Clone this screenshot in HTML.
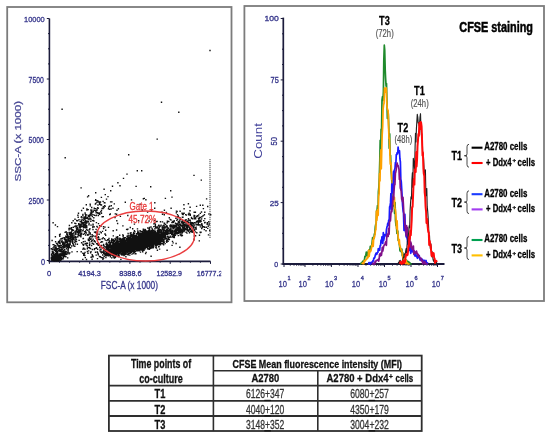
<!DOCTYPE html>
<html><head><meta charset="utf-8"><title>CFSE staining</title>
<style>html,body{margin:0;padding:0;background:#fff;width:550px;height:440px;overflow:hidden}svg{display:block}text{font-family:"Liberation Sans",Arial,sans-serif}</style>
</head><body>
<svg width="550" height="440" viewBox="0 0 550 440">
<rect width="550" height="440" fill="#fff"/>
<rect x="7.2" y="7" width="224.3" height="295.3" fill="none" stroke="#7c7c7c" stroke-width="1.8"/>
<rect x="244.4" y="6" width="299.6" height="295" fill="none" stroke="#7c7c7c" stroke-width="1.8"/>
<line x1="49.4" y1="18.5" x2="49.4" y2="262" stroke="#1c1c3c" stroke-width="1.6"/>
<line x1="48.6" y1="261.3" x2="210.5" y2="261.3" stroke="#1c1c3c" stroke-width="1.8"/>
<line x1="46.8" y1="260.5" x2="49.4" y2="260.5" stroke="#1c1c3c" stroke-width="1"/>
<line x1="48.0" y1="245.4" x2="49.4" y2="245.4" stroke="#1c1c3c" stroke-width="1"/>
<line x1="48.0" y1="230.2" x2="49.4" y2="230.2" stroke="#1c1c3c" stroke-width="1"/>
<line x1="48.0" y1="215.1" x2="49.4" y2="215.1" stroke="#1c1c3c" stroke-width="1"/>
<line x1="46.8" y1="200.0" x2="49.4" y2="200.0" stroke="#1c1c3c" stroke-width="1"/>
<line x1="48.0" y1="184.9" x2="49.4" y2="184.9" stroke="#1c1c3c" stroke-width="1"/>
<line x1="48.0" y1="169.8" x2="49.4" y2="169.8" stroke="#1c1c3c" stroke-width="1"/>
<line x1="48.0" y1="154.6" x2="49.4" y2="154.6" stroke="#1c1c3c" stroke-width="1"/>
<line x1="46.8" y1="139.5" x2="49.4" y2="139.5" stroke="#1c1c3c" stroke-width="1"/>
<line x1="48.0" y1="124.4" x2="49.4" y2="124.4" stroke="#1c1c3c" stroke-width="1"/>
<line x1="48.0" y1="109.2" x2="49.4" y2="109.2" stroke="#1c1c3c" stroke-width="1"/>
<line x1="48.0" y1="94.1" x2="49.4" y2="94.1" stroke="#1c1c3c" stroke-width="1"/>
<line x1="46.8" y1="79.0" x2="49.4" y2="79.0" stroke="#1c1c3c" stroke-width="1"/>
<line x1="48.0" y1="63.9" x2="49.4" y2="63.9" stroke="#1c1c3c" stroke-width="1"/>
<line x1="48.0" y1="48.8" x2="49.4" y2="48.8" stroke="#1c1c3c" stroke-width="1"/>
<line x1="48.0" y1="33.6" x2="49.4" y2="33.6" stroke="#1c1c3c" stroke-width="1"/>
<line x1="46.8" y1="18.5" x2="49.4" y2="18.5" stroke="#1c1c3c" stroke-width="1"/>
<line x1="49.4" y1="261.3" x2="49.4" y2="263.9" stroke="#1c1c3c" stroke-width="1"/>
<line x1="59.5" y1="261.3" x2="59.5" y2="262.7" stroke="#1c1c3c" stroke-width="1"/>
<line x1="69.5" y1="261.3" x2="69.5" y2="262.7" stroke="#1c1c3c" stroke-width="1"/>
<line x1="79.6" y1="261.3" x2="79.6" y2="262.7" stroke="#1c1c3c" stroke-width="1"/>
<line x1="89.7" y1="261.3" x2="89.7" y2="263.9" stroke="#1c1c3c" stroke-width="1"/>
<line x1="99.7" y1="261.3" x2="99.7" y2="262.7" stroke="#1c1c3c" stroke-width="1"/>
<line x1="109.8" y1="261.3" x2="109.8" y2="262.7" stroke="#1c1c3c" stroke-width="1"/>
<line x1="119.9" y1="261.3" x2="119.9" y2="262.7" stroke="#1c1c3c" stroke-width="1"/>
<line x1="129.9" y1="261.3" x2="129.9" y2="263.9" stroke="#1c1c3c" stroke-width="1"/>
<line x1="140.0" y1="261.3" x2="140.0" y2="262.7" stroke="#1c1c3c" stroke-width="1"/>
<line x1="150.1" y1="261.3" x2="150.1" y2="262.7" stroke="#1c1c3c" stroke-width="1"/>
<line x1="160.2" y1="261.3" x2="160.2" y2="262.7" stroke="#1c1c3c" stroke-width="1"/>
<line x1="170.2" y1="261.3" x2="170.2" y2="263.9" stroke="#1c1c3c" stroke-width="1"/>
<line x1="180.3" y1="261.3" x2="180.3" y2="262.7" stroke="#1c1c3c" stroke-width="1"/>
<line x1="190.4" y1="261.3" x2="190.4" y2="262.7" stroke="#1c1c3c" stroke-width="1"/>
<line x1="200.4" y1="261.3" x2="200.4" y2="262.7" stroke="#1c1c3c" stroke-width="1"/>
<line x1="210.5" y1="261.3" x2="210.5" y2="263.9" stroke="#1c1c3c" stroke-width="1"/>
<text x="24.0" y="22.2" font-size="8.10" fill="#34348a" stroke="#34348a" stroke-width="0.3" textLength="20.7" lengthAdjust="spacingAndGlyphs" >10000</text>
<text x="28.6" y="82.6" font-size="8.38" fill="#34348a" stroke="#34348a" stroke-width="0.3" textLength="15.2" lengthAdjust="spacingAndGlyphs" >7500</text>
<text x="28.6" y="143.2" font-size="8.38" fill="#34348a" stroke="#34348a" stroke-width="0.3" textLength="15.2" lengthAdjust="spacingAndGlyphs" >5000</text>
<text x="28.6" y="204.0" font-size="8.38" fill="#34348a" stroke="#34348a" stroke-width="0.3" textLength="15.2" lengthAdjust="spacingAndGlyphs" >2500</text>
<text x="40.9" y="264.5" font-size="8.38" fill="#34348a" stroke="#34348a" stroke-width="0.3" textLength="4.1" lengthAdjust="spacingAndGlyphs" >0</text>
<text x="47.0" y="275.8" font-size="7.68" fill="#34348a" stroke="#34348a" stroke-width="0.3" textLength="4.2" lengthAdjust="spacingAndGlyphs" >0</text>
<text x="78.2" y="275.8" font-size="7.68" fill="#34348a" stroke="#34348a" stroke-width="0.3" textLength="22.7" lengthAdjust="spacingAndGlyphs" >4194.3</text>
<text x="119.2" y="275.8" font-size="7.68" fill="#34348a" stroke="#34348a" stroke-width="0.3" textLength="22.4" lengthAdjust="spacingAndGlyphs" >8388.6</text>
<text x="156.5" y="275.8" font-size="7.68" fill="#34348a" stroke="#34348a" stroke-width="0.3" textLength="25.5" lengthAdjust="spacingAndGlyphs" >12582.9</text>
<clipPath id="c1"><rect x="190" y="265" width="31.2" height="15"/></clipPath>
<text x="196.8" y="275.8" font-size="7.68" fill="#34348a" stroke="#34348a" stroke-width="0.3" textLength="25.6" lengthAdjust="spacingAndGlyphs" clip-path="url(#c1)">16777.2</text>
<text x="100.8" y="289.3" font-size="10.89" fill="#34348a" stroke="#34348a" stroke-width="0.3" textLength="57.2" lengthAdjust="spacingAndGlyphs" >FSC-A (x 1000)</text>
<text transform="translate(21.3,181.4) rotate(-90)" x="0" y="0" font-size="8.6" fill="#4a4a96" stroke="#4a4a96" stroke-width="0.25" textLength="80.4" lengthAdjust="spacingAndGlyphs" font-family="Liberation Sans, Arial, sans-serif">SSC-A (x 1000)</text>
<path fill="#111" d="M131.2 241.7h1.4v1.4h-1.4zM149.5 241.6h1.4v1.4h-1.4zM149.4 241.2h1.4v1.4h-1.4zM130.7 244.8h1.4v1.4h-1.4zM114.6 251.0h1.4v1.4h-1.4zM136.5 236.3h1.4v1.4h-1.4zM123.3 243.8h1.4v1.4h-1.4zM159.4 239.3h1.4v1.4h-1.4zM139.2 243.5h1.4v1.4h-1.4zM137.6 239.8h1.4v1.4h-1.4zM126.4 241.8h1.4v1.4h-1.4zM139.2 242.7h1.4v1.4h-1.4zM130.1 247.6h1.4v1.4h-1.4zM123.5 247.9h1.4v1.4h-1.4zM141.5 246.7h1.4v1.4h-1.4zM120.6 244.0h1.4v1.4h-1.4zM132.8 239.9h1.4v1.4h-1.4zM143.9 237.7h1.4v1.4h-1.4zM144.2 244.2h1.4v1.4h-1.4zM122.8 239.1h1.4v1.4h-1.4zM142.1 238.6h1.4v1.4h-1.4zM121.8 248.9h1.4v1.4h-1.4zM152.9 245.8h1.4v1.4h-1.4zM132.4 242.4h1.4v1.4h-1.4zM108.3 237.7h1.4v1.4h-1.4zM131.3 239.5h1.4v1.4h-1.4zM149.0 240.4h1.4v1.4h-1.4zM138.0 241.4h1.4v1.4h-1.4zM142.0 243.4h1.4v1.4h-1.4zM138.8 243.3h1.4v1.4h-1.4zM109.4 246.4h1.4v1.4h-1.4zM142.2 243.5h1.4v1.4h-1.4zM116.7 240.0h1.4v1.4h-1.4zM140.0 243.7h1.4v1.4h-1.4zM135.3 237.7h1.4v1.4h-1.4zM135.0 243.5h1.4v1.4h-1.4zM122.9 241.6h1.4v1.4h-1.4zM128.2 239.5h1.4v1.4h-1.4zM132.8 242.3h1.4v1.4h-1.4zM137.7 233.1h1.4v1.4h-1.4zM125.5 247.6h1.4v1.4h-1.4zM132.2 244.8h1.4v1.4h-1.4zM137.4 244.6h1.4v1.4h-1.4zM135.3 243.2h1.4v1.4h-1.4zM145.1 242.7h1.4v1.4h-1.4zM148.0 243.4h1.4v1.4h-1.4zM135.5 246.2h1.4v1.4h-1.4zM151.2 232.9h1.4v1.4h-1.4zM121.0 247.4h1.4v1.4h-1.4zM144.7 242.7h1.4v1.4h-1.4zM139.0 244.0h1.4v1.4h-1.4zM150.1 240.8h1.4v1.4h-1.4zM132.1 243.6h1.4v1.4h-1.4zM159.7 236.0h1.4v1.4h-1.4zM134.9 246.5h1.4v1.4h-1.4zM135.8 237.2h1.4v1.4h-1.4zM130.0 241.4h1.4v1.4h-1.4zM159.4 236.5h1.4v1.4h-1.4zM144.8 245.9h1.4v1.4h-1.4zM123.3 246.4h1.4v1.4h-1.4zM145.2 241.2h1.4v1.4h-1.4zM125.6 253.4h1.4v1.4h-1.4zM168.5 229.7h1.4v1.4h-1.4zM129.5 246.3h1.4v1.4h-1.4zM137.1 239.7h1.4v1.4h-1.4zM155.5 242.1h1.4v1.4h-1.4zM123.2 251.0h1.4v1.4h-1.4zM118.2 238.4h1.4v1.4h-1.4zM135.9 246.9h1.4v1.4h-1.4zM136.8 238.6h1.4v1.4h-1.4zM147.6 240.8h1.4v1.4h-1.4zM154.6 240.3h1.4v1.4h-1.4zM139.6 240.2h1.4v1.4h-1.4zM136.9 240.2h1.4v1.4h-1.4zM153.5 239.4h1.4v1.4h-1.4zM128.7 245.2h1.4v1.4h-1.4zM152.7 237.7h1.4v1.4h-1.4zM146.9 238.3h1.4v1.4h-1.4zM139.5 244.2h1.4v1.4h-1.4zM131.7 240.6h1.4v1.4h-1.4zM135.0 246.7h1.4v1.4h-1.4zM145.4 242.4h1.4v1.4h-1.4zM112.1 252.4h1.4v1.4h-1.4zM147.3 237.5h1.4v1.4h-1.4zM132.6 243.9h1.4v1.4h-1.4zM135.4 242.7h1.4v1.4h-1.4zM140.6 237.1h1.4v1.4h-1.4zM124.1 244.3h1.4v1.4h-1.4zM114.7 250.1h1.4v1.4h-1.4zM126.3 246.2h1.4v1.4h-1.4zM135.8 237.4h1.4v1.4h-1.4zM138.4 249.8h1.4v1.4h-1.4zM122.8 242.5h1.4v1.4h-1.4zM129.0 239.8h1.4v1.4h-1.4zM104.8 248.9h1.4v1.4h-1.4zM157.8 243.4h1.4v1.4h-1.4zM105.9 246.1h1.4v1.4h-1.4zM139.5 243.4h1.4v1.4h-1.4zM143.7 242.2h1.4v1.4h-1.4zM122.6 238.9h1.4v1.4h-1.4zM144.9 234.6h1.4v1.4h-1.4zM149.6 232.0h1.4v1.4h-1.4zM142.8 249.6h1.4v1.4h-1.4zM96.6 251.3h1.4v1.4h-1.4zM141.1 237.5h1.4v1.4h-1.4zM131.0 246.1h1.4v1.4h-1.4zM134.4 242.4h1.4v1.4h-1.4zM132.8 244.0h1.4v1.4h-1.4zM124.9 248.5h1.4v1.4h-1.4zM157.0 237.1h1.4v1.4h-1.4zM143.2 242.9h1.4v1.4h-1.4zM137.4 245.3h1.4v1.4h-1.4zM109.3 244.5h1.4v1.4h-1.4zM134.0 240.8h1.4v1.4h-1.4zM117.8 249.6h1.4v1.4h-1.4zM153.5 240.6h1.4v1.4h-1.4zM160.7 232.1h1.4v1.4h-1.4zM136.3 241.0h1.4v1.4h-1.4zM158.6 240.3h1.4v1.4h-1.4zM125.3 240.4h1.4v1.4h-1.4zM133.7 241.0h1.4v1.4h-1.4zM135.8 244.6h1.4v1.4h-1.4zM143.2 241.9h1.4v1.4h-1.4zM129.0 250.0h1.4v1.4h-1.4zM127.1 245.1h1.4v1.4h-1.4zM144.6 241.2h1.4v1.4h-1.4zM134.3 247.6h1.4v1.4h-1.4zM106.1 251.4h1.4v1.4h-1.4zM141.4 244.9h1.4v1.4h-1.4zM140.5 237.8h1.4v1.4h-1.4zM123.3 254.9h1.4v1.4h-1.4zM143.3 234.8h1.4v1.4h-1.4zM125.8 247.2h1.4v1.4h-1.4zM138.0 241.2h1.4v1.4h-1.4zM135.2 245.2h1.4v1.4h-1.4zM147.0 232.3h1.4v1.4h-1.4zM133.7 246.0h1.4v1.4h-1.4zM128.0 245.4h1.4v1.4h-1.4zM129.6 232.5h1.4v1.4h-1.4zM125.7 244.4h1.4v1.4h-1.4zM131.3 247.0h1.4v1.4h-1.4zM123.6 242.3h1.4v1.4h-1.4zM140.4 245.7h1.4v1.4h-1.4zM134.8 244.7h1.4v1.4h-1.4zM137.6 242.8h1.4v1.4h-1.4zM135.4 236.9h1.4v1.4h-1.4zM133.5 236.6h1.4v1.4h-1.4zM144.6 243.2h1.4v1.4h-1.4zM142.1 241.2h1.4v1.4h-1.4zM132.4 242.7h1.4v1.4h-1.4zM147.9 235.9h1.4v1.4h-1.4zM137.1 240.3h1.4v1.4h-1.4zM111.0 248.7h1.4v1.4h-1.4zM141.5 236.1h1.4v1.4h-1.4zM128.1 249.6h1.4v1.4h-1.4zM141.7 241.9h1.4v1.4h-1.4zM152.7 233.4h1.4v1.4h-1.4zM121.6 241.6h1.4v1.4h-1.4zM134.0 243.4h1.4v1.4h-1.4zM133.6 238.0h1.4v1.4h-1.4zM132.1 242.4h1.4v1.4h-1.4zM135.2 244.5h1.4v1.4h-1.4zM133.2 240.5h1.4v1.4h-1.4zM149.7 240.3h1.4v1.4h-1.4zM115.8 246.9h1.4v1.4h-1.4zM122.3 249.5h1.4v1.4h-1.4zM140.2 239.1h1.4v1.4h-1.4zM130.5 248.4h1.4v1.4h-1.4zM144.0 239.7h1.4v1.4h-1.4zM129.3 249.3h1.4v1.4h-1.4zM121.0 246.9h1.4v1.4h-1.4zM155.8 243.1h1.4v1.4h-1.4zM164.6 237.2h1.4v1.4h-1.4zM111.9 246.5h1.4v1.4h-1.4zM125.7 246.3h1.4v1.4h-1.4zM142.9 240.2h1.4v1.4h-1.4zM143.7 236.6h1.4v1.4h-1.4zM149.3 233.3h1.4v1.4h-1.4zM150.7 242.9h1.4v1.4h-1.4zM147.2 242.6h1.4v1.4h-1.4zM149.7 239.8h1.4v1.4h-1.4zM133.2 245.4h1.4v1.4h-1.4zM126.6 251.2h1.4v1.4h-1.4zM136.6 249.3h1.4v1.4h-1.4zM152.1 235.8h1.4v1.4h-1.4zM132.7 246.9h1.4v1.4h-1.4zM151.9 239.2h1.4v1.4h-1.4zM126.1 246.5h1.4v1.4h-1.4zM155.1 242.2h1.4v1.4h-1.4zM144.0 242.0h1.4v1.4h-1.4zM126.9 245.3h1.4v1.4h-1.4zM159.7 234.6h1.4v1.4h-1.4zM114.2 240.5h1.4v1.4h-1.4zM116.2 249.4h1.4v1.4h-1.4zM132.3 238.7h1.4v1.4h-1.4zM129.1 246.8h1.4v1.4h-1.4zM141.1 242.5h1.4v1.4h-1.4zM128.3 241.5h1.4v1.4h-1.4zM144.6 240.4h1.4v1.4h-1.4zM130.9 248.3h1.4v1.4h-1.4zM139.1 244.0h1.4v1.4h-1.4zM147.8 242.3h1.4v1.4h-1.4zM171.8 240.7h1.4v1.4h-1.4zM140.7 243.5h1.4v1.4h-1.4zM132.3 245.1h1.4v1.4h-1.4zM132.7 237.6h1.4v1.4h-1.4zM135.8 246.5h1.4v1.4h-1.4zM123.0 246.6h1.4v1.4h-1.4zM144.1 239.6h1.4v1.4h-1.4zM144.6 236.9h1.4v1.4h-1.4zM141.1 243.5h1.4v1.4h-1.4zM135.9 246.4h1.4v1.4h-1.4zM157.9 235.1h1.4v1.4h-1.4zM138.2 242.3h1.4v1.4h-1.4zM145.6 237.4h1.4v1.4h-1.4zM147.6 240.2h1.4v1.4h-1.4zM144.5 232.6h1.4v1.4h-1.4zM135.4 244.7h1.4v1.4h-1.4zM115.8 246.8h1.4v1.4h-1.4zM130.2 237.6h1.4v1.4h-1.4zM119.8 248.0h1.4v1.4h-1.4zM136.1 239.6h1.4v1.4h-1.4zM129.0 246.9h1.4v1.4h-1.4zM133.3 236.9h1.4v1.4h-1.4zM138.4 241.2h1.4v1.4h-1.4zM124.5 247.4h1.4v1.4h-1.4zM133.6 243.8h1.4v1.4h-1.4zM103.4 247.9h1.4v1.4h-1.4zM146.3 243.1h1.4v1.4h-1.4zM132.9 231.7h1.4v1.4h-1.4zM134.2 244.1h1.4v1.4h-1.4zM129.7 247.6h1.4v1.4h-1.4zM122.2 253.0h1.4v1.4h-1.4zM146.4 241.1h1.4v1.4h-1.4zM130.9 241.3h1.4v1.4h-1.4zM134.9 247.2h1.4v1.4h-1.4zM145.6 239.9h1.4v1.4h-1.4zM135.3 239.8h1.4v1.4h-1.4zM128.1 252.9h1.4v1.4h-1.4zM139.0 244.5h1.4v1.4h-1.4zM121.0 253.7h1.4v1.4h-1.4zM127.7 242.9h1.4v1.4h-1.4zM137.8 243.4h1.4v1.4h-1.4zM112.4 242.3h1.4v1.4h-1.4zM126.6 228.9h1.4v1.4h-1.4zM130.5 241.6h1.4v1.4h-1.4zM134.7 242.1h1.4v1.4h-1.4zM126.7 247.5h1.4v1.4h-1.4zM135.5 243.3h1.4v1.4h-1.4zM117.8 254.1h1.4v1.4h-1.4zM143.5 241.7h1.4v1.4h-1.4zM146.5 246.1h1.4v1.4h-1.4zM148.9 241.0h1.4v1.4h-1.4zM142.5 242.5h1.4v1.4h-1.4zM137.6 243.1h1.4v1.4h-1.4zM144.4 246.3h1.4v1.4h-1.4zM139.4 241.8h1.4v1.4h-1.4zM132.3 236.0h1.4v1.4h-1.4zM128.9 241.5h1.4v1.4h-1.4zM127.1 242.6h1.4v1.4h-1.4zM131.4 246.5h1.4v1.4h-1.4zM133.6 233.0h1.4v1.4h-1.4zM137.7 242.8h1.4v1.4h-1.4zM103.3 249.0h1.4v1.4h-1.4zM128.1 246.5h1.4v1.4h-1.4zM106.1 250.5h1.4v1.4h-1.4zM140.1 234.7h1.4v1.4h-1.4zM138.5 246.9h1.4v1.4h-1.4zM129.0 240.6h1.4v1.4h-1.4zM142.0 240.0h1.4v1.4h-1.4zM135.4 244.4h1.4v1.4h-1.4zM124.1 244.5h1.4v1.4h-1.4zM164.4 242.9h1.4v1.4h-1.4zM140.1 242.7h1.4v1.4h-1.4zM132.4 247.4h1.4v1.4h-1.4zM119.0 243.8h1.4v1.4h-1.4zM132.6 234.6h1.4v1.4h-1.4zM153.6 243.2h1.4v1.4h-1.4zM123.4 244.1h1.4v1.4h-1.4zM138.5 244.8h1.4v1.4h-1.4zM148.2 232.0h1.4v1.4h-1.4zM128.2 240.6h1.4v1.4h-1.4zM125.8 245.3h1.4v1.4h-1.4zM114.8 256.6h1.4v1.4h-1.4zM111.6 247.4h1.4v1.4h-1.4zM138.2 242.9h1.4v1.4h-1.4zM140.5 239.8h1.4v1.4h-1.4zM110.6 253.0h1.4v1.4h-1.4zM144.8 243.6h1.4v1.4h-1.4zM142.1 249.6h1.4v1.4h-1.4zM121.1 249.2h1.4v1.4h-1.4zM130.6 245.6h1.4v1.4h-1.4zM133.0 237.3h1.4v1.4h-1.4zM135.7 243.5h1.4v1.4h-1.4zM131.9 245.9h1.4v1.4h-1.4zM139.7 234.0h1.4v1.4h-1.4zM140.5 242.5h1.4v1.4h-1.4zM118.2 248.7h1.4v1.4h-1.4zM146.1 245.0h1.4v1.4h-1.4zM131.8 240.0h1.4v1.4h-1.4zM129.7 248.5h1.4v1.4h-1.4zM112.1 244.0h1.4v1.4h-1.4zM129.0 242.3h1.4v1.4h-1.4zM135.3 242.6h1.4v1.4h-1.4zM114.9 250.9h1.4v1.4h-1.4zM146.0 243.1h1.4v1.4h-1.4zM150.8 238.8h1.4v1.4h-1.4zM139.4 241.1h1.4v1.4h-1.4zM125.4 248.4h1.4v1.4h-1.4zM130.5 238.7h1.4v1.4h-1.4zM145.6 237.2h1.4v1.4h-1.4zM143.3 241.7h1.4v1.4h-1.4zM168.0 238.5h1.4v1.4h-1.4zM162.8 239.1h1.4v1.4h-1.4zM148.7 236.2h1.4v1.4h-1.4zM148.0 245.1h1.4v1.4h-1.4zM113.6 243.2h1.4v1.4h-1.4zM139.1 244.4h1.4v1.4h-1.4zM122.7 246.5h1.4v1.4h-1.4zM133.7 235.9h1.4v1.4h-1.4zM150.4 238.0h1.4v1.4h-1.4zM158.8 239.0h1.4v1.4h-1.4zM121.3 243.0h1.4v1.4h-1.4zM129.4 239.9h1.4v1.4h-1.4zM119.0 249.3h1.4v1.4h-1.4zM132.4 243.4h1.4v1.4h-1.4zM125.7 245.2h1.4v1.4h-1.4zM138.5 246.1h1.4v1.4h-1.4zM129.1 244.9h1.4v1.4h-1.4zM130.1 245.0h1.4v1.4h-1.4zM131.3 244.0h1.4v1.4h-1.4zM152.0 235.3h1.4v1.4h-1.4zM130.8 244.1h1.4v1.4h-1.4zM114.0 254.0h1.4v1.4h-1.4zM158.5 225.2h1.4v1.4h-1.4zM137.6 239.7h1.4v1.4h-1.4zM103.2 250.2h1.4v1.4h-1.4zM144.7 233.7h1.4v1.4h-1.4zM145.4 239.0h1.4v1.4h-1.4zM151.0 245.4h1.4v1.4h-1.4zM137.3 240.2h1.4v1.4h-1.4zM142.8 242.4h1.4v1.4h-1.4zM124.0 246.0h1.4v1.4h-1.4zM137.5 240.0h1.4v1.4h-1.4zM125.0 252.1h1.4v1.4h-1.4zM135.8 240.7h1.4v1.4h-1.4zM126.4 241.9h1.4v1.4h-1.4zM118.9 245.0h1.4v1.4h-1.4zM164.4 227.0h1.4v1.4h-1.4zM118.1 251.0h1.4v1.4h-1.4zM151.6 239.5h1.4v1.4h-1.4zM137.1 246.4h1.4v1.4h-1.4zM134.5 241.8h1.4v1.4h-1.4zM133.1 236.9h1.4v1.4h-1.4zM119.6 249.5h1.4v1.4h-1.4zM138.3 242.4h1.4v1.4h-1.4zM124.2 242.4h1.4v1.4h-1.4zM140.6 243.0h1.4v1.4h-1.4zM133.6 244.1h1.4v1.4h-1.4zM131.6 245.3h1.4v1.4h-1.4zM136.3 236.7h1.4v1.4h-1.4zM141.1 246.3h1.4v1.4h-1.4zM156.0 244.1h1.4v1.4h-1.4zM138.0 240.8h1.4v1.4h-1.4zM151.2 243.6h1.4v1.4h-1.4zM134.7 242.6h1.4v1.4h-1.4zM123.8 244.2h1.4v1.4h-1.4zM106.2 246.3h1.4v1.4h-1.4zM136.9 250.1h1.4v1.4h-1.4zM122.5 246.9h1.4v1.4h-1.4zM156.0 240.3h1.4v1.4h-1.4zM107.0 252.5h1.4v1.4h-1.4zM139.0 236.1h1.4v1.4h-1.4zM121.5 251.3h1.4v1.4h-1.4zM131.7 246.7h1.4v1.4h-1.4zM150.8 234.1h1.4v1.4h-1.4zM159.3 237.0h1.4v1.4h-1.4zM115.0 249.2h1.4v1.4h-1.4zM136.3 244.5h1.4v1.4h-1.4zM145.9 239.6h1.4v1.4h-1.4zM124.8 237.0h1.4v1.4h-1.4zM134.4 247.6h1.4v1.4h-1.4zM139.6 246.1h1.4v1.4h-1.4zM116.0 254.6h1.4v1.4h-1.4zM136.7 243.2h1.4v1.4h-1.4zM135.1 235.4h1.4v1.4h-1.4zM133.8 239.3h1.4v1.4h-1.4zM129.9 241.4h1.4v1.4h-1.4zM120.6 241.3h1.4v1.4h-1.4zM149.0 239.2h1.4v1.4h-1.4zM128.4 251.1h1.4v1.4h-1.4zM133.4 247.9h1.4v1.4h-1.4zM140.2 246.5h1.4v1.4h-1.4zM141.2 242.7h1.4v1.4h-1.4zM158.9 242.3h1.4v1.4h-1.4zM137.1 243.3h1.4v1.4h-1.4zM127.3 238.8h1.4v1.4h-1.4zM134.2 241.6h1.4v1.4h-1.4zM118.3 240.6h1.4v1.4h-1.4zM138.4 241.3h1.4v1.4h-1.4zM162.0 240.9h1.4v1.4h-1.4zM137.1 244.3h1.4v1.4h-1.4zM146.7 233.3h1.4v1.4h-1.4zM144.1 245.3h1.4v1.4h-1.4zM139.4 240.9h1.4v1.4h-1.4zM138.7 245.2h1.4v1.4h-1.4zM144.7 241.2h1.4v1.4h-1.4zM133.1 246.8h1.4v1.4h-1.4zM149.3 238.5h1.4v1.4h-1.4zM132.8 244.3h1.4v1.4h-1.4zM115.5 250.2h1.4v1.4h-1.4zM131.5 248.1h1.4v1.4h-1.4zM138.2 240.9h1.4v1.4h-1.4zM135.3 243.3h1.4v1.4h-1.4zM139.8 251.4h1.4v1.4h-1.4zM120.3 246.4h1.4v1.4h-1.4zM141.7 245.2h1.4v1.4h-1.4zM139.1 239.0h1.4v1.4h-1.4zM132.4 240.6h1.4v1.4h-1.4zM128.9 244.6h1.4v1.4h-1.4zM153.5 234.7h1.4v1.4h-1.4zM140.1 246.6h1.4v1.4h-1.4zM124.1 243.1h1.4v1.4h-1.4zM158.5 241.2h1.4v1.4h-1.4zM136.9 239.2h1.4v1.4h-1.4zM122.6 246.1h1.4v1.4h-1.4zM135.3 237.9h1.4v1.4h-1.4zM133.8 235.6h1.4v1.4h-1.4zM129.0 247.1h1.4v1.4h-1.4zM144.0 235.2h1.4v1.4h-1.4zM140.6 237.4h1.4v1.4h-1.4zM129.4 245.4h1.4v1.4h-1.4zM142.4 243.1h1.4v1.4h-1.4zM127.1 238.1h1.4v1.4h-1.4zM139.5 243.7h1.4v1.4h-1.4zM128.7 248.4h1.4v1.4h-1.4zM130.5 241.6h1.4v1.4h-1.4zM133.7 241.3h1.4v1.4h-1.4zM144.4 238.2h1.4v1.4h-1.4zM141.9 246.8h1.4v1.4h-1.4zM142.0 246.1h1.4v1.4h-1.4zM139.1 245.5h1.4v1.4h-1.4zM115.9 242.8h1.4v1.4h-1.4zM117.1 247.5h1.4v1.4h-1.4zM146.6 244.0h1.4v1.4h-1.4zM135.1 250.6h1.4v1.4h-1.4zM116.8 250.1h1.4v1.4h-1.4zM136.0 235.5h1.4v1.4h-1.4zM136.3 235.6h1.4v1.4h-1.4zM128.2 249.2h1.4v1.4h-1.4zM129.1 249.0h1.4v1.4h-1.4zM114.8 244.1h1.4v1.4h-1.4zM128.8 246.6h1.4v1.4h-1.4zM118.4 248.5h1.4v1.4h-1.4zM123.4 253.0h1.4v1.4h-1.4zM123.7 250.8h1.4v1.4h-1.4zM100.9 252.0h1.4v1.4h-1.4zM127.6 244.2h1.4v1.4h-1.4zM149.6 241.2h1.4v1.4h-1.4zM120.3 244.1h1.4v1.4h-1.4zM116.9 247.0h1.4v1.4h-1.4zM122.0 245.7h1.4v1.4h-1.4zM140.9 246.8h1.4v1.4h-1.4zM135.0 240.8h1.4v1.4h-1.4zM132.6 244.7h1.4v1.4h-1.4zM133.4 243.9h1.4v1.4h-1.4zM118.4 249.7h1.4v1.4h-1.4zM133.4 240.2h1.4v1.4h-1.4zM149.7 241.2h1.4v1.4h-1.4zM139.7 245.3h1.4v1.4h-1.4zM148.7 234.0h1.4v1.4h-1.4zM124.6 241.7h1.4v1.4h-1.4zM141.9 250.2h1.4v1.4h-1.4zM118.5 240.5h1.4v1.4h-1.4zM124.5 244.9h1.4v1.4h-1.4zM152.9 243.4h1.4v1.4h-1.4zM141.4 243.8h1.4v1.4h-1.4zM135.5 246.7h1.4v1.4h-1.4zM155.2 238.4h1.4v1.4h-1.4zM136.0 245.8h1.4v1.4h-1.4zM118.1 244.3h1.4v1.4h-1.4zM114.3 239.9h1.4v1.4h-1.4zM156.5 234.9h1.4v1.4h-1.4zM135.9 240.4h1.4v1.4h-1.4zM133.6 244.0h1.4v1.4h-1.4zM153.0 240.4h1.4v1.4h-1.4zM140.9 242.9h1.4v1.4h-1.4zM137.6 245.7h1.4v1.4h-1.4zM154.2 242.0h1.4v1.4h-1.4zM147.5 236.1h1.4v1.4h-1.4zM119.9 238.1h1.4v1.4h-1.4zM138.8 239.6h1.4v1.4h-1.4zM114.8 249.1h1.4v1.4h-1.4zM147.6 243.1h1.4v1.4h-1.4zM136.1 244.8h1.4v1.4h-1.4zM148.5 241.3h1.4v1.4h-1.4zM120.1 246.5h1.4v1.4h-1.4zM135.9 242.6h1.4v1.4h-1.4zM118.8 245.9h1.4v1.4h-1.4zM142.2 244.2h1.4v1.4h-1.4zM139.7 241.6h1.4v1.4h-1.4zM132.8 242.9h1.4v1.4h-1.4zM124.6 252.9h1.4v1.4h-1.4zM150.1 240.0h1.4v1.4h-1.4zM137.5 241.9h1.4v1.4h-1.4zM126.2 242.3h1.4v1.4h-1.4zM124.5 241.7h1.4v1.4h-1.4zM136.6 245.1h1.4v1.4h-1.4zM120.2 243.9h1.4v1.4h-1.4zM130.1 250.5h1.4v1.4h-1.4zM124.9 245.5h1.4v1.4h-1.4zM153.0 237.8h1.4v1.4h-1.4zM130.2 246.9h1.4v1.4h-1.4zM118.9 243.6h1.4v1.4h-1.4zM154.2 236.7h1.4v1.4h-1.4zM131.2 244.4h1.4v1.4h-1.4zM143.2 241.1h1.4v1.4h-1.4zM119.6 242.5h1.4v1.4h-1.4zM148.9 236.4h1.4v1.4h-1.4zM120.2 241.5h1.4v1.4h-1.4zM130.7 241.3h1.4v1.4h-1.4zM114.6 249.6h1.4v1.4h-1.4zM136.2 241.7h1.4v1.4h-1.4zM151.4 241.8h1.4v1.4h-1.4zM143.1 233.8h1.4v1.4h-1.4zM135.1 246.0h1.4v1.4h-1.4zM128.4 240.2h1.4v1.4h-1.4zM138.7 241.7h1.4v1.4h-1.4zM141.0 241.2h1.4v1.4h-1.4zM110.6 252.5h1.4v1.4h-1.4zM147.4 239.8h1.4v1.4h-1.4zM168.7 238.8h1.4v1.4h-1.4zM129.7 243.3h1.4v1.4h-1.4zM137.1 244.6h1.4v1.4h-1.4zM154.2 238.7h1.4v1.4h-1.4zM140.2 241.5h1.4v1.4h-1.4zM136.5 242.2h1.4v1.4h-1.4zM137.2 248.2h1.4v1.4h-1.4zM155.2 235.8h1.4v1.4h-1.4zM148.6 244.3h1.4v1.4h-1.4zM122.1 250.1h1.4v1.4h-1.4zM143.5 239.7h1.4v1.4h-1.4zM134.7 243.8h1.4v1.4h-1.4zM122.5 251.3h1.4v1.4h-1.4zM128.5 249.8h1.4v1.4h-1.4zM145.1 243.8h1.4v1.4h-1.4zM124.6 249.0h1.4v1.4h-1.4zM131.3 241.7h1.4v1.4h-1.4zM122.0 241.2h1.4v1.4h-1.4zM123.6 243.6h1.4v1.4h-1.4zM155.2 235.5h1.4v1.4h-1.4zM133.5 242.0h1.4v1.4h-1.4zM129.5 250.6h1.4v1.4h-1.4zM105.8 242.2h1.4v1.4h-1.4zM126.7 246.9h1.4v1.4h-1.4zM143.7 238.1h1.4v1.4h-1.4zM112.1 242.7h1.4v1.4h-1.4zM134.9 243.4h1.4v1.4h-1.4zM119.5 244.0h1.4v1.4h-1.4zM137.6 241.7h1.4v1.4h-1.4zM142.6 232.6h1.4v1.4h-1.4zM129.2 235.5h1.4v1.4h-1.4zM125.4 252.4h1.4v1.4h-1.4zM148.1 237.0h1.4v1.4h-1.4zM139.7 234.6h1.4v1.4h-1.4zM135.3 236.7h1.4v1.4h-1.4zM126.7 245.7h1.4v1.4h-1.4zM136.5 248.8h1.4v1.4h-1.4zM153.5 234.3h1.4v1.4h-1.4zM135.4 236.9h1.4v1.4h-1.4zM147.1 243.0h1.4v1.4h-1.4zM128.3 246.0h1.4v1.4h-1.4zM144.4 245.7h1.4v1.4h-1.4zM122.8 244.2h1.4v1.4h-1.4zM137.0 241.6h1.4v1.4h-1.4zM130.4 242.7h1.4v1.4h-1.4zM136.1 240.3h1.4v1.4h-1.4zM127.2 248.5h1.4v1.4h-1.4zM172.0 231.3h1.4v1.4h-1.4zM118.8 247.5h1.4v1.4h-1.4zM136.3 238.0h1.4v1.4h-1.4zM135.6 234.4h1.4v1.4h-1.4zM135.1 244.1h1.4v1.4h-1.4zM137.5 243.9h1.4v1.4h-1.4zM111.6 251.2h1.4v1.4h-1.4zM161.8 239.2h1.4v1.4h-1.4zM125.1 247.6h1.4v1.4h-1.4zM144.2 240.1h1.4v1.4h-1.4zM112.8 239.4h1.4v1.4h-1.4zM124.7 248.0h1.4v1.4h-1.4zM173.7 236.1h1.4v1.4h-1.4zM144.6 241.5h1.4v1.4h-1.4zM156.1 232.2h1.4v1.4h-1.4zM155.7 235.8h1.4v1.4h-1.4zM114.6 256.0h1.4v1.4h-1.4zM146.6 234.2h1.4v1.4h-1.4zM129.5 241.0h1.4v1.4h-1.4zM135.7 244.6h1.4v1.4h-1.4zM135.1 244.9h1.4v1.4h-1.4zM140.1 244.2h1.4v1.4h-1.4zM134.0 242.8h1.4v1.4h-1.4zM135.9 241.8h1.4v1.4h-1.4zM138.0 231.6h1.4v1.4h-1.4zM140.6 243.1h1.4v1.4h-1.4zM157.4 231.6h1.4v1.4h-1.4zM126.0 248.0h1.4v1.4h-1.4zM140.3 237.1h1.4v1.4h-1.4zM141.0 243.6h1.4v1.4h-1.4zM132.3 248.0h1.4v1.4h-1.4zM142.3 243.4h1.4v1.4h-1.4zM139.9 238.9h1.4v1.4h-1.4zM131.5 245.8h1.4v1.4h-1.4zM125.2 252.2h1.4v1.4h-1.4zM139.2 242.0h1.4v1.4h-1.4zM131.2 246.2h1.4v1.4h-1.4zM133.4 246.1h1.4v1.4h-1.4zM107.0 239.0h1.4v1.4h-1.4zM140.3 242.6h1.4v1.4h-1.4zM138.2 241.4h1.4v1.4h-1.4zM127.6 254.0h1.4v1.4h-1.4zM139.7 245.0h1.4v1.4h-1.4zM158.9 237.4h1.4v1.4h-1.4zM139.2 237.5h1.4v1.4h-1.4zM139.2 246.5h1.4v1.4h-1.4zM142.6 234.0h1.4v1.4h-1.4zM137.0 244.0h1.4v1.4h-1.4zM124.1 248.3h1.4v1.4h-1.4zM138.3 236.1h1.4v1.4h-1.4zM142.3 245.6h1.4v1.4h-1.4zM154.3 240.8h1.4v1.4h-1.4zM133.9 241.9h1.4v1.4h-1.4zM120.8 238.8h1.4v1.4h-1.4zM132.8 243.7h1.4v1.4h-1.4zM109.9 250.2h1.4v1.4h-1.4zM145.7 246.5h1.4v1.4h-1.4zM140.4 238.0h1.4v1.4h-1.4zM150.3 239.6h1.4v1.4h-1.4zM128.6 244.5h1.4v1.4h-1.4zM146.7 246.6h1.4v1.4h-1.4zM131.0 239.7h1.4v1.4h-1.4zM158.0 234.1h1.4v1.4h-1.4zM119.8 246.7h1.4v1.4h-1.4zM132.4 243.6h1.4v1.4h-1.4zM136.8 244.9h1.4v1.4h-1.4zM136.4 249.1h1.4v1.4h-1.4zM151.8 242.2h1.4v1.4h-1.4zM151.8 238.4h1.4v1.4h-1.4zM115.7 248.6h1.4v1.4h-1.4zM149.6 243.6h1.4v1.4h-1.4zM144.7 237.0h1.4v1.4h-1.4zM134.2 245.1h1.4v1.4h-1.4zM144.9 236.0h1.4v1.4h-1.4zM143.8 236.2h1.4v1.4h-1.4zM145.4 233.1h1.4v1.4h-1.4zM124.2 242.6h1.4v1.4h-1.4zM122.3 245.5h1.4v1.4h-1.4zM137.6 245.6h1.4v1.4h-1.4zM127.1 240.7h1.4v1.4h-1.4zM142.1 231.6h1.4v1.4h-1.4zM137.1 241.4h1.4v1.4h-1.4zM163.9 238.3h1.4v1.4h-1.4zM119.7 249.1h1.4v1.4h-1.4zM130.4 244.6h1.4v1.4h-1.4zM132.4 243.8h1.4v1.4h-1.4zM156.1 236.6h1.4v1.4h-1.4zM118.1 240.9h1.4v1.4h-1.4zM137.3 241.8h1.4v1.4h-1.4zM134.3 248.5h1.4v1.4h-1.4zM106.6 247.2h1.4v1.4h-1.4zM135.9 247.1h1.4v1.4h-1.4zM145.1 241.6h1.4v1.4h-1.4zM130.7 242.3h1.4v1.4h-1.4zM149.9 240.7h1.4v1.4h-1.4zM119.9 247.7h1.4v1.4h-1.4zM140.1 243.2h1.4v1.4h-1.4zM126.7 246.7h1.4v1.4h-1.4zM147.8 237.0h1.4v1.4h-1.4zM121.5 242.5h1.4v1.4h-1.4zM142.2 246.6h1.4v1.4h-1.4zM118.7 248.5h1.4v1.4h-1.4zM132.0 246.3h1.4v1.4h-1.4zM122.5 245.8h1.4v1.4h-1.4zM146.7 240.1h1.4v1.4h-1.4zM137.1 247.0h1.4v1.4h-1.4zM129.1 254.4h1.4v1.4h-1.4zM136.5 244.8h1.4v1.4h-1.4zM145.0 243.4h1.4v1.4h-1.4zM123.9 242.6h1.4v1.4h-1.4zM141.5 239.5h1.4v1.4h-1.4zM134.9 245.2h1.4v1.4h-1.4zM122.3 240.6h1.4v1.4h-1.4zM147.2 233.2h1.4v1.4h-1.4zM131.8 236.2h1.4v1.4h-1.4zM112.8 247.2h1.4v1.4h-1.4zM140.4 240.6h1.4v1.4h-1.4zM156.5 237.8h1.4v1.4h-1.4zM102.5 250.8h1.4v1.4h-1.4zM114.8 244.0h1.4v1.4h-1.4zM125.8 247.5h1.4v1.4h-1.4zM115.8 249.2h1.4v1.4h-1.4zM123.2 248.8h1.4v1.4h-1.4zM123.6 238.5h1.4v1.4h-1.4zM121.3 246.5h1.4v1.4h-1.4zM132.1 241.4h1.4v1.4h-1.4zM130.0 243.4h1.4v1.4h-1.4zM122.3 238.1h1.4v1.4h-1.4zM143.4 241.8h1.4v1.4h-1.4zM136.6 243.1h1.4v1.4h-1.4zM120.9 244.4h1.4v1.4h-1.4zM136.0 237.1h1.4v1.4h-1.4zM119.7 246.3h1.4v1.4h-1.4zM125.2 242.7h1.4v1.4h-1.4zM114.7 238.8h1.4v1.4h-1.4zM129.4 244.8h1.4v1.4h-1.4zM121.0 243.0h1.4v1.4h-1.4zM160.1 243.2h1.4v1.4h-1.4zM118.0 244.9h1.4v1.4h-1.4zM125.3 240.7h1.4v1.4h-1.4zM139.5 238.5h1.4v1.4h-1.4zM142.8 244.9h1.4v1.4h-1.4zM149.2 235.3h1.4v1.4h-1.4zM161.5 237.3h1.4v1.4h-1.4zM140.1 238.7h1.4v1.4h-1.4zM126.9 245.2h1.4v1.4h-1.4zM124.0 249.2h1.4v1.4h-1.4zM153.0 239.1h1.4v1.4h-1.4zM116.8 250.7h1.4v1.4h-1.4zM134.7 243.6h1.4v1.4h-1.4zM143.0 236.0h1.4v1.4h-1.4zM138.7 237.1h1.4v1.4h-1.4zM131.6 237.2h1.4v1.4h-1.4zM151.5 239.3h1.4v1.4h-1.4zM139.9 240.1h1.4v1.4h-1.4zM139.8 243.0h1.4v1.4h-1.4zM111.4 247.6h1.4v1.4h-1.4zM136.8 243.9h1.4v1.4h-1.4zM135.5 238.9h1.4v1.4h-1.4zM130.7 245.9h1.4v1.4h-1.4zM155.8 232.2h1.4v1.4h-1.4zM127.6 248.0h1.4v1.4h-1.4zM159.3 234.0h1.4v1.4h-1.4zM147.9 238.8h1.4v1.4h-1.4zM134.7 241.9h1.4v1.4h-1.4zM141.0 238.5h1.4v1.4h-1.4zM138.5 238.7h1.4v1.4h-1.4zM149.0 238.5h1.4v1.4h-1.4zM134.5 238.6h1.4v1.4h-1.4zM136.0 238.9h1.4v1.4h-1.4zM112.8 249.1h1.4v1.4h-1.4zM141.2 244.6h1.4v1.4h-1.4zM145.2 240.1h1.4v1.4h-1.4zM147.3 243.0h1.4v1.4h-1.4zM131.3 244.8h1.4v1.4h-1.4zM141.0 244.6h1.4v1.4h-1.4zM139.3 244.7h1.4v1.4h-1.4zM153.5 239.9h1.4v1.4h-1.4zM147.0 244.7h1.4v1.4h-1.4zM133.5 250.0h1.4v1.4h-1.4zM111.7 245.6h1.4v1.4h-1.4zM140.5 238.2h1.4v1.4h-1.4zM113.5 254.3h1.4v1.4h-1.4zM149.6 240.9h1.4v1.4h-1.4zM128.4 244.0h1.4v1.4h-1.4zM130.9 234.1h1.4v1.4h-1.4zM128.0 242.3h1.4v1.4h-1.4zM142.5 248.1h1.4v1.4h-1.4zM119.3 247.3h1.4v1.4h-1.4zM135.6 238.4h1.4v1.4h-1.4zM125.3 246.7h1.4v1.4h-1.4zM141.4 240.1h1.4v1.4h-1.4zM128.0 249.4h1.4v1.4h-1.4zM123.5 244.3h1.4v1.4h-1.4zM133.9 244.7h1.4v1.4h-1.4zM135.4 240.7h1.4v1.4h-1.4zM131.3 239.4h1.4v1.4h-1.4zM136.9 233.1h1.4v1.4h-1.4zM142.3 243.5h1.4v1.4h-1.4zM128.0 249.4h1.4v1.4h-1.4zM118.4 243.6h1.4v1.4h-1.4zM136.7 249.4h1.4v1.4h-1.4zM129.8 246.0h1.4v1.4h-1.4zM151.6 235.2h1.4v1.4h-1.4zM138.6 242.6h1.4v1.4h-1.4zM139.1 245.0h1.4v1.4h-1.4zM145.4 239.7h1.4v1.4h-1.4zM143.5 233.0h1.4v1.4h-1.4zM133.6 246.1h1.4v1.4h-1.4zM131.0 247.1h1.4v1.4h-1.4zM147.2 245.3h1.4v1.4h-1.4zM158.3 235.1h1.4v1.4h-1.4zM144.2 241.7h1.4v1.4h-1.4zM136.5 239.7h1.4v1.4h-1.4zM134.5 241.3h1.4v1.4h-1.4zM117.4 242.6h1.4v1.4h-1.4zM133.5 241.6h1.4v1.4h-1.4zM108.0 244.7h1.4v1.4h-1.4zM131.3 235.2h1.4v1.4h-1.4zM130.9 243.7h1.4v1.4h-1.4zM120.8 244.1h1.4v1.4h-1.4zM150.8 243.5h1.4v1.4h-1.4zM129.6 250.4h1.4v1.4h-1.4zM102.2 247.5h1.4v1.4h-1.4zM125.9 246.1h1.4v1.4h-1.4zM127.5 247.7h1.4v1.4h-1.4zM131.9 241.6h1.4v1.4h-1.4zM131.0 246.3h1.4v1.4h-1.4zM121.2 246.0h1.4v1.4h-1.4zM127.9 241.7h1.4v1.4h-1.4zM146.0 244.0h1.4v1.4h-1.4zM140.1 236.5h1.4v1.4h-1.4zM142.7 235.2h1.4v1.4h-1.4zM113.6 246.4h1.4v1.4h-1.4zM143.3 243.1h1.4v1.4h-1.4zM136.5 244.0h1.4v1.4h-1.4zM142.5 246.4h1.4v1.4h-1.4zM143.9 243.0h1.4v1.4h-1.4zM130.4 245.9h1.4v1.4h-1.4zM174.0 232.8h1.4v1.4h-1.4zM151.5 235.5h1.4v1.4h-1.4zM129.6 245.1h1.4v1.4h-1.4zM127.2 243.8h1.4v1.4h-1.4zM163.2 235.9h1.4v1.4h-1.4zM112.6 240.6h1.4v1.4h-1.4zM135.5 245.6h1.4v1.4h-1.4zM156.2 236.7h1.4v1.4h-1.4zM132.0 241.0h1.4v1.4h-1.4zM152.8 245.3h1.4v1.4h-1.4zM138.2 233.7h1.4v1.4h-1.4zM130.7 241.6h1.4v1.4h-1.4zM128.9 240.6h1.4v1.4h-1.4zM119.8 251.5h1.4v1.4h-1.4zM150.5 237.9h1.4v1.4h-1.4zM141.9 234.9h1.4v1.4h-1.4zM149.2 241.1h1.4v1.4h-1.4zM140.1 238.6h1.4v1.4h-1.4zM152.5 241.5h1.4v1.4h-1.4zM104.4 253.7h1.4v1.4h-1.4zM148.4 240.9h1.4v1.4h-1.4zM134.8 242.9h1.4v1.4h-1.4zM149.7 244.4h1.4v1.4h-1.4zM129.6 237.7h1.4v1.4h-1.4zM125.2 247.0h1.4v1.4h-1.4zM121.4 238.8h1.4v1.4h-1.4zM141.0 244.2h1.4v1.4h-1.4zM124.5 246.9h1.4v1.4h-1.4zM145.0 242.3h1.4v1.4h-1.4zM161.8 234.9h1.4v1.4h-1.4zM166.4 233.7h1.4v1.4h-1.4zM136.3 241.3h1.4v1.4h-1.4zM126.2 242.8h1.4v1.4h-1.4zM148.5 238.4h1.4v1.4h-1.4zM130.5 240.1h1.4v1.4h-1.4zM142.9 240.8h1.4v1.4h-1.4zM129.8 243.8h1.4v1.4h-1.4zM124.2 249.0h1.4v1.4h-1.4zM119.2 247.8h1.4v1.4h-1.4zM140.6 239.9h1.4v1.4h-1.4zM129.0 244.0h1.4v1.4h-1.4zM134.4 241.2h1.4v1.4h-1.4zM133.6 238.0h1.4v1.4h-1.4zM138.4 246.8h1.4v1.4h-1.4zM118.3 247.6h1.4v1.4h-1.4zM131.0 244.9h1.4v1.4h-1.4zM144.4 236.4h1.4v1.4h-1.4zM134.7 240.9h1.4v1.4h-1.4zM133.5 241.4h1.4v1.4h-1.4zM128.6 242.9h1.4v1.4h-1.4zM115.4 250.2h1.4v1.4h-1.4zM136.0 244.1h1.4v1.4h-1.4zM133.3 243.0h1.4v1.4h-1.4zM136.6 238.9h1.4v1.4h-1.4zM110.3 244.7h1.4v1.4h-1.4zM145.3 236.3h1.4v1.4h-1.4zM139.8 240.0h1.4v1.4h-1.4zM121.8 239.6h1.4v1.4h-1.4zM138.3 243.9h1.4v1.4h-1.4zM129.9 232.9h1.4v1.4h-1.4zM151.8 240.4h1.4v1.4h-1.4zM113.7 250.2h1.4v1.4h-1.4zM152.4 241.3h1.4v1.4h-1.4zM138.7 237.5h1.4v1.4h-1.4zM129.8 245.3h1.4v1.4h-1.4zM153.3 242.7h1.4v1.4h-1.4zM124.8 244.3h1.4v1.4h-1.4zM129.4 242.7h1.4v1.4h-1.4zM115.8 246.1h1.4v1.4h-1.4zM137.0 242.9h1.4v1.4h-1.4zM142.7 236.8h1.4v1.4h-1.4zM136.3 243.8h1.4v1.4h-1.4zM144.0 245.7h1.4v1.4h-1.4zM127.6 244.6h1.4v1.4h-1.4zM113.5 242.4h1.4v1.4h-1.4zM145.4 242.1h1.4v1.4h-1.4zM148.9 242.7h1.4v1.4h-1.4zM141.4 244.5h1.4v1.4h-1.4zM124.3 247.3h1.4v1.4h-1.4zM151.7 239.4h1.4v1.4h-1.4zM148.8 239.2h1.4v1.4h-1.4zM141.6 240.9h1.4v1.4h-1.4zM132.7 240.0h1.4v1.4h-1.4zM132.4 237.7h1.4v1.4h-1.4zM173.6 236.8h1.4v1.4h-1.4zM114.2 245.2h1.4v1.4h-1.4zM136.2 236.3h1.4v1.4h-1.4zM127.6 242.0h1.4v1.4h-1.4zM154.0 230.6h1.4v1.4h-1.4zM126.1 237.8h1.4v1.4h-1.4zM117.1 247.8h1.4v1.4h-1.4zM123.0 247.2h1.4v1.4h-1.4zM128.4 241.2h1.4v1.4h-1.4zM123.1 246.4h1.4v1.4h-1.4zM136.8 245.9h1.4v1.4h-1.4zM160.6 237.4h1.4v1.4h-1.4zM119.9 248.3h1.4v1.4h-1.4zM137.5 243.7h1.4v1.4h-1.4zM126.1 238.2h1.4v1.4h-1.4zM145.3 239.1h1.4v1.4h-1.4zM130.7 244.9h1.4v1.4h-1.4zM103.4 255.7h1.4v1.4h-1.4zM135.9 238.0h1.4v1.4h-1.4zM147.7 237.9h1.4v1.4h-1.4zM134.0 246.0h1.4v1.4h-1.4zM139.4 238.9h1.4v1.4h-1.4zM138.3 245.8h1.4v1.4h-1.4zM113.6 242.7h1.4v1.4h-1.4zM140.1 234.7h1.4v1.4h-1.4zM130.6 243.1h1.4v1.4h-1.4zM143.7 243.3h1.4v1.4h-1.4zM139.7 236.6h1.4v1.4h-1.4zM118.1 253.2h1.4v1.4h-1.4zM123.7 238.9h1.4v1.4h-1.4zM119.9 249.7h1.4v1.4h-1.4zM147.5 241.4h1.4v1.4h-1.4zM127.5 247.2h1.4v1.4h-1.4zM127.4 246.5h1.4v1.4h-1.4zM163.5 235.4h1.4v1.4h-1.4zM139.3 242.1h1.4v1.4h-1.4zM133.9 246.5h1.4v1.4h-1.4zM138.4 240.2h1.4v1.4h-1.4zM155.3 241.6h1.4v1.4h-1.4zM118.3 245.7h1.4v1.4h-1.4zM126.4 249.1h1.4v1.4h-1.4zM133.6 239.9h1.4v1.4h-1.4zM138.2 248.3h1.4v1.4h-1.4zM142.0 250.8h1.4v1.4h-1.4zM131.0 238.5h1.4v1.4h-1.4zM136.2 243.2h1.4v1.4h-1.4zM123.9 250.7h1.4v1.4h-1.4zM144.0 240.8h1.4v1.4h-1.4zM137.6 243.0h1.4v1.4h-1.4zM148.4 237.9h1.4v1.4h-1.4zM149.1 247.1h1.4v1.4h-1.4zM139.1 239.8h1.4v1.4h-1.4zM141.8 242.5h1.4v1.4h-1.4zM135.9 239.5h1.4v1.4h-1.4zM117.0 247.5h1.4v1.4h-1.4zM140.2 245.5h1.4v1.4h-1.4zM139.7 240.8h1.4v1.4h-1.4zM152.1 241.0h1.4v1.4h-1.4zM137.6 241.3h1.4v1.4h-1.4zM109.8 243.6h1.4v1.4h-1.4zM129.1 246.3h1.4v1.4h-1.4zM134.8 246.9h1.4v1.4h-1.4zM139.4 234.5h1.4v1.4h-1.4zM125.2 256.0h1.4v1.4h-1.4zM128.0 243.7h1.4v1.4h-1.4zM141.2 239.0h1.4v1.4h-1.4zM140.1 244.5h1.4v1.4h-1.4zM108.6 250.2h1.4v1.4h-1.4zM129.0 248.8h1.4v1.4h-1.4zM112.8 251.9h1.4v1.4h-1.4zM143.2 238.2h1.4v1.4h-1.4zM139.7 239.8h1.4v1.4h-1.4zM145.6 240.7h1.4v1.4h-1.4zM162.5 242.5h1.4v1.4h-1.4zM140.8 240.4h1.4v1.4h-1.4zM140.9 240.1h1.4v1.4h-1.4zM144.2 238.7h1.4v1.4h-1.4zM127.3 235.5h1.4v1.4h-1.4zM143.9 240.4h1.4v1.4h-1.4zM133.4 242.4h1.4v1.4h-1.4zM137.4 246.2h1.4v1.4h-1.4zM173.7 235.2h1.4v1.4h-1.4zM139.9 243.2h1.4v1.4h-1.4zM144.4 243.6h1.4v1.4h-1.4zM131.6 241.6h1.4v1.4h-1.4zM128.8 244.7h1.4v1.4h-1.4zM106.7 250.2h1.4v1.4h-1.4zM139.4 230.0h1.4v1.4h-1.4zM134.4 246.0h1.4v1.4h-1.4zM134.9 244.5h1.4v1.4h-1.4zM122.0 246.1h1.4v1.4h-1.4zM133.7 243.0h1.4v1.4h-1.4zM124.8 240.8h1.4v1.4h-1.4zM119.0 234.5h1.4v1.4h-1.4zM133.2 247.0h1.4v1.4h-1.4zM106.3 254.5h1.4v1.4h-1.4zM125.8 247.7h1.4v1.4h-1.4zM136.3 242.9h1.4v1.4h-1.4zM143.3 239.6h1.4v1.4h-1.4zM128.7 246.5h1.4v1.4h-1.4zM151.8 233.1h1.4v1.4h-1.4zM138.2 241.6h1.4v1.4h-1.4zM125.4 239.4h1.4v1.4h-1.4zM123.4 254.3h1.4v1.4h-1.4zM132.3 234.6h1.4v1.4h-1.4zM102.1 257.1h1.4v1.4h-1.4zM121.6 250.5h1.4v1.4h-1.4zM131.0 239.6h1.4v1.4h-1.4zM121.3 249.8h1.4v1.4h-1.4zM124.8 248.7h1.4v1.4h-1.4zM126.9 242.7h1.4v1.4h-1.4zM114.8 246.8h1.4v1.4h-1.4zM126.2 245.7h1.4v1.4h-1.4zM148.3 237.4h1.4v1.4h-1.4zM112.4 249.7h1.4v1.4h-1.4zM147.3 245.8h1.4v1.4h-1.4zM118.4 240.3h1.4v1.4h-1.4zM137.7 243.3h1.4v1.4h-1.4zM147.7 245.6h1.4v1.4h-1.4zM140.9 243.9h1.4v1.4h-1.4zM119.3 240.3h1.4v1.4h-1.4zM129.9 244.8h1.4v1.4h-1.4zM154.5 238.6h1.4v1.4h-1.4zM112.3 247.5h1.4v1.4h-1.4zM147.2 244.4h1.4v1.4h-1.4zM125.8 245.7h1.4v1.4h-1.4zM129.0 247.4h1.4v1.4h-1.4zM140.9 246.0h1.4v1.4h-1.4zM144.8 245.7h1.4v1.4h-1.4zM130.1 241.2h1.4v1.4h-1.4zM149.3 236.1h1.4v1.4h-1.4zM137.9 237.8h1.4v1.4h-1.4zM126.5 247.4h1.4v1.4h-1.4zM123.3 244.4h1.4v1.4h-1.4zM130.3 239.7h1.4v1.4h-1.4zM140.1 244.9h1.4v1.4h-1.4zM110.5 252.7h1.4v1.4h-1.4zM154.8 239.4h1.4v1.4h-1.4zM129.9 247.0h1.4v1.4h-1.4zM134.4 238.7h1.4v1.4h-1.4zM107.8 249.5h1.4v1.4h-1.4zM151.9 239.9h1.4v1.4h-1.4zM111.8 250.3h1.4v1.4h-1.4zM109.1 250.6h1.4v1.4h-1.4zM119.8 246.5h1.4v1.4h-1.4zM126.2 250.2h1.4v1.4h-1.4zM153.1 237.1h1.4v1.4h-1.4zM138.9 248.0h1.4v1.4h-1.4zM135.5 241.2h1.4v1.4h-1.4zM139.1 241.0h1.4v1.4h-1.4zM130.9 243.5h1.4v1.4h-1.4zM132.3 247.6h1.4v1.4h-1.4zM129.2 240.0h1.4v1.4h-1.4zM158.3 237.5h1.4v1.4h-1.4zM141.2 238.3h1.4v1.4h-1.4zM172.9 234.5h1.4v1.4h-1.4zM134.8 246.2h1.4v1.4h-1.4zM144.1 236.3h1.4v1.4h-1.4zM131.5 244.6h1.4v1.4h-1.4zM148.8 233.6h1.4v1.4h-1.4zM135.1 245.4h1.4v1.4h-1.4zM123.3 246.8h1.4v1.4h-1.4zM118.4 247.5h1.4v1.4h-1.4zM137.0 239.7h1.4v1.4h-1.4zM131.2 244.5h1.4v1.4h-1.4zM122.1 245.3h1.4v1.4h-1.4zM129.7 241.1h1.4v1.4h-1.4zM128.2 237.6h1.4v1.4h-1.4zM122.7 243.3h1.4v1.4h-1.4zM111.1 251.3h1.4v1.4h-1.4zM118.9 249.0h1.4v1.4h-1.4zM137.9 241.1h1.4v1.4h-1.4zM144.9 231.1h1.4v1.4h-1.4zM138.5 237.1h1.4v1.4h-1.4zM130.8 246.7h1.4v1.4h-1.4zM138.2 240.2h1.4v1.4h-1.4zM136.9 244.3h1.4v1.4h-1.4zM143.5 249.3h1.4v1.4h-1.4zM129.0 241.6h1.4v1.4h-1.4zM132.5 245.6h1.4v1.4h-1.4zM133.5 242.3h1.4v1.4h-1.4zM131.8 240.7h1.4v1.4h-1.4zM129.1 248.6h1.4v1.4h-1.4zM144.0 238.8h1.4v1.4h-1.4zM146.5 233.5h1.4v1.4h-1.4zM132.6 244.3h1.4v1.4h-1.4zM128.7 242.1h1.4v1.4h-1.4zM146.1 237.6h1.4v1.4h-1.4zM118.3 249.4h1.4v1.4h-1.4zM137.6 240.5h1.4v1.4h-1.4zM164.9 235.8h1.4v1.4h-1.4zM131.1 239.9h1.4v1.4h-1.4zM105.9 250.4h1.4v1.4h-1.4zM109.7 248.4h1.4v1.4h-1.4zM129.8 244.8h1.4v1.4h-1.4zM129.2 234.7h1.4v1.4h-1.4zM140.8 249.4h1.4v1.4h-1.4zM109.3 254.5h1.4v1.4h-1.4zM152.7 240.6h1.4v1.4h-1.4zM128.8 247.9h1.4v1.4h-1.4zM133.9 240.5h1.4v1.4h-1.4zM133.2 241.9h1.4v1.4h-1.4zM147.4 236.8h1.4v1.4h-1.4zM123.9 248.0h1.4v1.4h-1.4zM129.3 244.4h1.4v1.4h-1.4zM147.0 243.6h1.4v1.4h-1.4zM122.6 249.7h1.4v1.4h-1.4zM151.2 246.4h1.4v1.4h-1.4zM150.4 245.3h1.4v1.4h-1.4zM137.9 240.8h1.4v1.4h-1.4zM145.1 237.1h1.4v1.4h-1.4zM146.1 243.1h1.4v1.4h-1.4zM120.5 247.6h1.4v1.4h-1.4zM139.9 245.3h1.4v1.4h-1.4zM141.0 239.3h1.4v1.4h-1.4zM108.4 249.7h1.4v1.4h-1.4zM148.3 238.1h1.4v1.4h-1.4zM118.0 249.5h1.4v1.4h-1.4zM135.4 245.1h1.4v1.4h-1.4zM147.2 239.4h1.4v1.4h-1.4zM129.6 251.4h1.4v1.4h-1.4zM126.5 243.6h1.4v1.4h-1.4zM140.4 247.1h1.4v1.4h-1.4zM134.0 237.0h1.4v1.4h-1.4zM151.6 237.5h1.4v1.4h-1.4zM138.7 238.3h1.4v1.4h-1.4zM107.8 251.6h1.4v1.4h-1.4zM147.4 241.5h1.4v1.4h-1.4zM142.6 239.5h1.4v1.4h-1.4zM132.3 245.6h1.4v1.4h-1.4zM140.7 243.6h1.4v1.4h-1.4zM115.6 236.6h1.4v1.4h-1.4zM139.6 245.8h1.4v1.4h-1.4zM137.7 232.4h1.4v1.4h-1.4zM128.9 242.3h1.4v1.4h-1.4zM148.7 244.8h1.4v1.4h-1.4zM133.3 246.7h1.4v1.4h-1.4zM153.1 237.3h1.4v1.4h-1.4zM149.2 233.1h1.4v1.4h-1.4zM151.3 234.9h1.4v1.4h-1.4zM141.4 246.0h1.4v1.4h-1.4zM143.4 233.8h1.4v1.4h-1.4zM122.6 234.7h1.4v1.4h-1.4zM140.7 241.0h1.4v1.4h-1.4zM136.5 239.3h1.4v1.4h-1.4zM136.5 245.1h1.4v1.4h-1.4zM135.0 237.7h1.4v1.4h-1.4zM128.2 249.7h1.4v1.4h-1.4zM137.9 234.3h1.4v1.4h-1.4zM157.6 240.1h1.4v1.4h-1.4zM149.9 236.0h1.4v1.4h-1.4zM124.7 240.3h1.4v1.4h-1.4zM135.4 243.4h1.4v1.4h-1.4zM141.0 241.5h1.4v1.4h-1.4zM120.5 248.9h1.4v1.4h-1.4zM131.0 246.2h1.4v1.4h-1.4zM145.7 244.5h1.4v1.4h-1.4zM143.1 239.3h1.4v1.4h-1.4zM117.1 245.0h1.4v1.4h-1.4zM149.7 243.2h1.4v1.4h-1.4zM139.0 244.2h1.4v1.4h-1.4zM146.8 241.2h1.4v1.4h-1.4zM147.4 236.1h1.4v1.4h-1.4zM122.5 242.8h1.4v1.4h-1.4zM97.3 252.7h1.4v1.4h-1.4zM138.1 240.0h1.4v1.4h-1.4zM142.8 241.3h1.4v1.4h-1.4zM113.3 250.1h1.4v1.4h-1.4zM131.1 242.4h1.4v1.4h-1.4zM145.5 243.8h1.4v1.4h-1.4zM158.1 233.3h1.4v1.4h-1.4zM151.2 241.5h1.4v1.4h-1.4zM146.3 239.3h1.4v1.4h-1.4zM125.9 242.0h1.4v1.4h-1.4zM124.2 252.4h1.4v1.4h-1.4zM113.9 255.3h1.4v1.4h-1.4zM143.3 235.0h1.4v1.4h-1.4zM114.5 245.6h1.4v1.4h-1.4zM133.5 249.2h1.4v1.4h-1.4zM131.4 241.8h1.4v1.4h-1.4zM140.1 240.3h1.4v1.4h-1.4zM131.6 244.5h1.4v1.4h-1.4zM135.8 247.9h1.4v1.4h-1.4zM134.9 239.3h1.4v1.4h-1.4zM102.9 244.7h1.4v1.4h-1.4zM142.5 246.2h1.4v1.4h-1.4zM154.0 236.9h1.4v1.4h-1.4zM133.1 240.9h1.4v1.4h-1.4zM146.5 245.8h1.4v1.4h-1.4zM143.7 236.7h1.4v1.4h-1.4zM146.9 245.1h1.4v1.4h-1.4zM133.6 244.6h1.4v1.4h-1.4zM108.6 241.2h1.4v1.4h-1.4zM138.3 238.6h1.4v1.4h-1.4zM139.3 245.0h1.4v1.4h-1.4zM143.0 242.9h1.4v1.4h-1.4zM111.8 254.5h1.4v1.4h-1.4zM144.5 248.0h1.4v1.4h-1.4zM143.1 235.5h1.4v1.4h-1.4zM131.6 241.5h1.4v1.4h-1.4zM118.9 245.9h1.4v1.4h-1.4zM135.8 245.7h1.4v1.4h-1.4zM148.9 241.9h1.4v1.4h-1.4zM127.7 242.3h1.4v1.4h-1.4zM157.4 235.6h1.4v1.4h-1.4zM118.3 253.6h1.4v1.4h-1.4zM134.8 241.5h1.4v1.4h-1.4zM136.6 247.9h1.4v1.4h-1.4zM137.5 244.1h1.4v1.4h-1.4zM112.5 238.8h1.4v1.4h-1.4zM128.5 250.2h1.4v1.4h-1.4zM154.8 240.5h1.4v1.4h-1.4zM118.0 251.1h1.4v1.4h-1.4zM143.1 232.4h1.4v1.4h-1.4zM116.1 246.8h1.4v1.4h-1.4zM143.2 243.5h1.4v1.4h-1.4zM121.6 243.5h1.4v1.4h-1.4zM127.7 248.8h1.4v1.4h-1.4zM125.6 243.8h1.4v1.4h-1.4zM142.2 247.8h1.4v1.4h-1.4zM123.4 239.0h1.4v1.4h-1.4zM155.4 232.3h1.4v1.4h-1.4zM141.5 235.5h1.4v1.4h-1.4zM147.2 234.9h1.4v1.4h-1.4zM127.7 246.7h1.4v1.4h-1.4zM117.1 251.3h1.4v1.4h-1.4zM137.6 244.9h1.4v1.4h-1.4zM117.0 236.0h1.4v1.4h-1.4zM123.5 250.0h1.4v1.4h-1.4zM141.5 244.2h1.4v1.4h-1.4zM130.6 245.6h1.4v1.4h-1.4zM147.4 238.4h1.4v1.4h-1.4zM136.0 241.7h1.4v1.4h-1.4zM141.4 239.5h1.4v1.4h-1.4zM128.1 241.3h1.4v1.4h-1.4zM140.8 247.7h1.4v1.4h-1.4zM145.6 233.4h1.4v1.4h-1.4zM156.8 239.1h1.4v1.4h-1.4zM121.8 246.5h1.4v1.4h-1.4zM119.8 241.3h1.4v1.4h-1.4zM122.0 243.0h1.4v1.4h-1.4zM136.6 233.4h1.4v1.4h-1.4zM147.6 248.3h1.4v1.4h-1.4zM139.9 242.1h1.4v1.4h-1.4zM143.4 237.3h1.4v1.4h-1.4zM132.2 247.5h1.4v1.4h-1.4zM140.5 245.1h1.4v1.4h-1.4zM140.4 234.6h1.4v1.4h-1.4zM127.0 243.9h1.4v1.4h-1.4zM137.5 239.1h1.4v1.4h-1.4zM122.0 234.2h1.4v1.4h-1.4zM161.2 233.5h1.4v1.4h-1.4zM134.4 244.5h1.4v1.4h-1.4zM160.0 236.4h1.4v1.4h-1.4zM128.7 246.7h1.4v1.4h-1.4zM142.9 235.6h1.4v1.4h-1.4zM133.9 244.4h1.4v1.4h-1.4zM116.6 239.6h1.4v1.4h-1.4zM129.5 245.0h1.4v1.4h-1.4zM148.5 244.8h1.4v1.4h-1.4zM162.7 235.9h1.4v1.4h-1.4zM112.0 249.7h1.4v1.4h-1.4zM146.7 236.5h1.4v1.4h-1.4zM138.0 245.0h1.4v1.4h-1.4zM150.8 235.4h1.4v1.4h-1.4zM148.3 239.4h1.4v1.4h-1.4zM116.4 241.9h1.4v1.4h-1.4zM136.4 243.3h1.4v1.4h-1.4zM124.8 247.3h1.4v1.4h-1.4zM146.9 245.6h1.4v1.4h-1.4zM159.9 234.6h1.4v1.4h-1.4zM144.7 239.1h1.4v1.4h-1.4zM145.1 237.2h1.4v1.4h-1.4zM136.8 239.4h1.4v1.4h-1.4zM130.3 242.8h1.4v1.4h-1.4zM141.3 243.3h1.4v1.4h-1.4zM118.8 243.7h1.4v1.4h-1.4zM130.5 243.6h1.4v1.4h-1.4zM148.7 241.2h1.4v1.4h-1.4zM126.8 249.9h1.4v1.4h-1.4zM124.5 249.9h1.4v1.4h-1.4zM150.6 231.4h1.4v1.4h-1.4zM143.3 239.9h1.4v1.4h-1.4zM135.6 238.4h1.4v1.4h-1.4zM141.7 235.6h1.4v1.4h-1.4zM140.3 241.4h1.4v1.4h-1.4zM136.3 243.8h1.4v1.4h-1.4zM138.5 250.2h1.4v1.4h-1.4zM119.1 237.4h1.4v1.4h-1.4zM143.9 242.3h1.4v1.4h-1.4zM156.3 238.7h1.4v1.4h-1.4zM154.8 239.3h1.4v1.4h-1.4zM137.0 240.1h1.4v1.4h-1.4zM151.3 234.1h1.4v1.4h-1.4zM135.7 242.9h1.4v1.4h-1.4zM112.3 245.6h1.4v1.4h-1.4zM121.6 242.1h1.4v1.4h-1.4zM138.6 241.6h1.4v1.4h-1.4zM132.5 247.1h1.4v1.4h-1.4zM134.7 242.2h1.4v1.4h-1.4zM141.1 245.2h1.4v1.4h-1.4zM130.4 246.2h1.4v1.4h-1.4zM159.7 229.0h1.4v1.4h-1.4zM131.2 242.4h1.4v1.4h-1.4zM150.6 244.8h1.4v1.4h-1.4zM127.1 242.1h1.4v1.4h-1.4zM144.2 235.8h1.4v1.4h-1.4zM135.3 243.5h1.4v1.4h-1.4zM148.6 235.2h1.4v1.4h-1.4zM121.3 247.0h1.4v1.4h-1.4zM120.0 242.4h1.4v1.4h-1.4zM130.6 235.9h1.4v1.4h-1.4zM146.5 245.0h1.4v1.4h-1.4zM126.0 251.4h1.4v1.4h-1.4zM140.3 239.9h1.4v1.4h-1.4zM117.0 249.4h1.4v1.4h-1.4zM132.0 246.9h1.4v1.4h-1.4zM145.7 237.8h1.4v1.4h-1.4zM116.3 238.6h1.4v1.4h-1.4zM153.1 225.9h1.4v1.4h-1.4zM134.1 246.0h1.4v1.4h-1.4zM144.0 240.6h1.4v1.4h-1.4zM144.5 238.9h1.4v1.4h-1.4zM136.9 232.9h1.4v1.4h-1.4zM129.1 244.2h1.4v1.4h-1.4zM129.1 249.0h1.4v1.4h-1.4zM103.5 252.8h1.4v1.4h-1.4zM116.7 246.3h1.4v1.4h-1.4zM146.5 238.6h1.4v1.4h-1.4zM124.7 253.9h1.4v1.4h-1.4zM136.6 239.0h1.4v1.4h-1.4zM144.7 240.6h1.4v1.4h-1.4zM142.9 241.4h1.4v1.4h-1.4zM126.0 238.7h1.4v1.4h-1.4zM135.8 245.6h1.4v1.4h-1.4zM154.3 239.5h1.4v1.4h-1.4zM130.3 232.1h1.4v1.4h-1.4zM118.6 243.4h1.4v1.4h-1.4zM132.0 246.6h1.4v1.4h-1.4zM137.0 242.9h1.4v1.4h-1.4zM139.2 243.5h1.4v1.4h-1.4zM154.2 239.6h1.4v1.4h-1.4zM136.4 245.0h1.4v1.4h-1.4zM129.7 239.9h1.4v1.4h-1.4zM116.2 249.6h1.4v1.4h-1.4zM145.1 239.0h1.4v1.4h-1.4zM158.6 238.8h1.4v1.4h-1.4zM147.4 233.5h1.4v1.4h-1.4zM134.8 243.7h1.4v1.4h-1.4zM140.8 240.3h1.4v1.4h-1.4zM119.7 249.5h1.4v1.4h-1.4zM138.2 240.8h1.4v1.4h-1.4zM120.3 242.1h1.4v1.4h-1.4zM136.1 244.2h1.4v1.4h-1.4zM138.6 240.3h1.4v1.4h-1.4zM122.7 250.3h1.4v1.4h-1.4zM137.8 245.0h1.4v1.4h-1.4zM129.0 244.9h1.4v1.4h-1.4zM138.6 245.0h1.4v1.4h-1.4zM136.4 245.3h1.4v1.4h-1.4zM138.2 245.7h1.4v1.4h-1.4zM125.1 241.4h1.4v1.4h-1.4zM152.2 236.9h1.4v1.4h-1.4zM135.5 243.9h1.4v1.4h-1.4zM144.7 237.4h1.4v1.4h-1.4zM140.5 242.8h1.4v1.4h-1.4zM139.7 244.3h1.4v1.4h-1.4zM138.7 243.2h1.4v1.4h-1.4zM105.4 248.2h1.4v1.4h-1.4zM142.7 239.9h1.4v1.4h-1.4zM110.6 245.4h1.4v1.4h-1.4zM138.4 240.6h1.4v1.4h-1.4zM125.8 245.8h1.4v1.4h-1.4zM141.2 243.5h1.4v1.4h-1.4zM134.0 251.1h1.4v1.4h-1.4zM134.7 244.6h1.4v1.4h-1.4zM130.8 241.3h1.4v1.4h-1.4zM130.5 242.5h1.4v1.4h-1.4zM127.1 245.3h1.4v1.4h-1.4zM127.1 248.5h1.4v1.4h-1.4zM114.3 246.7h1.4v1.4h-1.4zM135.2 237.6h1.4v1.4h-1.4zM130.4 242.2h1.4v1.4h-1.4zM154.0 236.0h1.4v1.4h-1.4zM117.8 252.7h1.4v1.4h-1.4zM136.0 236.6h1.4v1.4h-1.4zM143.0 242.5h1.4v1.4h-1.4zM128.7 245.4h1.4v1.4h-1.4zM133.5 237.3h1.4v1.4h-1.4zM120.1 249.7h1.4v1.4h-1.4zM143.9 241.8h1.4v1.4h-1.4zM104.4 251.1h1.4v1.4h-1.4zM152.6 239.2h1.4v1.4h-1.4zM138.6 239.6h1.4v1.4h-1.4zM126.1 244.4h1.4v1.4h-1.4zM130.1 247.5h1.4v1.4h-1.4zM133.8 244.1h1.4v1.4h-1.4zM148.7 245.3h1.4v1.4h-1.4zM127.8 246.6h1.4v1.4h-1.4zM117.0 249.5h1.4v1.4h-1.4zM134.8 240.8h1.4v1.4h-1.4zM138.6 240.3h1.4v1.4h-1.4zM112.8 252.0h1.4v1.4h-1.4zM135.1 240.3h1.4v1.4h-1.4zM122.3 244.8h1.4v1.4h-1.4zM120.0 238.8h1.4v1.4h-1.4zM133.2 251.7h1.4v1.4h-1.4zM162.1 239.1h1.4v1.4h-1.4zM145.5 241.0h1.4v1.4h-1.4zM160.3 238.5h1.4v1.4h-1.4zM110.5 247.4h1.4v1.4h-1.4zM127.1 248.4h1.4v1.4h-1.4zM134.2 236.5h1.4v1.4h-1.4zM141.4 232.1h1.4v1.4h-1.4zM136.4 241.1h1.4v1.4h-1.4zM127.5 243.7h1.4v1.4h-1.4zM135.2 245.6h1.4v1.4h-1.4zM116.4 248.4h1.4v1.4h-1.4zM135.1 247.9h1.4v1.4h-1.4zM125.6 250.8h1.4v1.4h-1.4zM115.9 246.7h1.4v1.4h-1.4zM129.7 242.1h1.4v1.4h-1.4zM137.6 245.0h1.4v1.4h-1.4zM143.5 241.8h1.4v1.4h-1.4zM161.7 238.5h1.4v1.4h-1.4zM132.9 239.3h1.4v1.4h-1.4zM136.1 244.7h1.4v1.4h-1.4zM137.8 245.1h1.4v1.4h-1.4zM144.1 243.6h1.4v1.4h-1.4zM149.1 236.9h1.4v1.4h-1.4zM124.0 243.8h1.4v1.4h-1.4zM127.9 245.7h1.4v1.4h-1.4zM154.0 239.2h1.4v1.4h-1.4zM110.9 240.1h1.4v1.4h-1.4zM143.0 235.5h1.4v1.4h-1.4zM127.7 253.4h1.4v1.4h-1.4zM136.7 245.6h1.4v1.4h-1.4zM141.1 235.9h1.4v1.4h-1.4zM147.7 243.4h1.4v1.4h-1.4zM150.4 238.9h1.4v1.4h-1.4zM134.6 244.6h1.4v1.4h-1.4zM145.1 245.4h1.4v1.4h-1.4zM135.4 239.4h1.4v1.4h-1.4zM137.5 242.7h1.4v1.4h-1.4zM166.5 239.2h1.4v1.4h-1.4zM128.0 248.4h1.4v1.4h-1.4zM122.9 248.0h1.4v1.4h-1.4zM140.1 242.5h1.4v1.4h-1.4zM149.0 236.2h1.4v1.4h-1.4zM131.3 235.7h1.4v1.4h-1.4zM127.7 248.3h1.4v1.4h-1.4zM150.0 241.5h1.4v1.4h-1.4zM147.0 244.6h1.4v1.4h-1.4zM132.4 240.5h1.4v1.4h-1.4zM136.4 240.9h1.4v1.4h-1.4zM140.6 234.9h1.4v1.4h-1.4zM137.9 244.9h1.4v1.4h-1.4zM127.4 248.8h1.4v1.4h-1.4zM141.8 245.8h1.4v1.4h-1.4zM129.2 246.5h1.4v1.4h-1.4zM120.6 244.0h1.4v1.4h-1.4zM155.2 239.4h1.4v1.4h-1.4zM128.9 238.1h1.4v1.4h-1.4zM115.6 252.7h1.4v1.4h-1.4zM129.1 249.3h1.4v1.4h-1.4zM139.3 239.3h1.4v1.4h-1.4zM142.8 234.7h1.4v1.4h-1.4zM138.6 245.1h1.4v1.4h-1.4zM133.9 241.9h1.4v1.4h-1.4zM138.2 241.6h1.4v1.4h-1.4zM150.0 230.7h1.4v1.4h-1.4zM127.0 245.7h1.4v1.4h-1.4zM119.7 247.0h1.4v1.4h-1.4zM130.5 238.6h1.4v1.4h-1.4zM139.0 243.0h1.4v1.4h-1.4zM125.3 245.2h1.4v1.4h-1.4zM137.6 245.5h1.4v1.4h-1.4zM131.2 249.8h1.4v1.4h-1.4zM106.8 246.4h1.4v1.4h-1.4zM130.9 245.3h1.4v1.4h-1.4zM128.8 246.8h1.4v1.4h-1.4zM162.7 237.4h1.4v1.4h-1.4zM118.1 248.3h1.4v1.4h-1.4zM153.4 235.5h1.4v1.4h-1.4zM130.2 244.9h1.4v1.4h-1.4zM163.1 241.3h1.4v1.4h-1.4zM131.2 249.8h1.4v1.4h-1.4zM139.0 243.1h1.4v1.4h-1.4zM111.8 250.0h1.4v1.4h-1.4zM146.1 245.7h1.4v1.4h-1.4zM131.9 245.4h1.4v1.4h-1.4zM141.3 242.0h1.4v1.4h-1.4zM131.2 234.2h1.4v1.4h-1.4zM103.4 248.8h1.4v1.4h-1.4zM130.4 239.2h1.4v1.4h-1.4zM134.7 245.0h1.4v1.4h-1.4zM140.7 241.3h1.4v1.4h-1.4zM130.4 246.5h1.4v1.4h-1.4zM97.6 254.2h1.4v1.4h-1.4zM142.3 243.8h1.4v1.4h-1.4zM135.3 246.2h1.4v1.4h-1.4zM113.6 244.0h1.4v1.4h-1.4zM133.3 243.3h1.4v1.4h-1.4zM112.3 242.4h1.4v1.4h-1.4zM121.7 238.3h1.4v1.4h-1.4zM134.5 246.5h1.4v1.4h-1.4zM128.2 247.5h1.4v1.4h-1.4zM140.6 249.2h1.4v1.4h-1.4zM115.9 240.3h1.4v1.4h-1.4zM133.6 232.9h1.4v1.4h-1.4zM155.3 237.9h1.4v1.4h-1.4zM138.0 239.2h1.4v1.4h-1.4zM118.3 251.6h1.4v1.4h-1.4zM123.7 244.9h1.4v1.4h-1.4zM119.6 239.4h1.4v1.4h-1.4zM139.6 240.3h1.4v1.4h-1.4zM132.7 236.6h1.4v1.4h-1.4zM158.7 234.7h1.4v1.4h-1.4zM123.7 244.7h1.4v1.4h-1.4zM141.7 248.3h1.4v1.4h-1.4zM130.3 246.5h1.4v1.4h-1.4zM133.4 242.6h1.4v1.4h-1.4zM136.0 244.2h1.4v1.4h-1.4zM135.0 245.4h1.4v1.4h-1.4zM115.3 243.0h1.4v1.4h-1.4zM127.0 238.9h1.4v1.4h-1.4zM107.9 247.8h1.4v1.4h-1.4zM123.3 237.1h1.4v1.4h-1.4zM147.4 236.3h1.4v1.4h-1.4zM120.7 247.1h1.4v1.4h-1.4zM149.5 243.2h1.4v1.4h-1.4zM126.4 241.8h1.4v1.4h-1.4zM132.3 241.5h1.4v1.4h-1.4zM151.7 240.2h1.4v1.4h-1.4zM133.1 247.2h1.4v1.4h-1.4zM111.5 247.5h1.4v1.4h-1.4zM128.8 242.0h1.4v1.4h-1.4zM137.1 239.5h1.4v1.4h-1.4zM148.5 240.1h1.4v1.4h-1.4zM129.4 252.1h1.4v1.4h-1.4zM130.5 240.3h1.4v1.4h-1.4zM139.9 236.5h1.4v1.4h-1.4zM131.0 241.9h1.4v1.4h-1.4zM151.2 239.3h1.4v1.4h-1.4zM144.1 231.5h1.4v1.4h-1.4zM138.1 249.3h1.4v1.4h-1.4zM142.9 242.4h1.4v1.4h-1.4zM107.9 249.5h1.4v1.4h-1.4zM149.2 238.2h1.4v1.4h-1.4zM128.2 243.9h1.4v1.4h-1.4zM138.3 237.7h1.4v1.4h-1.4zM135.0 245.9h1.4v1.4h-1.4zM120.9 246.9h1.4v1.4h-1.4zM146.5 240.3h1.4v1.4h-1.4zM135.5 245.6h1.4v1.4h-1.4zM127.1 244.8h1.4v1.4h-1.4zM141.6 239.8h1.4v1.4h-1.4zM129.4 236.8h1.4v1.4h-1.4zM131.7 240.3h1.4v1.4h-1.4zM138.5 241.6h1.4v1.4h-1.4zM130.1 244.9h1.4v1.4h-1.4zM141.6 246.5h1.4v1.4h-1.4zM117.1 245.8h1.4v1.4h-1.4zM125.0 250.6h1.4v1.4h-1.4zM137.8 244.4h1.4v1.4h-1.4zM127.5 246.9h1.4v1.4h-1.4zM136.4 244.3h1.4v1.4h-1.4zM129.8 248.1h1.4v1.4h-1.4zM121.4 245.8h1.4v1.4h-1.4zM104.8 251.1h1.4v1.4h-1.4zM141.4 246.0h1.4v1.4h-1.4zM137.0 241.1h1.4v1.4h-1.4zM147.7 240.9h1.4v1.4h-1.4zM124.0 243.8h1.4v1.4h-1.4zM129.0 242.9h1.4v1.4h-1.4zM133.7 243.3h1.4v1.4h-1.4zM132.4 239.4h1.4v1.4h-1.4zM146.6 242.1h1.4v1.4h-1.4zM128.9 238.9h1.4v1.4h-1.4zM134.0 251.7h1.4v1.4h-1.4zM117.0 240.6h1.4v1.4h-1.4zM119.6 249.6h1.4v1.4h-1.4zM150.3 241.0h1.4v1.4h-1.4zM137.1 240.6h1.4v1.4h-1.4zM136.1 243.7h1.4v1.4h-1.4zM120.4 247.2h1.4v1.4h-1.4zM143.7 238.4h1.4v1.4h-1.4zM151.8 241.3h1.4v1.4h-1.4zM127.9 240.8h1.4v1.4h-1.4zM137.8 245.1h1.4v1.4h-1.4zM125.2 242.6h1.4v1.4h-1.4zM125.3 246.2h1.4v1.4h-1.4zM137.7 240.0h1.4v1.4h-1.4zM143.3 241.5h1.4v1.4h-1.4zM137.8 244.3h1.4v1.4h-1.4zM144.0 239.7h1.4v1.4h-1.4zM127.5 234.8h1.4v1.4h-1.4zM108.4 252.0h1.4v1.4h-1.4zM147.4 241.9h1.4v1.4h-1.4zM136.2 249.6h1.4v1.4h-1.4zM155.2 233.0h1.4v1.4h-1.4zM107.8 255.1h1.4v1.4h-1.4zM141.2 242.3h1.4v1.4h-1.4zM131.4 248.7h1.4v1.4h-1.4zM138.6 239.8h1.4v1.4h-1.4zM121.2 254.4h1.4v1.4h-1.4zM148.5 240.4h1.4v1.4h-1.4zM134.0 240.0h1.4v1.4h-1.4zM154.8 238.6h1.4v1.4h-1.4zM138.5 244.1h1.4v1.4h-1.4zM134.3 241.7h1.4v1.4h-1.4zM133.8 244.3h1.4v1.4h-1.4zM140.2 246.3h1.4v1.4h-1.4zM148.3 243.1h1.4v1.4h-1.4zM109.4 242.5h1.4v1.4h-1.4zM149.5 242.0h1.4v1.4h-1.4zM139.7 237.9h1.4v1.4h-1.4zM157.7 237.5h1.4v1.4h-1.4zM133.7 243.5h1.4v1.4h-1.4zM118.0 243.7h1.4v1.4h-1.4zM132.2 239.1h1.4v1.4h-1.4zM162.3 233.7h1.4v1.4h-1.4zM130.7 247.2h1.4v1.4h-1.4zM152.4 234.3h1.4v1.4h-1.4zM148.8 226.8h1.4v1.4h-1.4zM127.3 250.2h1.4v1.4h-1.4zM128.9 242.9h1.4v1.4h-1.4zM124.8 245.4h1.4v1.4h-1.4zM159.1 232.0h1.4v1.4h-1.4zM146.2 234.1h1.4v1.4h-1.4zM149.6 242.2h1.4v1.4h-1.4zM139.7 241.2h1.4v1.4h-1.4zM143.5 242.8h1.4v1.4h-1.4zM143.6 237.4h1.4v1.4h-1.4zM132.4 236.2h1.4v1.4h-1.4zM146.3 237.3h1.4v1.4h-1.4zM140.2 246.8h1.4v1.4h-1.4zM113.7 240.6h1.4v1.4h-1.4zM148.3 239.9h1.4v1.4h-1.4zM143.9 246.4h1.4v1.4h-1.4zM142.6 237.8h1.4v1.4h-1.4zM128.6 244.3h1.4v1.4h-1.4zM147.6 244.2h1.4v1.4h-1.4zM150.6 239.0h1.4v1.4h-1.4zM148.0 243.6h1.4v1.4h-1.4zM136.5 249.1h1.4v1.4h-1.4zM129.6 244.2h1.4v1.4h-1.4zM137.7 243.1h1.4v1.4h-1.4zM114.9 246.6h1.4v1.4h-1.4zM120.3 253.3h1.4v1.4h-1.4zM151.2 244.0h1.4v1.4h-1.4zM141.7 245.3h1.4v1.4h-1.4zM151.5 245.9h1.4v1.4h-1.4zM136.3 239.4h1.4v1.4h-1.4zM137.7 232.4h1.4v1.4h-1.4zM156.0 236.7h1.4v1.4h-1.4zM111.0 250.3h1.4v1.4h-1.4zM156.4 232.0h1.4v1.4h-1.4zM127.5 250.1h1.4v1.4h-1.4zM111.6 246.8h1.4v1.4h-1.4zM141.3 240.4h1.4v1.4h-1.4zM123.1 247.2h1.4v1.4h-1.4zM144.9 243.7h1.4v1.4h-1.4zM132.6 239.3h1.4v1.4h-1.4zM137.3 247.2h1.4v1.4h-1.4zM143.5 238.2h1.4v1.4h-1.4zM141.8 241.3h1.4v1.4h-1.4zM147.0 239.4h1.4v1.4h-1.4zM134.0 244.2h1.4v1.4h-1.4zM141.7 238.9h1.4v1.4h-1.4zM105.6 245.8h1.4v1.4h-1.4zM113.0 239.7h1.4v1.4h-1.4zM110.2 246.6h1.4v1.4h-1.4zM124.8 249.2h1.4v1.4h-1.4zM144.1 240.3h1.4v1.4h-1.4zM136.6 242.6h1.4v1.4h-1.4zM140.0 245.9h1.4v1.4h-1.4zM143.4 235.2h1.4v1.4h-1.4zM168.8 228.6h1.4v1.4h-1.4zM134.9 243.4h1.4v1.4h-1.4zM106.1 254.1h1.4v1.4h-1.4zM133.5 243.7h1.4v1.4h-1.4zM148.0 236.5h1.4v1.4h-1.4zM143.5 241.3h1.4v1.4h-1.4zM137.5 240.7h1.4v1.4h-1.4zM129.9 234.7h1.4v1.4h-1.4zM122.1 254.2h1.4v1.4h-1.4zM133.1 242.0h1.4v1.4h-1.4zM141.0 241.5h1.4v1.4h-1.4zM134.5 245.2h1.4v1.4h-1.4zM116.3 237.7h1.4v1.4h-1.4zM152.6 238.7h1.4v1.4h-1.4zM144.3 234.5h1.4v1.4h-1.4zM119.1 252.7h1.4v1.4h-1.4zM140.0 243.5h1.4v1.4h-1.4zM116.4 250.9h1.4v1.4h-1.4zM118.5 247.1h1.4v1.4h-1.4zM122.0 248.5h1.4v1.4h-1.4zM147.7 241.4h1.4v1.4h-1.4zM134.6 239.8h1.4v1.4h-1.4zM135.6 244.5h1.4v1.4h-1.4zM125.7 242.7h1.4v1.4h-1.4zM136.7 235.9h1.4v1.4h-1.4zM120.3 245.1h1.4v1.4h-1.4zM129.0 246.0h1.4v1.4h-1.4zM145.2 242.3h1.4v1.4h-1.4zM127.8 247.8h1.4v1.4h-1.4zM105.5 250.9h1.4v1.4h-1.4zM141.6 244.0h1.4v1.4h-1.4zM152.3 241.9h1.4v1.4h-1.4zM137.1 243.6h1.4v1.4h-1.4zM146.4 244.5h1.4v1.4h-1.4zM131.6 242.8h1.4v1.4h-1.4zM131.6 242.1h1.4v1.4h-1.4zM132.8 247.7h1.4v1.4h-1.4zM127.5 240.6h1.4v1.4h-1.4zM158.8 241.5h1.4v1.4h-1.4zM137.9 245.9h1.4v1.4h-1.4zM150.6 235.7h1.4v1.4h-1.4zM129.2 241.4h1.4v1.4h-1.4zM136.1 238.2h1.4v1.4h-1.4zM128.5 245.6h1.4v1.4h-1.4zM96.9 248.5h1.4v1.4h-1.4zM147.6 242.5h1.4v1.4h-1.4zM142.6 246.1h1.4v1.4h-1.4zM138.0 238.8h1.4v1.4h-1.4zM141.4 245.2h1.4v1.4h-1.4zM128.4 244.5h1.4v1.4h-1.4zM128.3 238.9h1.4v1.4h-1.4zM153.8 236.6h1.4v1.4h-1.4zM143.9 243.0h1.4v1.4h-1.4zM118.1 250.0h1.4v1.4h-1.4zM130.0 240.1h1.4v1.4h-1.4zM131.2 253.4h1.4v1.4h-1.4zM140.5 241.8h1.4v1.4h-1.4zM147.7 243.8h1.4v1.4h-1.4zM149.8 243.5h1.4v1.4h-1.4zM122.0 249.8h1.4v1.4h-1.4zM146.1 239.4h1.4v1.4h-1.4zM146.0 240.5h1.4v1.4h-1.4zM138.6 233.1h1.4v1.4h-1.4zM152.5 237.7h1.4v1.4h-1.4zM127.1 243.8h1.4v1.4h-1.4zM123.7 246.2h1.4v1.4h-1.4zM118.3 247.5h1.4v1.4h-1.4zM131.2 238.6h1.4v1.4h-1.4zM119.3 249.4h1.4v1.4h-1.4zM124.9 244.9h1.4v1.4h-1.4zM126.9 237.2h1.4v1.4h-1.4zM132.7 233.0h1.4v1.4h-1.4zM128.0 246.9h1.4v1.4h-1.4zM130.4 250.4h1.4v1.4h-1.4zM134.5 245.7h1.4v1.4h-1.4zM128.7 247.0h1.4v1.4h-1.4zM136.9 248.3h1.4v1.4h-1.4zM135.4 234.9h1.4v1.4h-1.4zM125.6 239.4h1.4v1.4h-1.4zM134.6 244.5h1.4v1.4h-1.4zM166.1 233.3h1.4v1.4h-1.4zM116.7 236.8h1.4v1.4h-1.4zM137.2 245.7h1.4v1.4h-1.4zM142.1 246.8h1.4v1.4h-1.4zM128.6 246.7h1.4v1.4h-1.4zM126.4 235.5h1.4v1.4h-1.4zM144.8 243.6h1.4v1.4h-1.4zM123.5 254.4h1.4v1.4h-1.4zM139.9 238.8h1.4v1.4h-1.4zM141.1 238.4h1.4v1.4h-1.4zM145.8 242.9h1.4v1.4h-1.4zM137.5 245.9h1.4v1.4h-1.4zM146.6 242.5h1.4v1.4h-1.4zM127.3 246.5h1.4v1.4h-1.4zM126.0 247.5h1.4v1.4h-1.4zM121.1 250.7h1.4v1.4h-1.4zM128.4 249.1h1.4v1.4h-1.4zM153.6 237.8h1.4v1.4h-1.4zM132.0 240.9h1.4v1.4h-1.4zM142.3 239.6h1.4v1.4h-1.4zM125.4 246.9h1.4v1.4h-1.4zM125.3 239.5h1.4v1.4h-1.4zM128.6 244.9h1.4v1.4h-1.4zM130.8 247.5h1.4v1.4h-1.4zM139.8 240.7h1.4v1.4h-1.4zM138.0 249.2h1.4v1.4h-1.4zM124.9 247.3h1.4v1.4h-1.4zM143.0 247.2h1.4v1.4h-1.4zM136.2 237.6h1.4v1.4h-1.4zM146.9 241.5h1.4v1.4h-1.4zM118.2 241.4h1.4v1.4h-1.4zM122.7 244.7h1.4v1.4h-1.4zM142.3 239.2h1.4v1.4h-1.4zM98.8 255.8h1.4v1.4h-1.4zM126.6 245.8h1.4v1.4h-1.4zM139.8 242.9h1.4v1.4h-1.4zM121.7 248.1h1.4v1.4h-1.4zM129.2 239.1h1.4v1.4h-1.4zM143.1 244.8h1.4v1.4h-1.4zM118.7 252.0h1.4v1.4h-1.4zM144.1 243.2h1.4v1.4h-1.4zM123.4 248.9h1.4v1.4h-1.4zM163.1 240.7h1.4v1.4h-1.4zM147.9 235.6h1.4v1.4h-1.4zM128.9 240.9h1.4v1.4h-1.4zM127.1 240.9h1.4v1.4h-1.4zM127.4 247.7h1.4v1.4h-1.4zM126.2 249.6h1.4v1.4h-1.4zM126.9 243.2h1.4v1.4h-1.4zM112.4 250.3h1.4v1.4h-1.4zM134.9 244.0h1.4v1.4h-1.4zM153.2 237.1h1.4v1.4h-1.4zM120.7 246.7h1.4v1.4h-1.4zM142.1 235.5h1.4v1.4h-1.4zM135.1 248.0h1.4v1.4h-1.4zM128.7 242.8h1.4v1.4h-1.4zM129.6 248.4h1.4v1.4h-1.4zM117.7 247.8h1.4v1.4h-1.4zM126.6 238.6h1.4v1.4h-1.4zM117.4 241.9h1.4v1.4h-1.4zM136.2 237.9h1.4v1.4h-1.4zM116.2 250.0h1.4v1.4h-1.4zM102.4 247.0h1.4v1.4h-1.4zM131.1 242.3h1.4v1.4h-1.4zM163.3 234.1h1.4v1.4h-1.4zM132.8 240.0h1.4v1.4h-1.4zM143.7 233.2h1.4v1.4h-1.4zM161.6 237.5h1.4v1.4h-1.4zM142.9 235.0h1.4v1.4h-1.4zM140.0 239.6h1.4v1.4h-1.4zM133.6 244.2h1.4v1.4h-1.4zM139.3 241.4h1.4v1.4h-1.4zM140.7 243.2h1.4v1.4h-1.4zM127.5 234.5h1.4v1.4h-1.4zM162.9 244.0h1.4v1.4h-1.4zM137.1 239.0h1.4v1.4h-1.4zM143.8 246.2h1.4v1.4h-1.4zM157.8 231.9h1.4v1.4h-1.4zM116.8 251.9h1.4v1.4h-1.4zM129.4 239.5h1.4v1.4h-1.4zM126.8 244.3h1.4v1.4h-1.4zM129.2 236.9h1.4v1.4h-1.4zM136.5 248.1h1.4v1.4h-1.4zM135.7 239.8h1.4v1.4h-1.4zM123.8 241.7h1.4v1.4h-1.4zM155.6 236.9h1.4v1.4h-1.4zM144.0 243.3h1.4v1.4h-1.4zM121.8 240.1h1.4v1.4h-1.4zM122.7 248.5h1.4v1.4h-1.4zM146.9 237.7h1.4v1.4h-1.4zM136.2 239.8h1.4v1.4h-1.4zM122.1 251.2h1.4v1.4h-1.4zM133.2 248.4h1.4v1.4h-1.4zM123.8 249.0h1.4v1.4h-1.4zM134.3 243.3h1.4v1.4h-1.4zM132.4 234.9h1.4v1.4h-1.4zM121.4 249.3h1.4v1.4h-1.4zM135.9 239.1h1.4v1.4h-1.4zM137.7 235.6h1.4v1.4h-1.4zM116.9 244.8h1.4v1.4h-1.4zM137.5 244.0h1.4v1.4h-1.4zM127.9 245.0h1.4v1.4h-1.4zM143.9 243.6h1.4v1.4h-1.4zM142.7 245.4h1.4v1.4h-1.4zM119.6 247.5h1.4v1.4h-1.4zM111.0 249.1h1.4v1.4h-1.4zM142.8 242.3h1.4v1.4h-1.4zM135.4 237.0h1.4v1.4h-1.4zM140.8 247.6h1.4v1.4h-1.4zM132.9 240.3h1.4v1.4h-1.4zM128.3 247.4h1.4v1.4h-1.4zM151.0 236.6h1.4v1.4h-1.4zM143.0 236.4h1.4v1.4h-1.4zM153.2 233.5h1.4v1.4h-1.4zM144.3 241.8h1.4v1.4h-1.4zM135.2 244.6h1.4v1.4h-1.4zM135.6 245.9h1.4v1.4h-1.4zM118.2 241.2h1.4v1.4h-1.4zM142.1 243.1h1.4v1.4h-1.4zM131.7 242.0h1.4v1.4h-1.4zM145.4 251.7h1.4v1.4h-1.4zM156.0 239.5h1.4v1.4h-1.4zM146.8 241.8h1.4v1.4h-1.4zM161.4 231.8h1.4v1.4h-1.4zM122.0 244.5h1.4v1.4h-1.4zM142.8 244.7h1.4v1.4h-1.4zM113.8 252.3h1.4v1.4h-1.4zM127.2 248.7h1.4v1.4h-1.4zM126.2 243.7h1.4v1.4h-1.4zM138.6 243.4h1.4v1.4h-1.4zM162.0 243.1h1.4v1.4h-1.4zM121.4 241.7h1.4v1.4h-1.4zM128.5 245.1h1.4v1.4h-1.4zM131.5 249.4h1.4v1.4h-1.4zM122.2 240.9h1.4v1.4h-1.4zM148.6 240.4h1.4v1.4h-1.4zM126.0 247.1h1.4v1.4h-1.4zM129.2 241.2h1.4v1.4h-1.4zM128.3 239.2h1.4v1.4h-1.4zM151.1 243.0h1.4v1.4h-1.4zM137.5 242.2h1.4v1.4h-1.4zM130.0 246.0h1.4v1.4h-1.4zM121.9 246.4h1.4v1.4h-1.4zM124.3 245.2h1.4v1.4h-1.4zM125.5 247.9h1.4v1.4h-1.4zM145.7 239.8h1.4v1.4h-1.4zM140.3 237.8h1.4v1.4h-1.4zM134.3 245.0h1.4v1.4h-1.4zM111.1 251.1h1.4v1.4h-1.4zM115.5 250.0h1.4v1.4h-1.4zM144.5 244.3h1.4v1.4h-1.4zM160.6 239.8h1.4v1.4h-1.4zM123.1 247.4h1.4v1.4h-1.4zM109.2 252.0h1.4v1.4h-1.4zM118.6 249.9h1.4v1.4h-1.4zM140.6 242.6h1.4v1.4h-1.4zM134.6 243.9h1.4v1.4h-1.4zM145.6 243.4h1.4v1.4h-1.4zM140.7 243.8h1.4v1.4h-1.4zM141.6 239.9h1.4v1.4h-1.4zM151.4 244.0h1.4v1.4h-1.4zM134.1 239.9h1.4v1.4h-1.4zM155.3 240.0h1.4v1.4h-1.4zM146.8 238.7h1.4v1.4h-1.4zM139.1 243.4h1.4v1.4h-1.4zM127.8 239.0h1.4v1.4h-1.4zM133.3 247.5h1.4v1.4h-1.4zM125.2 244.1h1.4v1.4h-1.4zM131.1 240.5h1.4v1.4h-1.4zM155.2 241.5h1.4v1.4h-1.4zM135.3 240.8h1.4v1.4h-1.4zM114.9 248.2h1.4v1.4h-1.4zM113.1 252.2h1.4v1.4h-1.4zM161.2 235.7h1.4v1.4h-1.4zM143.8 239.8h1.4v1.4h-1.4zM128.0 242.8h1.4v1.4h-1.4zM119.6 240.0h1.4v1.4h-1.4zM157.9 241.0h1.4v1.4h-1.4zM135.1 247.9h1.4v1.4h-1.4zM115.8 249.0h1.4v1.4h-1.4zM132.1 245.2h1.4v1.4h-1.4zM124.6 249.9h1.4v1.4h-1.4zM148.4 248.0h1.4v1.4h-1.4zM123.6 243.8h1.4v1.4h-1.4zM135.0 248.1h1.4v1.4h-1.4zM121.6 248.1h1.4v1.4h-1.4zM165.2 232.1h1.4v1.4h-1.4zM149.1 239.6h1.4v1.4h-1.4zM134.5 235.5h1.4v1.4h-1.4zM156.4 234.7h1.4v1.4h-1.4zM133.9 249.4h1.4v1.4h-1.4zM129.4 240.4h1.4v1.4h-1.4zM146.7 232.8h1.4v1.4h-1.4zM138.0 240.1h1.4v1.4h-1.4zM138.4 245.4h1.4v1.4h-1.4zM147.3 244.7h1.4v1.4h-1.4zM140.7 238.4h1.4v1.4h-1.4zM132.3 246.4h1.4v1.4h-1.4zM148.5 240.2h1.4v1.4h-1.4zM160.2 237.7h1.4v1.4h-1.4zM167.1 235.5h1.4v1.4h-1.4zM135.1 243.9h1.4v1.4h-1.4zM129.5 238.5h1.4v1.4h-1.4zM134.4 239.5h1.4v1.4h-1.4zM106.2 239.9h1.4v1.4h-1.4zM153.5 243.4h1.4v1.4h-1.4zM127.5 236.6h1.4v1.4h-1.4zM113.4 250.3h1.4v1.4h-1.4zM125.5 246.1h1.4v1.4h-1.4zM140.6 234.9h1.4v1.4h-1.4zM136.8 236.2h1.4v1.4h-1.4zM154.5 234.4h1.4v1.4h-1.4zM123.2 252.9h1.4v1.4h-1.4zM143.5 238.6h1.4v1.4h-1.4zM150.9 236.5h1.4v1.4h-1.4zM155.8 240.5h1.4v1.4h-1.4zM114.6 249.5h1.4v1.4h-1.4zM147.6 236.0h1.4v1.4h-1.4zM133.6 236.4h1.4v1.4h-1.4zM140.0 243.3h1.4v1.4h-1.4zM117.1 237.5h1.4v1.4h-1.4zM113.2 245.6h1.4v1.4h-1.4zM152.5 247.0h1.4v1.4h-1.4zM147.7 241.9h1.4v1.4h-1.4zM121.9 245.7h1.4v1.4h-1.4zM112.8 243.8h1.4v1.4h-1.4zM127.3 246.3h1.4v1.4h-1.4zM122.3 246.0h1.4v1.4h-1.4zM123.8 245.7h1.4v1.4h-1.4zM143.5 241.2h1.4v1.4h-1.4zM140.6 242.0h1.4v1.4h-1.4zM112.8 244.3h1.4v1.4h-1.4zM158.1 235.7h1.4v1.4h-1.4zM133.3 243.9h1.4v1.4h-1.4zM134.8 248.0h1.4v1.4h-1.4zM123.4 246.9h1.4v1.4h-1.4zM129.9 243.2h1.4v1.4h-1.4zM141.3 246.0h1.4v1.4h-1.4zM113.0 242.9h1.4v1.4h-1.4zM134.9 241.8h1.4v1.4h-1.4zM129.1 241.3h1.4v1.4h-1.4zM148.8 246.3h1.4v1.4h-1.4zM124.4 247.3h1.4v1.4h-1.4zM137.3 247.3h1.4v1.4h-1.4zM106.4 247.2h1.4v1.4h-1.4zM148.3 236.9h1.4v1.4h-1.4zM148.6 239.0h1.4v1.4h-1.4zM127.4 232.7h1.4v1.4h-1.4zM117.0 246.6h1.4v1.4h-1.4zM128.2 252.7h1.4v1.4h-1.4zM125.4 251.8h1.4v1.4h-1.4zM135.5 241.9h1.4v1.4h-1.4zM138.4 244.8h1.4v1.4h-1.4zM136.3 235.6h1.4v1.4h-1.4zM125.6 242.9h1.4v1.4h-1.4zM155.6 235.9h1.4v1.4h-1.4zM136.2 247.0h1.4v1.4h-1.4zM123.2 251.1h1.4v1.4h-1.4zM114.0 245.3h1.4v1.4h-1.4zM145.0 241.1h1.4v1.4h-1.4zM141.7 240.5h1.4v1.4h-1.4zM121.5 242.9h1.4v1.4h-1.4zM145.7 241.8h1.4v1.4h-1.4zM141.5 238.6h1.4v1.4h-1.4zM129.1 243.5h1.4v1.4h-1.4zM128.0 244.8h1.4v1.4h-1.4zM138.1 239.5h1.4v1.4h-1.4zM138.9 244.5h1.4v1.4h-1.4zM152.0 243.8h1.4v1.4h-1.4zM135.4 235.0h1.4v1.4h-1.4zM155.1 246.9h1.4v1.4h-1.4zM150.8 246.0h1.4v1.4h-1.4zM125.7 238.9h1.4v1.4h-1.4zM126.0 246.5h1.4v1.4h-1.4zM128.3 244.1h1.4v1.4h-1.4zM141.7 239.3h1.4v1.4h-1.4zM131.5 241.9h1.4v1.4h-1.4zM136.8 245.7h1.4v1.4h-1.4zM132.0 249.6h1.4v1.4h-1.4zM138.4 244.2h1.4v1.4h-1.4zM121.1 252.2h1.4v1.4h-1.4zM154.5 241.0h1.4v1.4h-1.4zM132.7 245.0h1.4v1.4h-1.4zM123.1 252.0h1.4v1.4h-1.4zM132.0 244.2h1.4v1.4h-1.4zM134.2 235.1h1.4v1.4h-1.4zM137.0 237.0h1.4v1.4h-1.4zM144.2 243.4h1.4v1.4h-1.4zM132.1 249.4h1.4v1.4h-1.4zM129.5 241.1h1.4v1.4h-1.4zM126.3 248.2h1.4v1.4h-1.4zM162.2 240.5h1.4v1.4h-1.4zM112.6 251.3h1.4v1.4h-1.4zM134.2 241.2h1.4v1.4h-1.4zM136.3 244.9h1.4v1.4h-1.4zM149.5 239.9h1.4v1.4h-1.4zM150.6 245.5h1.4v1.4h-1.4zM146.8 235.7h1.4v1.4h-1.4zM152.0 241.4h1.4v1.4h-1.4zM124.7 245.9h1.4v1.4h-1.4zM107.2 247.8h1.4v1.4h-1.4zM147.4 237.8h1.4v1.4h-1.4zM151.5 231.1h1.4v1.4h-1.4zM143.3 237.7h1.4v1.4h-1.4zM158.9 236.0h1.4v1.4h-1.4zM119.3 251.5h1.4v1.4h-1.4zM136.1 246.8h1.4v1.4h-1.4zM140.7 233.8h1.4v1.4h-1.4zM165.7 240.8h1.4v1.4h-1.4zM125.0 242.2h1.4v1.4h-1.4zM156.9 230.7h1.4v1.4h-1.4zM131.3 245.3h1.4v1.4h-1.4zM118.5 247.7h1.4v1.4h-1.4zM148.1 240.4h1.4v1.4h-1.4zM127.9 243.5h1.4v1.4h-1.4zM122.2 248.6h1.4v1.4h-1.4zM135.7 246.0h1.4v1.4h-1.4zM100.8 247.0h1.4v1.4h-1.4zM136.4 244.0h1.4v1.4h-1.4zM121.0 239.8h1.4v1.4h-1.4zM138.2 248.3h1.4v1.4h-1.4zM120.1 247.8h1.4v1.4h-1.4zM151.5 236.4h1.4v1.4h-1.4zM112.7 241.3h1.4v1.4h-1.4zM133.1 242.0h1.4v1.4h-1.4zM130.4 246.3h1.4v1.4h-1.4zM131.7 243.9h1.4v1.4h-1.4zM128.2 246.8h1.4v1.4h-1.4zM136.4 245.0h1.4v1.4h-1.4zM139.5 237.4h1.4v1.4h-1.4zM120.2 239.7h1.4v1.4h-1.4zM127.0 241.2h1.4v1.4h-1.4zM144.7 229.0h1.4v1.4h-1.4zM117.6 248.4h1.4v1.4h-1.4zM129.7 241.5h1.4v1.4h-1.4zM148.6 239.5h1.4v1.4h-1.4zM140.3 247.2h1.4v1.4h-1.4zM138.4 247.7h1.4v1.4h-1.4zM132.0 239.6h1.4v1.4h-1.4zM113.3 244.6h1.4v1.4h-1.4zM109.7 256.1h1.4v1.4h-1.4zM137.0 241.9h1.4v1.4h-1.4zM119.3 250.7h1.4v1.4h-1.4zM138.9 234.3h1.4v1.4h-1.4zM136.4 246.8h1.4v1.4h-1.4zM136.7 245.1h1.4v1.4h-1.4zM144.8 240.8h1.4v1.4h-1.4zM137.7 247.4h1.4v1.4h-1.4zM134.1 248.4h1.4v1.4h-1.4zM118.0 245.9h1.4v1.4h-1.4zM139.1 245.0h1.4v1.4h-1.4zM144.1 238.5h1.4v1.4h-1.4zM127.8 243.6h1.4v1.4h-1.4zM151.5 243.0h1.4v1.4h-1.4zM142.4 239.4h1.4v1.4h-1.4zM129.5 234.8h1.4v1.4h-1.4zM128.9 237.0h1.4v1.4h-1.4zM125.7 244.1h1.4v1.4h-1.4zM137.0 242.9h1.4v1.4h-1.4zM131.8 246.0h1.4v1.4h-1.4zM137.1 242.1h1.4v1.4h-1.4zM134.1 242.7h1.4v1.4h-1.4zM134.3 245.7h1.4v1.4h-1.4zM131.0 245.4h1.4v1.4h-1.4zM136.0 247.4h1.4v1.4h-1.4zM128.5 239.3h1.4v1.4h-1.4zM132.1 239.6h1.4v1.4h-1.4zM140.1 246.2h1.4v1.4h-1.4zM131.2 241.9h1.4v1.4h-1.4zM130.2 243.0h1.4v1.4h-1.4zM137.3 241.8h1.4v1.4h-1.4zM134.8 237.4h1.4v1.4h-1.4zM125.2 241.1h1.4v1.4h-1.4zM142.3 245.9h1.4v1.4h-1.4zM143.0 240.9h1.4v1.4h-1.4zM144.9 241.5h1.4v1.4h-1.4zM145.0 244.2h1.4v1.4h-1.4zM136.1 240.9h1.4v1.4h-1.4zM139.5 243.5h1.4v1.4h-1.4zM135.1 237.9h1.4v1.4h-1.4zM127.4 241.0h1.4v1.4h-1.4zM114.4 237.9h1.4v1.4h-1.4zM138.6 236.7h1.4v1.4h-1.4zM151.8 233.0h1.4v1.4h-1.4zM136.0 247.6h1.4v1.4h-1.4zM140.5 241.3h1.4v1.4h-1.4zM132.2 239.8h1.4v1.4h-1.4zM117.9 250.3h1.4v1.4h-1.4zM145.9 238.7h1.4v1.4h-1.4zM112.5 249.7h1.4v1.4h-1.4zM132.3 244.1h1.4v1.4h-1.4zM156.0 233.7h1.4v1.4h-1.4zM103.2 245.0h1.4v1.4h-1.4zM139.9 241.5h1.4v1.4h-1.4zM133.6 248.1h1.4v1.4h-1.4zM146.5 238.1h1.4v1.4h-1.4zM139.6 244.6h1.4v1.4h-1.4zM144.2 242.2h1.4v1.4h-1.4zM159.2 225.8h1.4v1.4h-1.4zM136.2 240.3h1.4v1.4h-1.4zM127.3 248.9h1.4v1.4h-1.4zM109.8 253.5h1.4v1.4h-1.4zM131.0 243.4h1.4v1.4h-1.4zM158.2 230.5h1.4v1.4h-1.4zM134.3 242.0h1.4v1.4h-1.4zM120.4 246.9h1.4v1.4h-1.4zM112.4 249.1h1.4v1.4h-1.4zM145.0 243.3h1.4v1.4h-1.4zM134.8 238.0h1.4v1.4h-1.4zM110.0 245.0h1.4v1.4h-1.4zM97.4 253.0h1.4v1.4h-1.4zM146.3 240.8h1.4v1.4h-1.4zM144.9 243.3h1.4v1.4h-1.4zM147.2 237.7h1.4v1.4h-1.4zM126.7 237.9h1.4v1.4h-1.4zM129.7 249.7h1.4v1.4h-1.4zM118.5 245.0h1.4v1.4h-1.4zM139.9 238.3h1.4v1.4h-1.4zM148.7 248.7h1.4v1.4h-1.4zM136.0 240.8h1.4v1.4h-1.4zM132.9 236.9h1.4v1.4h-1.4zM118.7 246.5h1.4v1.4h-1.4zM122.7 240.6h1.4v1.4h-1.4zM113.7 248.0h1.4v1.4h-1.4zM144.8 243.4h1.4v1.4h-1.4zM120.6 248.4h1.4v1.4h-1.4zM125.2 247.8h1.4v1.4h-1.4zM140.5 242.1h1.4v1.4h-1.4zM133.5 246.9h1.4v1.4h-1.4zM125.3 247.3h1.4v1.4h-1.4zM160.4 236.2h1.4v1.4h-1.4zM132.7 247.5h1.4v1.4h-1.4zM159.1 233.8h1.4v1.4h-1.4zM134.7 239.6h1.4v1.4h-1.4zM140.0 245.7h1.4v1.4h-1.4zM135.4 234.7h1.4v1.4h-1.4zM138.5 240.5h1.4v1.4h-1.4zM155.1 238.9h1.4v1.4h-1.4zM137.4 241.3h1.4v1.4h-1.4zM155.1 234.8h1.4v1.4h-1.4zM108.3 247.9h1.4v1.4h-1.4zM130.4 242.9h1.4v1.4h-1.4zM126.2 243.6h1.4v1.4h-1.4zM134.6 245.0h1.4v1.4h-1.4zM126.8 248.9h1.4v1.4h-1.4zM114.0 250.5h1.4v1.4h-1.4zM131.9 239.8h1.4v1.4h-1.4zM145.5 239.4h1.4v1.4h-1.4zM144.3 237.9h1.4v1.4h-1.4zM128.1 247.2h1.4v1.4h-1.4zM147.2 243.3h1.4v1.4h-1.4zM127.5 238.8h1.4v1.4h-1.4zM125.3 245.2h1.4v1.4h-1.4zM132.8 249.6h1.4v1.4h-1.4zM132.8 238.7h1.4v1.4h-1.4zM139.6 244.0h1.4v1.4h-1.4zM138.2 245.4h1.4v1.4h-1.4zM136.6 246.3h1.4v1.4h-1.4zM116.5 242.7h1.4v1.4h-1.4zM110.3 252.6h1.4v1.4h-1.4zM150.1 238.8h1.4v1.4h-1.4zM128.0 246.7h1.4v1.4h-1.4zM143.3 238.3h1.4v1.4h-1.4zM120.2 247.8h1.4v1.4h-1.4zM139.2 238.4h1.4v1.4h-1.4zM134.1 243.3h1.4v1.4h-1.4zM130.8 244.7h1.4v1.4h-1.4zM138.7 233.8h1.4v1.4h-1.4zM131.1 246.4h1.4v1.4h-1.4zM131.8 239.7h1.4v1.4h-1.4zM138.1 235.4h1.4v1.4h-1.4zM131.8 245.3h1.4v1.4h-1.4zM139.3 239.0h1.4v1.4h-1.4zM143.3 245.3h1.4v1.4h-1.4zM133.7 230.1h1.4v1.4h-1.4zM132.6 242.6h1.4v1.4h-1.4zM135.6 249.6h1.4v1.4h-1.4zM127.4 241.4h1.4v1.4h-1.4zM133.6 245.0h1.4v1.4h-1.4zM144.2 228.7h1.4v1.4h-1.4zM131.3 246.6h1.4v1.4h-1.4zM167.4 240.5h1.4v1.4h-1.4zM126.5 247.3h1.4v1.4h-1.4zM108.8 252.6h1.4v1.4h-1.4zM142.8 235.6h1.4v1.4h-1.4zM127.0 244.9h1.4v1.4h-1.4zM141.3 243.0h1.4v1.4h-1.4zM120.6 246.2h1.4v1.4h-1.4zM132.8 250.9h1.4v1.4h-1.4zM158.4 239.3h1.4v1.4h-1.4zM131.5 241.6h1.4v1.4h-1.4zM136.7 244.5h1.4v1.4h-1.4zM147.4 244.4h1.4v1.4h-1.4zM127.5 250.6h1.4v1.4h-1.4zM146.3 244.6h1.4v1.4h-1.4zM140.4 243.4h1.4v1.4h-1.4zM143.0 238.0h1.4v1.4h-1.4zM122.5 244.7h1.4v1.4h-1.4zM144.1 238.8h1.4v1.4h-1.4zM151.9 231.1h1.4v1.4h-1.4zM112.9 246.7h1.4v1.4h-1.4zM142.6 243.1h1.4v1.4h-1.4zM143.4 243.3h1.4v1.4h-1.4zM129.2 244.1h1.4v1.4h-1.4zM139.5 234.0h1.4v1.4h-1.4zM131.5 241.6h1.4v1.4h-1.4zM131.4 247.1h1.4v1.4h-1.4zM149.8 244.9h1.4v1.4h-1.4zM140.0 244.9h1.4v1.4h-1.4zM114.0 247.6h1.4v1.4h-1.4zM124.2 250.0h1.4v1.4h-1.4zM147.4 234.1h1.4v1.4h-1.4zM127.8 242.1h1.4v1.4h-1.4zM139.0 245.0h1.4v1.4h-1.4zM147.9 248.3h1.4v1.4h-1.4zM139.5 236.7h1.4v1.4h-1.4zM122.1 245.1h1.4v1.4h-1.4zM159.9 241.3h1.4v1.4h-1.4zM145.9 235.2h1.4v1.4h-1.4zM140.2 235.1h1.4v1.4h-1.4zM136.8 242.9h1.4v1.4h-1.4zM135.7 240.4h1.4v1.4h-1.4zM135.3 240.4h1.4v1.4h-1.4zM152.8 242.2h1.4v1.4h-1.4zM124.8 245.2h1.4v1.4h-1.4zM140.0 247.0h1.4v1.4h-1.4zM132.1 238.5h1.4v1.4h-1.4zM116.2 240.3h1.4v1.4h-1.4zM119.1 245.2h1.4v1.4h-1.4zM103.8 252.3h1.4v1.4h-1.4zM151.7 242.4h1.4v1.4h-1.4zM139.6 243.7h1.4v1.4h-1.4zM131.1 250.3h1.4v1.4h-1.4zM153.3 239.0h1.4v1.4h-1.4zM138.3 241.1h1.4v1.4h-1.4zM131.2 246.5h1.4v1.4h-1.4zM158.3 232.7h1.4v1.4h-1.4zM122.5 247.5h1.4v1.4h-1.4zM125.1 243.0h1.4v1.4h-1.4zM154.1 236.5h1.4v1.4h-1.4zM141.0 242.6h1.4v1.4h-1.4zM143.5 237.6h1.4v1.4h-1.4zM152.8 246.3h1.4v1.4h-1.4zM135.6 243.8h1.4v1.4h-1.4zM149.9 241.1h1.4v1.4h-1.4zM126.3 239.9h1.4v1.4h-1.4zM127.0 237.8h1.4v1.4h-1.4zM132.7 247.5h1.4v1.4h-1.4zM134.4 244.3h1.4v1.4h-1.4zM128.5 242.7h1.4v1.4h-1.4zM151.5 232.8h1.4v1.4h-1.4zM127.2 245.2h1.4v1.4h-1.4zM134.4 253.1h1.4v1.4h-1.4zM146.8 240.5h1.4v1.4h-1.4zM129.7 243.2h1.4v1.4h-1.4zM121.9 252.7h1.4v1.4h-1.4zM131.7 241.2h1.4v1.4h-1.4zM115.8 251.2h1.4v1.4h-1.4zM114.7 246.0h1.4v1.4h-1.4zM140.6 242.5h1.4v1.4h-1.4zM150.6 239.4h1.4v1.4h-1.4zM134.7 242.2h1.4v1.4h-1.4zM134.6 247.6h1.4v1.4h-1.4zM107.8 244.6h1.4v1.4h-1.4zM141.4 239.1h1.4v1.4h-1.4zM147.9 239.5h1.4v1.4h-1.4zM133.6 239.0h1.4v1.4h-1.4zM135.0 235.8h1.4v1.4h-1.4zM159.5 241.6h1.4v1.4h-1.4zM131.8 246.9h1.4v1.4h-1.4zM172.2 226.5h1.4v1.4h-1.4zM112.8 246.4h1.4v1.4h-1.4zM149.4 241.6h1.4v1.4h-1.4zM99.2 250.2h1.4v1.4h-1.4zM124.6 251.4h1.4v1.4h-1.4zM112.6 251.0h1.4v1.4h-1.4zM136.6 242.0h1.4v1.4h-1.4zM128.4 243.6h1.4v1.4h-1.4zM127.7 245.8h1.4v1.4h-1.4zM124.2 247.7h1.4v1.4h-1.4zM152.4 242.0h1.4v1.4h-1.4zM132.3 235.3h1.4v1.4h-1.4zM141.1 243.2h1.4v1.4h-1.4zM136.5 247.4h1.4v1.4h-1.4zM148.4 240.4h1.4v1.4h-1.4zM105.9 255.2h1.4v1.4h-1.4zM152.9 241.3h1.4v1.4h-1.4zM136.2 237.9h1.4v1.4h-1.4zM130.6 246.9h1.4v1.4h-1.4zM140.8 237.7h1.4v1.4h-1.4zM126.1 250.7h1.4v1.4h-1.4zM149.9 242.5h1.4v1.4h-1.4zM139.9 240.9h1.4v1.4h-1.4zM129.8 247.3h1.4v1.4h-1.4zM119.6 250.6h1.4v1.4h-1.4zM115.8 246.6h1.4v1.4h-1.4zM128.0 245.9h1.4v1.4h-1.4zM108.7 246.4h1.4v1.4h-1.4zM124.7 246.7h1.4v1.4h-1.4zM121.8 250.4h1.4v1.4h-1.4zM120.2 258.7h1.4v1.4h-1.4zM147.1 238.4h1.4v1.4h-1.4zM141.1 243.4h1.4v1.4h-1.4zM139.6 242.2h1.4v1.4h-1.4zM114.1 247.1h1.4v1.4h-1.4zM152.5 241.2h1.4v1.4h-1.4zM138.2 242.8h1.4v1.4h-1.4zM150.0 238.6h1.4v1.4h-1.4zM143.8 247.5h1.4v1.4h-1.4zM146.3 239.4h1.4v1.4h-1.4zM125.2 244.6h1.4v1.4h-1.4zM144.6 241.0h1.4v1.4h-1.4zM146.6 243.1h1.4v1.4h-1.4zM128.3 238.6h1.4v1.4h-1.4zM152.9 242.6h1.4v1.4h-1.4zM122.1 246.8h1.4v1.4h-1.4zM163.1 235.8h1.4v1.4h-1.4zM134.4 248.6h1.4v1.4h-1.4zM157.8 235.8h1.4v1.4h-1.4zM128.0 247.0h1.4v1.4h-1.4zM149.1 241.8h1.4v1.4h-1.4zM129.3 247.2h1.4v1.4h-1.4zM161.7 235.4h1.4v1.4h-1.4zM148.2 240.1h1.4v1.4h-1.4zM129.6 236.0h1.4v1.4h-1.4zM137.0 244.4h1.4v1.4h-1.4zM154.1 233.6h1.4v1.4h-1.4zM125.7 245.1h1.4v1.4h-1.4zM143.6 243.2h1.4v1.4h-1.4zM147.9 239.6h1.4v1.4h-1.4zM139.0 236.3h1.4v1.4h-1.4zM137.0 232.0h1.4v1.4h-1.4zM154.0 241.4h1.4v1.4h-1.4zM128.9 240.8h1.4v1.4h-1.4zM147.9 241.5h1.4v1.4h-1.4zM149.8 239.6h1.4v1.4h-1.4zM113.8 249.0h1.4v1.4h-1.4zM116.2 243.7h1.4v1.4h-1.4zM142.7 238.7h1.4v1.4h-1.4zM134.7 247.7h1.4v1.4h-1.4zM130.5 244.8h1.4v1.4h-1.4zM132.9 245.3h1.4v1.4h-1.4zM129.1 237.1h1.4v1.4h-1.4zM138.9 235.0h1.4v1.4h-1.4zM127.8 242.6h1.4v1.4h-1.4zM127.5 246.7h1.4v1.4h-1.4zM145.7 235.6h1.4v1.4h-1.4zM138.9 239.0h1.4v1.4h-1.4zM144.7 239.4h1.4v1.4h-1.4zM107.2 248.7h1.4v1.4h-1.4zM123.0 241.3h1.4v1.4h-1.4zM134.7 243.2h1.4v1.4h-1.4zM137.1 244.4h1.4v1.4h-1.4zM139.3 247.1h1.4v1.4h-1.4zM149.8 240.2h1.4v1.4h-1.4zM135.1 246.5h1.4v1.4h-1.4zM144.8 240.9h1.4v1.4h-1.4zM129.8 247.6h1.4v1.4h-1.4zM133.7 242.7h1.4v1.4h-1.4zM134.8 247.2h1.4v1.4h-1.4zM139.5 249.4h1.4v1.4h-1.4zM139.6 233.7h1.4v1.4h-1.4zM144.8 237.0h1.4v1.4h-1.4zM142.6 238.6h1.4v1.4h-1.4zM125.4 239.6h1.4v1.4h-1.4zM131.8 244.9h1.4v1.4h-1.4zM146.4 232.4h1.4v1.4h-1.4zM154.8 241.1h1.4v1.4h-1.4zM129.6 241.9h1.4v1.4h-1.4zM146.4 246.3h1.4v1.4h-1.4zM143.7 239.7h1.4v1.4h-1.4zM131.2 246.3h1.4v1.4h-1.4zM154.0 242.2h1.4v1.4h-1.4zM141.0 238.9h1.4v1.4h-1.4zM124.0 241.5h1.4v1.4h-1.4zM134.4 240.1h1.4v1.4h-1.4zM140.1 244.2h1.4v1.4h-1.4zM144.9 238.8h1.4v1.4h-1.4zM132.3 245.1h1.4v1.4h-1.4zM122.5 248.5h1.4v1.4h-1.4zM147.8 236.7h1.4v1.4h-1.4zM154.7 241.3h1.4v1.4h-1.4zM122.4 248.5h1.4v1.4h-1.4zM147.2 241.4h1.4v1.4h-1.4zM111.1 246.7h1.4v1.4h-1.4zM135.6 237.2h1.4v1.4h-1.4zM112.3 239.5h1.4v1.4h-1.4zM134.8 239.9h1.4v1.4h-1.4zM126.2 244.0h1.4v1.4h-1.4zM139.8 247.3h1.4v1.4h-1.4zM116.5 244.4h1.4v1.4h-1.4zM181.3 230.9h1.4v1.4h-1.4zM134.5 248.3h1.4v1.4h-1.4zM148.1 241.4h1.4v1.4h-1.4zM148.9 239.0h1.4v1.4h-1.4zM133.2 245.1h1.4v1.4h-1.4zM142.2 242.4h1.4v1.4h-1.4zM125.4 241.0h1.4v1.4h-1.4zM130.1 245.5h1.4v1.4h-1.4zM104.6 253.8h1.4v1.4h-1.4zM127.6 241.6h1.4v1.4h-1.4zM112.5 248.8h1.4v1.4h-1.4zM141.2 243.4h1.4v1.4h-1.4zM124.3 243.0h1.4v1.4h-1.4zM119.1 244.7h1.4v1.4h-1.4zM123.2 241.1h1.4v1.4h-1.4zM133.0 242.6h1.4v1.4h-1.4zM118.9 248.0h1.4v1.4h-1.4zM133.6 239.0h1.4v1.4h-1.4zM130.8 251.6h1.4v1.4h-1.4zM132.3 250.9h1.4v1.4h-1.4zM131.9 238.5h1.4v1.4h-1.4zM141.0 239.6h1.4v1.4h-1.4zM146.1 238.3h1.4v1.4h-1.4zM131.1 250.0h1.4v1.4h-1.4zM143.5 238.3h1.4v1.4h-1.4zM109.1 250.7h1.4v1.4h-1.4zM135.1 245.1h1.4v1.4h-1.4zM142.0 240.6h1.4v1.4h-1.4zM113.1 251.5h1.4v1.4h-1.4zM121.0 247.0h1.4v1.4h-1.4zM130.2 233.7h1.4v1.4h-1.4zM117.6 247.0h1.4v1.4h-1.4zM151.6 240.5h1.4v1.4h-1.4zM140.6 243.3h1.4v1.4h-1.4zM143.9 236.8h1.4v1.4h-1.4zM121.4 247.4h1.4v1.4h-1.4zM132.8 247.9h1.4v1.4h-1.4zM147.8 230.4h1.4v1.4h-1.4zM139.8 242.2h1.4v1.4h-1.4zM125.5 244.4h1.4v1.4h-1.4zM140.4 240.5h1.4v1.4h-1.4zM161.3 238.3h1.4v1.4h-1.4zM145.3 237.5h1.4v1.4h-1.4zM137.3 244.8h1.4v1.4h-1.4zM136.9 242.7h1.4v1.4h-1.4zM153.1 242.0h1.4v1.4h-1.4zM142.7 239.8h1.4v1.4h-1.4zM135.8 244.1h1.4v1.4h-1.4zM145.6 238.5h1.4v1.4h-1.4zM123.7 250.2h1.4v1.4h-1.4zM119.4 247.4h1.4v1.4h-1.4zM123.4 247.8h1.4v1.4h-1.4zM145.4 245.3h1.4v1.4h-1.4zM138.4 243.1h1.4v1.4h-1.4zM111.1 239.5h1.4v1.4h-1.4zM138.9 240.4h1.4v1.4h-1.4zM134.9 237.9h1.4v1.4h-1.4zM130.1 245.4h1.4v1.4h-1.4zM145.8 235.9h1.4v1.4h-1.4zM136.2 243.3h1.4v1.4h-1.4zM144.8 241.3h1.4v1.4h-1.4zM138.7 240.6h1.4v1.4h-1.4zM147.1 236.6h1.4v1.4h-1.4zM152.2 238.8h1.4v1.4h-1.4zM137.9 246.6h1.4v1.4h-1.4zM139.3 247.0h1.4v1.4h-1.4zM142.0 239.3h1.4v1.4h-1.4zM123.3 244.7h1.4v1.4h-1.4zM126.5 243.5h1.4v1.4h-1.4zM143.0 243.8h1.4v1.4h-1.4zM100.5 244.9h1.4v1.4h-1.4zM142.9 245.4h1.4v1.4h-1.4zM115.5 248.8h1.4v1.4h-1.4zM124.0 245.6h1.4v1.4h-1.4zM140.0 237.2h1.4v1.4h-1.4zM131.9 240.4h1.4v1.4h-1.4zM126.0 244.7h1.4v1.4h-1.4zM123.2 246.1h1.4v1.4h-1.4zM147.2 231.6h1.4v1.4h-1.4zM134.6 241.5h1.4v1.4h-1.4zM159.3 235.9h1.4v1.4h-1.4zM126.9 240.8h1.4v1.4h-1.4zM140.6 238.1h1.4v1.4h-1.4zM128.9 248.8h1.4v1.4h-1.4zM137.6 245.1h1.4v1.4h-1.4zM123.4 241.2h1.4v1.4h-1.4zM108.9 252.0h1.4v1.4h-1.4zM124.9 245.9h1.4v1.4h-1.4zM148.8 241.4h1.4v1.4h-1.4zM129.3 242.1h1.4v1.4h-1.4zM120.6 246.3h1.4v1.4h-1.4zM135.8 244.5h1.4v1.4h-1.4zM128.4 238.7h1.4v1.4h-1.4zM131.6 244.0h1.4v1.4h-1.4zM144.7 244.8h1.4v1.4h-1.4zM152.8 231.7h1.4v1.4h-1.4zM143.7 234.7h1.4v1.4h-1.4zM145.9 235.5h1.4v1.4h-1.4zM146.4 237.7h1.4v1.4h-1.4zM130.7 242.0h1.4v1.4h-1.4zM134.7 243.7h1.4v1.4h-1.4zM104.7 246.3h1.4v1.4h-1.4zM138.9 240.7h1.4v1.4h-1.4zM140.4 244.7h1.4v1.4h-1.4zM131.1 243.8h1.4v1.4h-1.4zM116.5 239.5h1.4v1.4h-1.4zM156.7 233.6h1.4v1.4h-1.4zM148.9 241.4h1.4v1.4h-1.4zM132.1 241.1h1.4v1.4h-1.4zM109.0 251.2h1.4v1.4h-1.4zM125.0 239.4h1.4v1.4h-1.4zM125.3 246.2h1.4v1.4h-1.4zM133.5 245.9h1.4v1.4h-1.4zM116.7 248.1h1.4v1.4h-1.4zM132.5 252.8h1.4v1.4h-1.4zM137.1 245.6h1.4v1.4h-1.4zM109.4 248.5h1.4v1.4h-1.4zM153.3 236.6h1.4v1.4h-1.4zM116.3 246.9h1.4v1.4h-1.4zM144.0 245.8h1.4v1.4h-1.4zM124.0 237.3h1.4v1.4h-1.4zM115.2 248.3h1.4v1.4h-1.4zM123.7 248.8h1.4v1.4h-1.4zM132.6 242.7h1.4v1.4h-1.4zM151.0 242.1h1.4v1.4h-1.4zM140.6 238.8h1.4v1.4h-1.4zM123.8 240.7h1.4v1.4h-1.4zM130.4 235.4h1.4v1.4h-1.4zM137.5 249.1h1.4v1.4h-1.4zM125.2 247.3h1.4v1.4h-1.4zM149.5 243.4h1.4v1.4h-1.4zM110.5 251.0h1.4v1.4h-1.4zM121.7 240.8h1.4v1.4h-1.4zM125.2 245.6h1.4v1.4h-1.4zM128.6 240.9h1.4v1.4h-1.4zM163.5 241.6h1.4v1.4h-1.4zM129.1 244.8h1.4v1.4h-1.4zM147.7 237.6h1.4v1.4h-1.4zM136.7 246.0h1.4v1.4h-1.4zM138.6 241.7h1.4v1.4h-1.4zM137.6 241.2h1.4v1.4h-1.4zM128.0 247.6h1.4v1.4h-1.4zM122.2 242.6h1.4v1.4h-1.4zM144.3 242.8h1.4v1.4h-1.4zM136.7 236.1h1.4v1.4h-1.4zM139.3 241.3h1.4v1.4h-1.4zM124.7 241.6h1.4v1.4h-1.4zM142.1 246.0h1.4v1.4h-1.4zM116.3 249.8h1.4v1.4h-1.4zM134.2 231.0h1.4v1.4h-1.4zM140.2 230.8h1.4v1.4h-1.4zM111.9 246.2h1.4v1.4h-1.4zM122.9 249.8h1.4v1.4h-1.4zM128.3 241.2h1.4v1.4h-1.4zM136.2 239.1h1.4v1.4h-1.4zM139.3 242.6h1.4v1.4h-1.4zM163.2 240.3h1.4v1.4h-1.4zM114.7 242.1h1.4v1.4h-1.4zM126.3 248.0h1.4v1.4h-1.4zM144.6 239.9h1.4v1.4h-1.4zM128.1 245.1h1.4v1.4h-1.4zM112.4 248.9h1.4v1.4h-1.4zM163.2 239.3h1.4v1.4h-1.4zM137.7 241.6h1.4v1.4h-1.4zM141.4 243.7h1.4v1.4h-1.4zM136.3 246.5h1.4v1.4h-1.4zM123.0 248.5h1.4v1.4h-1.4zM143.0 241.9h1.4v1.4h-1.4zM123.5 244.6h1.4v1.4h-1.4zM153.7 240.0h1.4v1.4h-1.4zM144.9 242.1h1.4v1.4h-1.4zM129.4 248.4h1.4v1.4h-1.4zM127.7 240.7h1.4v1.4h-1.4zM130.3 239.3h1.4v1.4h-1.4zM132.5 248.6h1.4v1.4h-1.4zM140.5 242.7h1.4v1.4h-1.4zM137.6 239.8h1.4v1.4h-1.4zM121.5 252.7h1.4v1.4h-1.4zM135.7 245.2h1.4v1.4h-1.4zM129.0 248.7h1.4v1.4h-1.4zM143.1 246.0h1.4v1.4h-1.4zM121.3 249.6h1.4v1.4h-1.4zM144.5 238.5h1.4v1.4h-1.4zM123.2 249.5h1.4v1.4h-1.4zM140.3 248.6h1.4v1.4h-1.4zM125.1 248.5h1.4v1.4h-1.4zM136.1 240.5h1.4v1.4h-1.4zM103.3 250.1h1.4v1.4h-1.4zM154.6 230.4h1.4v1.4h-1.4zM141.5 241.3h1.4v1.4h-1.4zM146.2 235.8h1.4v1.4h-1.4zM123.1 247.5h1.4v1.4h-1.4zM125.5 246.3h1.4v1.4h-1.4zM145.3 236.2h1.4v1.4h-1.4zM131.5 248.3h1.4v1.4h-1.4zM138.6 239.5h1.4v1.4h-1.4zM124.7 246.7h1.4v1.4h-1.4zM119.6 246.4h1.4v1.4h-1.4zM137.8 244.6h1.4v1.4h-1.4zM137.2 239.4h1.4v1.4h-1.4zM140.0 241.6h1.4v1.4h-1.4zM128.8 244.7h1.4v1.4h-1.4zM146.3 238.8h1.4v1.4h-1.4zM122.3 248.2h1.4v1.4h-1.4zM148.0 243.1h1.4v1.4h-1.4zM132.6 240.8h1.4v1.4h-1.4zM140.8 237.9h1.4v1.4h-1.4zM127.2 245.8h1.4v1.4h-1.4zM133.7 240.7h1.4v1.4h-1.4zM137.7 242.6h1.4v1.4h-1.4zM123.9 240.5h1.4v1.4h-1.4zM127.6 248.5h1.4v1.4h-1.4zM148.8 238.5h1.4v1.4h-1.4zM158.6 239.2h1.4v1.4h-1.4zM138.4 245.8h1.4v1.4h-1.4zM126.9 243.5h1.4v1.4h-1.4zM142.5 235.0h1.4v1.4h-1.4zM129.5 252.6h1.4v1.4h-1.4zM128.8 240.3h1.4v1.4h-1.4zM143.1 234.1h1.4v1.4h-1.4zM130.7 233.9h1.4v1.4h-1.4zM145.6 239.3h1.4v1.4h-1.4zM122.7 238.0h1.4v1.4h-1.4zM122.5 244.9h1.4v1.4h-1.4zM125.0 240.7h1.4v1.4h-1.4zM137.1 242.8h1.4v1.4h-1.4zM155.7 242.0h1.4v1.4h-1.4zM142.0 243.1h1.4v1.4h-1.4zM136.6 247.9h1.4v1.4h-1.4zM121.0 243.1h1.4v1.4h-1.4zM119.3 247.2h1.4v1.4h-1.4zM119.2 249.7h1.4v1.4h-1.4zM122.4 236.1h1.4v1.4h-1.4zM123.8 246.7h1.4v1.4h-1.4zM147.4 237.0h1.4v1.4h-1.4zM139.9 239.8h1.4v1.4h-1.4zM138.9 237.2h1.4v1.4h-1.4zM138.5 238.4h1.4v1.4h-1.4zM133.8 247.1h1.4v1.4h-1.4zM144.0 243.5h1.4v1.4h-1.4zM136.2 237.6h1.4v1.4h-1.4zM123.8 249.7h1.4v1.4h-1.4zM167.4 236.1h1.4v1.4h-1.4zM104.9 252.9h1.4v1.4h-1.4zM143.1 242.2h1.4v1.4h-1.4zM144.8 244.1h1.4v1.4h-1.4zM133.9 247.5h1.4v1.4h-1.4zM127.1 252.0h1.4v1.4h-1.4zM137.8 247.1h1.4v1.4h-1.4zM117.0 248.1h1.4v1.4h-1.4zM144.5 239.1h1.4v1.4h-1.4zM138.0 234.8h1.4v1.4h-1.4zM151.0 235.9h1.4v1.4h-1.4zM151.1 240.0h1.4v1.4h-1.4zM147.3 234.2h1.4v1.4h-1.4zM139.6 238.6h1.4v1.4h-1.4zM149.7 244.2h1.4v1.4h-1.4zM142.1 240.0h1.4v1.4h-1.4zM157.4 243.3h1.4v1.4h-1.4zM143.2 231.8h1.4v1.4h-1.4zM141.2 248.0h1.4v1.4h-1.4zM154.2 238.6h1.4v1.4h-1.4zM149.6 236.2h1.4v1.4h-1.4zM153.3 238.3h1.4v1.4h-1.4zM156.6 239.5h1.4v1.4h-1.4zM148.1 233.7h1.4v1.4h-1.4zM151.6 236.1h1.4v1.4h-1.4zM155.5 233.7h1.4v1.4h-1.4zM153.3 241.0h1.4v1.4h-1.4zM154.0 242.8h1.4v1.4h-1.4zM149.4 232.7h1.4v1.4h-1.4zM159.2 231.7h1.4v1.4h-1.4zM146.2 237.2h1.4v1.4h-1.4zM140.6 236.9h1.4v1.4h-1.4zM152.6 235.1h1.4v1.4h-1.4zM158.7 236.1h1.4v1.4h-1.4zM149.5 242.4h1.4v1.4h-1.4zM139.8 242.4h1.4v1.4h-1.4zM145.1 240.0h1.4v1.4h-1.4zM150.3 241.4h1.4v1.4h-1.4zM154.1 235.1h1.4v1.4h-1.4zM148.6 235.4h1.4v1.4h-1.4zM164.5 234.8h1.4v1.4h-1.4zM156.5 240.3h1.4v1.4h-1.4zM146.7 236.2h1.4v1.4h-1.4zM147.9 238.2h1.4v1.4h-1.4zM153.4 235.4h1.4v1.4h-1.4zM159.7 242.5h1.4v1.4h-1.4zM151.7 235.4h1.4v1.4h-1.4zM146.1 234.9h1.4v1.4h-1.4zM153.1 223.2h1.4v1.4h-1.4zM140.0 237.9h1.4v1.4h-1.4zM143.2 237.3h1.4v1.4h-1.4zM150.2 235.2h1.4v1.4h-1.4zM154.1 231.7h1.4v1.4h-1.4zM141.7 240.7h1.4v1.4h-1.4zM156.8 237.1h1.4v1.4h-1.4zM152.9 242.3h1.4v1.4h-1.4zM151.3 245.6h1.4v1.4h-1.4zM151.4 230.2h1.4v1.4h-1.4zM151.4 247.2h1.4v1.4h-1.4zM134.4 239.2h1.4v1.4h-1.4zM149.1 240.9h1.4v1.4h-1.4zM149.2 236.9h1.4v1.4h-1.4zM147.1 227.3h1.4v1.4h-1.4zM154.8 243.3h1.4v1.4h-1.4zM147.5 239.3h1.4v1.4h-1.4zM150.4 232.5h1.4v1.4h-1.4zM148.6 241.0h1.4v1.4h-1.4zM150.6 243.6h1.4v1.4h-1.4zM151.4 242.9h1.4v1.4h-1.4zM156.9 238.4h1.4v1.4h-1.4zM152.1 236.8h1.4v1.4h-1.4zM150.5 234.7h1.4v1.4h-1.4zM158.8 237.1h1.4v1.4h-1.4zM154.7 237.2h1.4v1.4h-1.4zM148.4 243.0h1.4v1.4h-1.4zM140.5 233.0h1.4v1.4h-1.4zM154.7 224.1h1.4v1.4h-1.4zM137.8 242.3h1.4v1.4h-1.4zM139.8 236.5h1.4v1.4h-1.4zM149.2 240.4h1.4v1.4h-1.4zM150.2 244.0h1.4v1.4h-1.4zM142.1 239.3h1.4v1.4h-1.4zM154.4 239.8h1.4v1.4h-1.4zM150.7 236.6h1.4v1.4h-1.4zM153.1 239.2h1.4v1.4h-1.4zM159.1 231.1h1.4v1.4h-1.4zM155.4 237.8h1.4v1.4h-1.4zM151.0 243.1h1.4v1.4h-1.4zM148.5 233.8h1.4v1.4h-1.4zM152.2 240.0h1.4v1.4h-1.4zM153.0 239.3h1.4v1.4h-1.4zM155.7 244.8h1.4v1.4h-1.4zM152.0 229.5h1.4v1.4h-1.4zM147.9 246.1h1.4v1.4h-1.4zM165.6 237.8h1.4v1.4h-1.4zM159.8 239.7h1.4v1.4h-1.4zM158.2 239.9h1.4v1.4h-1.4zM146.4 244.7h1.4v1.4h-1.4zM145.6 239.6h1.4v1.4h-1.4zM142.1 235.4h1.4v1.4h-1.4zM161.3 232.3h1.4v1.4h-1.4zM141.7 241.5h1.4v1.4h-1.4zM151.3 243.2h1.4v1.4h-1.4zM145.7 240.3h1.4v1.4h-1.4zM137.1 240.9h1.4v1.4h-1.4zM150.6 233.2h1.4v1.4h-1.4zM143.2 238.1h1.4v1.4h-1.4zM142.9 231.3h1.4v1.4h-1.4zM153.3 243.6h1.4v1.4h-1.4zM150.4 242.1h1.4v1.4h-1.4zM144.7 240.1h1.4v1.4h-1.4zM148.3 234.7h1.4v1.4h-1.4zM153.0 236.9h1.4v1.4h-1.4zM155.6 236.4h1.4v1.4h-1.4zM152.6 241.4h1.4v1.4h-1.4zM153.1 241.8h1.4v1.4h-1.4zM139.7 239.8h1.4v1.4h-1.4zM160.1 239.7h1.4v1.4h-1.4zM149.6 239.4h1.4v1.4h-1.4zM148.3 241.4h1.4v1.4h-1.4zM157.1 241.2h1.4v1.4h-1.4zM151.5 244.3h1.4v1.4h-1.4zM161.6 234.7h1.4v1.4h-1.4zM154.3 240.1h1.4v1.4h-1.4zM148.2 236.8h1.4v1.4h-1.4zM146.4 243.7h1.4v1.4h-1.4zM147.4 234.6h1.4v1.4h-1.4zM156.1 241.4h1.4v1.4h-1.4zM159.9 235.0h1.4v1.4h-1.4zM150.5 241.2h1.4v1.4h-1.4zM158.0 238.1h1.4v1.4h-1.4zM150.8 236.0h1.4v1.4h-1.4zM150.4 235.0h1.4v1.4h-1.4zM152.3 240.2h1.4v1.4h-1.4zM150.5 236.8h1.4v1.4h-1.4zM139.6 243.4h1.4v1.4h-1.4zM152.6 237.8h1.4v1.4h-1.4zM139.4 241.9h1.4v1.4h-1.4zM148.4 236.0h1.4v1.4h-1.4zM148.3 236.7h1.4v1.4h-1.4zM157.1 238.2h1.4v1.4h-1.4zM149.1 231.4h1.4v1.4h-1.4zM150.3 237.5h1.4v1.4h-1.4zM149.6 238.5h1.4v1.4h-1.4zM154.1 235.2h1.4v1.4h-1.4zM139.5 232.5h1.4v1.4h-1.4zM139.4 242.3h1.4v1.4h-1.4zM158.0 238.0h1.4v1.4h-1.4zM147.5 242.8h1.4v1.4h-1.4zM144.3 232.8h1.4v1.4h-1.4zM138.7 243.8h1.4v1.4h-1.4zM139.4 240.8h1.4v1.4h-1.4zM146.6 237.9h1.4v1.4h-1.4zM143.7 244.0h1.4v1.4h-1.4zM157.0 240.4h1.4v1.4h-1.4zM156.1 232.8h1.4v1.4h-1.4zM141.1 243.9h1.4v1.4h-1.4zM158.3 236.8h1.4v1.4h-1.4zM150.5 236.9h1.4v1.4h-1.4zM149.9 244.5h1.4v1.4h-1.4zM139.1 241.0h1.4v1.4h-1.4zM152.0 237.3h1.4v1.4h-1.4zM158.7 236.3h1.4v1.4h-1.4zM155.3 235.4h1.4v1.4h-1.4zM151.4 237.2h1.4v1.4h-1.4zM150.3 236.6h1.4v1.4h-1.4zM155.7 238.9h1.4v1.4h-1.4zM153.2 240.3h1.4v1.4h-1.4zM143.4 229.4h1.4v1.4h-1.4zM156.0 236.0h1.4v1.4h-1.4zM156.6 237.4h1.4v1.4h-1.4zM158.9 241.8h1.4v1.4h-1.4zM146.3 234.2h1.4v1.4h-1.4zM152.9 237.8h1.4v1.4h-1.4zM147.9 240.4h1.4v1.4h-1.4zM135.2 253.1h1.4v1.4h-1.4zM150.6 237.1h1.4v1.4h-1.4zM161.0 237.8h1.4v1.4h-1.4zM144.0 239.4h1.4v1.4h-1.4zM148.9 244.2h1.4v1.4h-1.4zM143.3 242.4h1.4v1.4h-1.4zM147.6 240.2h1.4v1.4h-1.4zM156.2 237.0h1.4v1.4h-1.4zM148.1 230.4h1.4v1.4h-1.4zM143.6 244.6h1.4v1.4h-1.4zM149.3 239.6h1.4v1.4h-1.4zM151.7 234.5h1.4v1.4h-1.4zM163.0 236.7h1.4v1.4h-1.4zM163.8 231.9h1.4v1.4h-1.4zM159.8 244.0h1.4v1.4h-1.4zM150.8 237.8h1.4v1.4h-1.4zM144.7 245.5h1.4v1.4h-1.4zM155.9 234.5h1.4v1.4h-1.4zM147.8 236.7h1.4v1.4h-1.4zM154.6 237.1h1.4v1.4h-1.4zM159.5 238.0h1.4v1.4h-1.4zM144.3 242.5h1.4v1.4h-1.4zM154.9 239.1h1.4v1.4h-1.4zM154.2 235.2h1.4v1.4h-1.4zM136.6 238.3h1.4v1.4h-1.4zM149.3 243.1h1.4v1.4h-1.4zM144.6 238.7h1.4v1.4h-1.4zM159.0 238.2h1.4v1.4h-1.4zM142.4 237.9h1.4v1.4h-1.4zM155.9 237.3h1.4v1.4h-1.4zM157.0 235.6h1.4v1.4h-1.4zM155.1 243.9h1.4v1.4h-1.4zM148.5 228.2h1.4v1.4h-1.4zM148.3 243.8h1.4v1.4h-1.4zM147.9 239.9h1.4v1.4h-1.4zM156.2 237.9h1.4v1.4h-1.4zM147.8 238.9h1.4v1.4h-1.4zM149.8 235.6h1.4v1.4h-1.4zM150.8 238.4h1.4v1.4h-1.4zM144.2 242.6h1.4v1.4h-1.4zM155.8 237.2h1.4v1.4h-1.4zM142.1 251.2h1.4v1.4h-1.4zM154.8 230.4h1.4v1.4h-1.4zM142.5 240.6h1.4v1.4h-1.4zM153.7 239.8h1.4v1.4h-1.4zM143.0 240.4h1.4v1.4h-1.4zM156.2 239.0h1.4v1.4h-1.4zM157.1 232.1h1.4v1.4h-1.4zM157.9 243.6h1.4v1.4h-1.4zM151.3 233.4h1.4v1.4h-1.4zM152.5 235.4h1.4v1.4h-1.4zM144.2 247.8h1.4v1.4h-1.4zM149.4 234.9h1.4v1.4h-1.4zM156.5 232.9h1.4v1.4h-1.4zM161.5 237.2h1.4v1.4h-1.4zM145.7 240.4h1.4v1.4h-1.4zM148.6 231.3h1.4v1.4h-1.4zM154.1 240.2h1.4v1.4h-1.4zM160.1 239.3h1.4v1.4h-1.4zM167.5 237.1h1.4v1.4h-1.4zM149.1 236.0h1.4v1.4h-1.4zM142.9 237.4h1.4v1.4h-1.4zM144.4 239.6h1.4v1.4h-1.4zM152.0 238.9h1.4v1.4h-1.4zM157.8 241.8h1.4v1.4h-1.4zM153.5 231.9h1.4v1.4h-1.4zM141.8 237.8h1.4v1.4h-1.4zM152.6 241.5h1.4v1.4h-1.4zM151.8 237.7h1.4v1.4h-1.4zM157.8 234.1h1.4v1.4h-1.4zM140.6 236.2h1.4v1.4h-1.4zM150.0 237.0h1.4v1.4h-1.4zM146.7 239.1h1.4v1.4h-1.4zM148.6 235.5h1.4v1.4h-1.4zM141.0 235.7h1.4v1.4h-1.4zM144.0 242.1h1.4v1.4h-1.4zM141.6 234.4h1.4v1.4h-1.4zM148.4 245.0h1.4v1.4h-1.4zM159.5 236.3h1.4v1.4h-1.4zM136.8 228.2h1.4v1.4h-1.4zM143.6 233.0h1.4v1.4h-1.4zM160.3 242.7h1.4v1.4h-1.4zM147.9 234.7h1.4v1.4h-1.4zM144.9 240.8h1.4v1.4h-1.4zM141.8 235.3h1.4v1.4h-1.4zM141.1 245.6h1.4v1.4h-1.4zM150.7 238.1h1.4v1.4h-1.4zM145.4 239.6h1.4v1.4h-1.4zM151.7 238.5h1.4v1.4h-1.4zM151.5 237.4h1.4v1.4h-1.4zM142.1 240.7h1.4v1.4h-1.4zM138.4 232.8h1.4v1.4h-1.4zM152.4 237.1h1.4v1.4h-1.4zM141.6 231.0h1.4v1.4h-1.4zM160.7 237.7h1.4v1.4h-1.4zM139.3 242.6h1.4v1.4h-1.4zM141.7 239.5h1.4v1.4h-1.4zM144.0 234.9h1.4v1.4h-1.4zM141.8 236.0h1.4v1.4h-1.4zM145.5 243.4h1.4v1.4h-1.4zM153.2 240.7h1.4v1.4h-1.4zM143.6 244.0h1.4v1.4h-1.4zM157.2 236.4h1.4v1.4h-1.4zM148.8 239.7h1.4v1.4h-1.4zM147.3 238.7h1.4v1.4h-1.4zM144.5 242.5h1.4v1.4h-1.4zM149.1 234.7h1.4v1.4h-1.4zM154.2 241.7h1.4v1.4h-1.4zM140.5 238.4h1.4v1.4h-1.4zM151.2 243.9h1.4v1.4h-1.4zM144.9 235.5h1.4v1.4h-1.4zM155.0 236.0h1.4v1.4h-1.4zM152.4 243.7h1.4v1.4h-1.4zM154.0 241.6h1.4v1.4h-1.4zM143.9 240.6h1.4v1.4h-1.4zM148.0 244.4h1.4v1.4h-1.4zM150.1 247.5h1.4v1.4h-1.4zM148.9 244.0h1.4v1.4h-1.4zM167.8 238.0h1.4v1.4h-1.4zM151.1 241.0h1.4v1.4h-1.4zM146.3 232.7h1.4v1.4h-1.4zM151.4 239.0h1.4v1.4h-1.4zM149.2 241.1h1.4v1.4h-1.4zM141.9 235.0h1.4v1.4h-1.4zM156.4 236.7h1.4v1.4h-1.4zM154.7 232.8h1.4v1.4h-1.4zM152.9 239.6h1.4v1.4h-1.4zM156.9 232.9h1.4v1.4h-1.4zM158.5 239.0h1.4v1.4h-1.4zM150.6 245.4h1.4v1.4h-1.4zM160.2 236.3h1.4v1.4h-1.4zM146.2 242.4h1.4v1.4h-1.4zM158.4 245.9h1.4v1.4h-1.4zM156.7 249.6h1.4v1.4h-1.4zM144.6 238.8h1.4v1.4h-1.4zM156.9 236.7h1.4v1.4h-1.4zM143.9 237.5h1.4v1.4h-1.4zM160.0 235.0h1.4v1.4h-1.4zM154.3 228.1h1.4v1.4h-1.4zM144.0 241.2h1.4v1.4h-1.4zM144.3 241.0h1.4v1.4h-1.4zM155.4 237.5h1.4v1.4h-1.4zM155.8 237.1h1.4v1.4h-1.4zM146.8 244.7h1.4v1.4h-1.4zM158.8 231.7h1.4v1.4h-1.4zM141.8 240.2h1.4v1.4h-1.4zM142.9 240.9h1.4v1.4h-1.4zM150.5 244.9h1.4v1.4h-1.4zM149.9 234.3h1.4v1.4h-1.4zM138.6 234.5h1.4v1.4h-1.4zM151.9 242.1h1.4v1.4h-1.4zM142.6 242.9h1.4v1.4h-1.4zM136.7 244.7h1.4v1.4h-1.4zM155.4 233.6h1.4v1.4h-1.4zM146.5 232.1h1.4v1.4h-1.4zM146.9 238.6h1.4v1.4h-1.4zM158.2 241.1h1.4v1.4h-1.4zM142.4 240.9h1.4v1.4h-1.4zM143.0 240.4h1.4v1.4h-1.4zM135.7 232.9h1.4v1.4h-1.4zM156.1 243.2h1.4v1.4h-1.4zM142.5 237.2h1.4v1.4h-1.4zM148.3 244.7h1.4v1.4h-1.4zM150.2 233.3h1.4v1.4h-1.4zM155.1 237.8h1.4v1.4h-1.4zM155.2 234.0h1.4v1.4h-1.4zM158.0 243.8h1.4v1.4h-1.4zM156.2 237.1h1.4v1.4h-1.4zM153.7 241.2h1.4v1.4h-1.4zM146.7 242.3h1.4v1.4h-1.4zM151.0 237.3h1.4v1.4h-1.4zM150.6 232.7h1.4v1.4h-1.4zM144.8 232.3h1.4v1.4h-1.4zM145.2 243.1h1.4v1.4h-1.4zM147.7 229.9h1.4v1.4h-1.4zM141.9 242.8h1.4v1.4h-1.4zM155.9 237.4h1.4v1.4h-1.4zM154.1 242.2h1.4v1.4h-1.4zM150.6 244.9h1.4v1.4h-1.4zM150.9 244.9h1.4v1.4h-1.4zM161.5 234.3h1.4v1.4h-1.4zM140.7 237.7h1.4v1.4h-1.4zM150.6 238.5h1.4v1.4h-1.4zM144.4 237.0h1.4v1.4h-1.4zM157.4 240.2h1.4v1.4h-1.4zM144.5 236.8h1.4v1.4h-1.4zM151.1 236.4h1.4v1.4h-1.4zM148.8 241.9h1.4v1.4h-1.4zM153.3 235.7h1.4v1.4h-1.4zM153.8 238.9h1.4v1.4h-1.4zM144.6 244.1h1.4v1.4h-1.4zM148.7 241.2h1.4v1.4h-1.4zM141.8 243.9h1.4v1.4h-1.4zM159.3 238.3h1.4v1.4h-1.4zM159.2 239.3h1.4v1.4h-1.4zM148.4 240.1h1.4v1.4h-1.4zM140.4 233.3h1.4v1.4h-1.4zM148.5 232.3h1.4v1.4h-1.4zM140.9 241.6h1.4v1.4h-1.4zM141.4 245.4h1.4v1.4h-1.4zM141.1 237.0h1.4v1.4h-1.4zM147.0 243.0h1.4v1.4h-1.4zM150.4 234.4h1.4v1.4h-1.4zM153.7 242.0h1.4v1.4h-1.4zM141.1 244.2h1.4v1.4h-1.4zM145.9 239.8h1.4v1.4h-1.4zM148.6 241.7h1.4v1.4h-1.4zM147.2 235.5h1.4v1.4h-1.4zM158.9 241.4h1.4v1.4h-1.4zM146.1 240.6h1.4v1.4h-1.4zM152.7 238.8h1.4v1.4h-1.4zM155.7 244.3h1.4v1.4h-1.4zM147.9 239.4h1.4v1.4h-1.4zM138.5 241.1h1.4v1.4h-1.4zM150.5 241.8h1.4v1.4h-1.4zM148.1 238.6h1.4v1.4h-1.4zM149.6 243.3h1.4v1.4h-1.4zM156.4 234.5h1.4v1.4h-1.4zM151.8 237.0h1.4v1.4h-1.4zM139.3 242.9h1.4v1.4h-1.4zM162.9 236.6h1.4v1.4h-1.4zM142.1 242.1h1.4v1.4h-1.4zM152.4 231.4h1.4v1.4h-1.4zM148.5 233.5h1.4v1.4h-1.4zM148.9 238.8h1.4v1.4h-1.4zM146.3 239.0h1.4v1.4h-1.4zM139.6 238.8h1.4v1.4h-1.4zM141.3 246.9h1.4v1.4h-1.4zM147.5 237.1h1.4v1.4h-1.4zM150.5 239.7h1.4v1.4h-1.4zM154.6 242.0h1.4v1.4h-1.4zM149.0 239.1h1.4v1.4h-1.4zM150.3 240.5h1.4v1.4h-1.4zM154.4 240.9h1.4v1.4h-1.4zM146.2 239.3h1.4v1.4h-1.4zM154.5 240.2h1.4v1.4h-1.4zM152.5 237.9h1.4v1.4h-1.4zM149.0 233.6h1.4v1.4h-1.4zM154.6 231.5h1.4v1.4h-1.4zM160.8 240.7h1.4v1.4h-1.4zM137.9 242.5h1.4v1.4h-1.4zM150.2 239.9h1.4v1.4h-1.4zM160.8 242.9h1.4v1.4h-1.4zM137.2 231.5h1.4v1.4h-1.4zM147.4 240.3h1.4v1.4h-1.4zM148.1 248.2h1.4v1.4h-1.4zM155.0 238.2h1.4v1.4h-1.4zM151.7 237.4h1.4v1.4h-1.4zM145.2 237.9h1.4v1.4h-1.4zM132.3 237.3h1.4v1.4h-1.4zM164.4 238.4h1.4v1.4h-1.4zM144.6 232.9h1.4v1.4h-1.4zM159.3 235.6h1.4v1.4h-1.4zM151.3 240.2h1.4v1.4h-1.4zM147.0 239.1h1.4v1.4h-1.4zM130.2 235.7h1.4v1.4h-1.4zM146.6 240.9h1.4v1.4h-1.4zM138.8 235.7h1.4v1.4h-1.4zM149.2 238.3h1.4v1.4h-1.4zM145.0 233.7h1.4v1.4h-1.4zM151.9 232.1h1.4v1.4h-1.4zM158.8 228.4h1.4v1.4h-1.4zM152.8 236.6h1.4v1.4h-1.4zM146.8 248.0h1.4v1.4h-1.4zM142.4 240.4h1.4v1.4h-1.4zM143.3 230.8h1.4v1.4h-1.4zM135.0 237.7h1.4v1.4h-1.4zM151.1 243.4h1.4v1.4h-1.4zM152.9 243.6h1.4v1.4h-1.4zM147.0 242.4h1.4v1.4h-1.4zM153.3 229.7h1.4v1.4h-1.4zM142.1 238.9h1.4v1.4h-1.4zM158.2 239.2h1.4v1.4h-1.4zM151.7 239.2h1.4v1.4h-1.4zM147.1 237.0h1.4v1.4h-1.4zM147.9 236.8h1.4v1.4h-1.4zM159.2 236.6h1.4v1.4h-1.4zM151.0 233.4h1.4v1.4h-1.4zM159.5 238.8h1.4v1.4h-1.4zM144.1 244.6h1.4v1.4h-1.4zM154.3 241.5h1.4v1.4h-1.4zM147.1 239.4h1.4v1.4h-1.4zM155.4 246.1h1.4v1.4h-1.4zM144.8 244.2h1.4v1.4h-1.4zM143.4 236.2h1.4v1.4h-1.4zM151.6 233.4h1.4v1.4h-1.4zM147.0 241.6h1.4v1.4h-1.4zM151.7 239.4h1.4v1.4h-1.4zM143.4 241.0h1.4v1.4h-1.4zM160.5 240.8h1.4v1.4h-1.4zM149.1 243.1h1.4v1.4h-1.4zM159.3 232.1h1.4v1.4h-1.4zM152.5 241.4h1.4v1.4h-1.4zM145.6 234.6h1.4v1.4h-1.4zM137.7 241.7h1.4v1.4h-1.4zM148.4 239.9h1.4v1.4h-1.4zM147.9 237.2h1.4v1.4h-1.4zM151.9 238.0h1.4v1.4h-1.4zM142.5 237.4h1.4v1.4h-1.4zM154.7 240.1h1.4v1.4h-1.4zM147.1 231.1h1.4v1.4h-1.4zM151.8 233.6h1.4v1.4h-1.4zM151.7 234.5h1.4v1.4h-1.4zM151.4 238.6h1.4v1.4h-1.4zM142.1 239.5h1.4v1.4h-1.4zM157.7 239.9h1.4v1.4h-1.4zM151.7 244.4h1.4v1.4h-1.4zM154.6 231.0h1.4v1.4h-1.4zM139.6 238.4h1.4v1.4h-1.4zM148.6 231.8h1.4v1.4h-1.4zM150.5 246.8h1.4v1.4h-1.4zM157.6 235.3h1.4v1.4h-1.4zM159.2 241.0h1.4v1.4h-1.4zM141.5 239.4h1.4v1.4h-1.4zM139.3 245.7h1.4v1.4h-1.4zM146.6 240.1h1.4v1.4h-1.4zM149.2 237.7h1.4v1.4h-1.4zM144.6 236.9h1.4v1.4h-1.4zM141.2 242.8h1.4v1.4h-1.4zM149.5 239.8h1.4v1.4h-1.4zM151.5 236.5h1.4v1.4h-1.4zM142.0 235.8h1.4v1.4h-1.4zM155.2 226.5h1.4v1.4h-1.4zM132.9 234.5h1.4v1.4h-1.4zM148.0 235.2h1.4v1.4h-1.4zM151.2 236.8h1.4v1.4h-1.4zM147.0 244.1h1.4v1.4h-1.4zM144.5 237.0h1.4v1.4h-1.4zM140.0 238.7h1.4v1.4h-1.4zM150.9 238.3h1.4v1.4h-1.4zM155.5 244.0h1.4v1.4h-1.4zM150.3 239.5h1.4v1.4h-1.4zM148.5 240.1h1.4v1.4h-1.4zM144.6 230.4h1.4v1.4h-1.4zM150.6 242.6h1.4v1.4h-1.4zM149.4 242.1h1.4v1.4h-1.4zM145.4 240.2h1.4v1.4h-1.4zM150.9 243.2h1.4v1.4h-1.4zM146.1 243.9h1.4v1.4h-1.4zM144.6 243.4h1.4v1.4h-1.4zM156.9 244.2h1.4v1.4h-1.4zM152.1 237.3h1.4v1.4h-1.4zM143.5 239.2h1.4v1.4h-1.4zM154.6 240.0h1.4v1.4h-1.4zM151.7 228.9h1.4v1.4h-1.4zM151.0 242.4h1.4v1.4h-1.4zM145.6 234.1h1.4v1.4h-1.4zM152.2 234.6h1.4v1.4h-1.4zM155.2 234.6h1.4v1.4h-1.4zM157.8 240.4h1.4v1.4h-1.4zM148.8 242.2h1.4v1.4h-1.4zM146.9 231.9h1.4v1.4h-1.4zM156.0 239.5h1.4v1.4h-1.4zM150.9 235.2h1.4v1.4h-1.4zM143.2 241.0h1.4v1.4h-1.4zM152.9 244.4h1.4v1.4h-1.4zM157.0 231.2h1.4v1.4h-1.4zM150.4 238.9h1.4v1.4h-1.4zM147.9 239.2h1.4v1.4h-1.4zM155.8 241.5h1.4v1.4h-1.4zM145.5 242.9h1.4v1.4h-1.4zM152.9 231.8h1.4v1.4h-1.4zM166.0 239.9h1.4v1.4h-1.4zM151.6 241.6h1.4v1.4h-1.4zM136.5 242.9h1.4v1.4h-1.4zM142.7 243.2h1.4v1.4h-1.4zM144.8 236.1h1.4v1.4h-1.4zM152.2 242.6h1.4v1.4h-1.4zM144.0 245.8h1.4v1.4h-1.4zM143.8 243.9h1.4v1.4h-1.4zM145.3 244.7h1.4v1.4h-1.4zM140.1 245.1h1.4v1.4h-1.4zM144.1 239.6h1.4v1.4h-1.4zM144.8 237.4h1.4v1.4h-1.4zM144.9 252.9h1.4v1.4h-1.4zM143.9 239.5h1.4v1.4h-1.4zM144.6 244.5h1.4v1.4h-1.4zM144.9 239.2h1.4v1.4h-1.4zM137.5 233.0h1.4v1.4h-1.4zM144.4 235.1h1.4v1.4h-1.4zM143.9 231.9h1.4v1.4h-1.4zM147.0 237.9h1.4v1.4h-1.4zM145.2 244.3h1.4v1.4h-1.4zM151.7 243.1h1.4v1.4h-1.4zM160.7 235.9h1.4v1.4h-1.4zM156.3 242.3h1.4v1.4h-1.4zM162.5 232.9h1.4v1.4h-1.4zM143.6 242.3h1.4v1.4h-1.4zM157.7 231.1h1.4v1.4h-1.4zM139.2 243.1h1.4v1.4h-1.4zM145.6 237.9h1.4v1.4h-1.4zM143.5 235.3h1.4v1.4h-1.4zM147.6 240.6h1.4v1.4h-1.4zM154.5 241.5h1.4v1.4h-1.4zM153.0 238.6h1.4v1.4h-1.4zM151.7 239.3h1.4v1.4h-1.4zM142.1 241.8h1.4v1.4h-1.4zM143.2 235.1h1.4v1.4h-1.4zM154.8 239.5h1.4v1.4h-1.4zM149.5 241.6h1.4v1.4h-1.4zM150.9 235.1h1.4v1.4h-1.4zM155.8 243.6h1.4v1.4h-1.4zM138.3 236.9h1.4v1.4h-1.4zM144.0 237.3h1.4v1.4h-1.4zM144.4 241.1h1.4v1.4h-1.4zM145.9 239.5h1.4v1.4h-1.4zM155.7 242.2h1.4v1.4h-1.4zM141.9 244.6h1.4v1.4h-1.4zM140.4 241.1h1.4v1.4h-1.4zM149.2 238.4h1.4v1.4h-1.4zM152.9 232.5h1.4v1.4h-1.4zM148.9 236.9h1.4v1.4h-1.4zM151.6 246.1h1.4v1.4h-1.4zM147.7 234.8h1.4v1.4h-1.4zM146.8 235.0h1.4v1.4h-1.4zM143.0 238.7h1.4v1.4h-1.4zM159.3 243.1h1.4v1.4h-1.4zM153.0 239.6h1.4v1.4h-1.4zM146.4 241.4h1.4v1.4h-1.4zM151.3 231.1h1.4v1.4h-1.4zM149.1 241.1h1.4v1.4h-1.4zM147.5 238.6h1.4v1.4h-1.4zM135.2 239.3h1.4v1.4h-1.4zM141.6 233.4h1.4v1.4h-1.4zM149.0 237.5h1.4v1.4h-1.4zM144.1 234.4h1.4v1.4h-1.4zM137.0 244.6h1.4v1.4h-1.4zM157.7 227.7h1.4v1.4h-1.4zM166.1 241.5h1.4v1.4h-1.4zM155.0 241.3h1.4v1.4h-1.4zM142.6 245.1h1.4v1.4h-1.4zM154.4 238.4h1.4v1.4h-1.4zM151.5 235.5h1.4v1.4h-1.4zM149.9 242.8h1.4v1.4h-1.4zM148.1 230.3h1.4v1.4h-1.4zM153.5 239.1h1.4v1.4h-1.4zM139.7 238.6h1.4v1.4h-1.4zM167.3 231.1h1.4v1.4h-1.4zM150.4 242.6h1.4v1.4h-1.4zM142.6 244.7h1.4v1.4h-1.4zM151.8 232.9h1.4v1.4h-1.4zM148.5 240.8h1.4v1.4h-1.4zM153.1 245.0h1.4v1.4h-1.4zM138.5 244.5h1.4v1.4h-1.4zM134.0 246.3h1.4v1.4h-1.4zM141.5 242.4h1.4v1.4h-1.4zM144.6 236.6h1.4v1.4h-1.4zM139.8 238.8h1.4v1.4h-1.4zM148.8 242.8h1.4v1.4h-1.4zM146.9 242.3h1.4v1.4h-1.4zM152.0 243.0h1.4v1.4h-1.4zM149.6 240.4h1.4v1.4h-1.4zM149.3 237.8h1.4v1.4h-1.4zM133.4 242.5h1.4v1.4h-1.4zM145.6 242.0h1.4v1.4h-1.4zM149.6 233.6h1.4v1.4h-1.4zM160.4 236.0h1.4v1.4h-1.4zM148.3 233.7h1.4v1.4h-1.4zM135.7 237.0h1.4v1.4h-1.4zM143.1 242.7h1.4v1.4h-1.4zM137.5 245.5h1.4v1.4h-1.4zM149.9 235.3h1.4v1.4h-1.4zM146.8 233.3h1.4v1.4h-1.4zM161.4 234.3h1.4v1.4h-1.4zM149.2 235.0h1.4v1.4h-1.4zM150.3 241.2h1.4v1.4h-1.4zM152.3 243.7h1.4v1.4h-1.4zM152.2 244.4h1.4v1.4h-1.4zM146.7 238.4h1.4v1.4h-1.4zM146.5 237.0h1.4v1.4h-1.4zM158.5 226.8h1.4v1.4h-1.4zM158.9 239.4h1.4v1.4h-1.4zM150.2 244.0h1.4v1.4h-1.4zM144.4 232.6h1.4v1.4h-1.4zM150.3 226.3h1.4v1.4h-1.4zM135.7 238.0h1.4v1.4h-1.4zM148.2 241.5h1.4v1.4h-1.4zM146.5 240.0h1.4v1.4h-1.4zM149.6 238.1h1.4v1.4h-1.4zM142.4 244.1h1.4v1.4h-1.4zM145.8 240.4h1.4v1.4h-1.4zM154.6 240.5h1.4v1.4h-1.4zM155.1 235.8h1.4v1.4h-1.4zM153.2 234.3h1.4v1.4h-1.4zM153.3 230.0h1.4v1.4h-1.4zM150.5 240.1h1.4v1.4h-1.4zM146.3 243.7h1.4v1.4h-1.4zM148.2 236.1h1.4v1.4h-1.4zM146.7 238.5h1.4v1.4h-1.4zM152.6 230.2h1.4v1.4h-1.4zM144.0 242.1h1.4v1.4h-1.4zM157.3 241.6h1.4v1.4h-1.4zM144.7 241.7h1.4v1.4h-1.4zM156.8 242.7h1.4v1.4h-1.4zM158.8 243.0h1.4v1.4h-1.4zM149.8 236.2h1.4v1.4h-1.4zM150.0 237.8h1.4v1.4h-1.4zM148.1 246.2h1.4v1.4h-1.4zM147.6 240.2h1.4v1.4h-1.4zM152.9 235.3h1.4v1.4h-1.4zM158.8 244.0h1.4v1.4h-1.4zM140.2 244.7h1.4v1.4h-1.4zM149.8 238.0h1.4v1.4h-1.4zM146.0 240.8h1.4v1.4h-1.4zM146.9 237.5h1.4v1.4h-1.4zM155.2 240.5h1.4v1.4h-1.4zM145.5 241.4h1.4v1.4h-1.4zM149.0 243.8h1.4v1.4h-1.4zM148.3 231.5h1.4v1.4h-1.4zM145.9 244.0h1.4v1.4h-1.4zM142.1 242.0h1.4v1.4h-1.4zM144.4 243.2h1.4v1.4h-1.4zM155.4 240.3h1.4v1.4h-1.4zM141.4 239.2h1.4v1.4h-1.4zM155.4 233.2h1.4v1.4h-1.4zM158.0 230.3h1.4v1.4h-1.4zM138.9 236.7h1.4v1.4h-1.4zM146.8 240.7h1.4v1.4h-1.4zM145.4 231.6h1.4v1.4h-1.4zM135.1 243.7h1.4v1.4h-1.4zM156.5 236.8h1.4v1.4h-1.4zM151.3 241.4h1.4v1.4h-1.4zM148.6 236.2h1.4v1.4h-1.4zM146.6 238.8h1.4v1.4h-1.4zM149.8 235.6h1.4v1.4h-1.4zM153.1 237.2h1.4v1.4h-1.4zM144.8 234.3h1.4v1.4h-1.4zM150.2 237.5h1.4v1.4h-1.4zM146.9 242.8h1.4v1.4h-1.4zM153.2 235.5h1.4v1.4h-1.4zM144.9 238.6h1.4v1.4h-1.4zM150.6 242.0h1.4v1.4h-1.4zM148.3 244.9h1.4v1.4h-1.4zM157.1 240.6h1.4v1.4h-1.4zM141.6 242.8h1.4v1.4h-1.4zM160.6 233.8h1.4v1.4h-1.4zM154.1 239.3h1.4v1.4h-1.4zM151.8 234.9h1.4v1.4h-1.4zM162.5 240.2h1.4v1.4h-1.4zM134.6 234.9h1.4v1.4h-1.4zM154.5 235.5h1.4v1.4h-1.4zM153.6 235.8h1.4v1.4h-1.4zM154.1 239.3h1.4v1.4h-1.4zM149.6 232.7h1.4v1.4h-1.4zM144.1 242.1h1.4v1.4h-1.4zM149.8 246.5h1.4v1.4h-1.4zM157.8 231.7h1.4v1.4h-1.4zM149.9 239.2h1.4v1.4h-1.4zM154.9 226.8h1.4v1.4h-1.4zM149.2 247.8h1.4v1.4h-1.4zM138.8 233.8h1.4v1.4h-1.4zM148.4 242.1h1.4v1.4h-1.4zM152.6 241.0h1.4v1.4h-1.4zM145.4 241.5h1.4v1.4h-1.4zM154.9 240.3h1.4v1.4h-1.4zM158.0 237.3h1.4v1.4h-1.4zM148.7 239.6h1.4v1.4h-1.4zM145.0 243.4h1.4v1.4h-1.4zM156.3 226.2h1.4v1.4h-1.4zM166.3 239.0h1.4v1.4h-1.4zM143.4 239.3h1.4v1.4h-1.4zM152.8 240.6h1.4v1.4h-1.4zM132.2 246.6h1.4v1.4h-1.4zM156.2 237.3h1.4v1.4h-1.4zM155.5 234.2h1.4v1.4h-1.4zM152.1 234.7h1.4v1.4h-1.4zM165.2 231.3h1.4v1.4h-1.4zM143.7 234.5h1.4v1.4h-1.4zM147.2 244.7h1.4v1.4h-1.4zM149.6 242.5h1.4v1.4h-1.4zM157.1 240.0h1.4v1.4h-1.4zM149.7 242.1h1.4v1.4h-1.4zM133.6 236.4h1.4v1.4h-1.4zM143.6 239.1h1.4v1.4h-1.4zM151.7 233.0h1.4v1.4h-1.4zM148.1 241.4h1.4v1.4h-1.4zM154.7 239.4h1.4v1.4h-1.4zM143.5 243.1h1.4v1.4h-1.4zM149.0 233.8h1.4v1.4h-1.4zM139.0 238.0h1.4v1.4h-1.4zM156.5 240.6h1.4v1.4h-1.4zM150.7 242.4h1.4v1.4h-1.4zM168.6 236.7h1.4v1.4h-1.4zM151.9 247.1h1.4v1.4h-1.4zM143.7 237.8h1.4v1.4h-1.4zM155.8 247.4h1.4v1.4h-1.4zM154.1 239.3h1.4v1.4h-1.4zM147.3 232.8h1.4v1.4h-1.4zM153.5 235.8h1.4v1.4h-1.4zM145.0 242.2h1.4v1.4h-1.4zM153.9 236.8h1.4v1.4h-1.4zM156.5 235.3h1.4v1.4h-1.4zM155.2 237.7h1.4v1.4h-1.4zM140.9 236.1h1.4v1.4h-1.4zM144.3 238.6h1.4v1.4h-1.4zM135.3 239.8h1.4v1.4h-1.4zM142.6 243.6h1.4v1.4h-1.4zM140.6 241.0h1.4v1.4h-1.4zM155.4 237.7h1.4v1.4h-1.4zM161.1 234.8h1.4v1.4h-1.4zM149.2 241.4h1.4v1.4h-1.4zM144.4 242.2h1.4v1.4h-1.4zM142.0 241.6h1.4v1.4h-1.4zM145.8 245.0h1.4v1.4h-1.4zM150.3 240.0h1.4v1.4h-1.4zM146.0 235.5h1.4v1.4h-1.4zM148.7 240.0h1.4v1.4h-1.4zM135.6 242.1h1.4v1.4h-1.4zM145.6 241.1h1.4v1.4h-1.4zM144.7 245.3h1.4v1.4h-1.4zM153.9 236.0h1.4v1.4h-1.4zM149.7 234.1h1.4v1.4h-1.4zM149.1 239.8h1.4v1.4h-1.4zM158.5 240.6h1.4v1.4h-1.4zM149.4 242.8h1.4v1.4h-1.4zM163.6 233.8h1.4v1.4h-1.4zM149.6 237.9h1.4v1.4h-1.4zM158.4 233.7h1.4v1.4h-1.4zM157.5 241.1h1.4v1.4h-1.4zM147.9 244.1h1.4v1.4h-1.4zM150.1 237.2h1.4v1.4h-1.4zM148.0 242.2h1.4v1.4h-1.4zM152.0 236.5h1.4v1.4h-1.4zM148.9 228.6h1.4v1.4h-1.4zM155.5 236.1h1.4v1.4h-1.4zM146.5 235.7h1.4v1.4h-1.4zM169.2 231.2h1.4v1.4h-1.4zM140.6 240.9h1.4v1.4h-1.4zM136.1 237.8h1.4v1.4h-1.4zM147.7 235.0h1.4v1.4h-1.4zM153.1 240.7h1.4v1.4h-1.4zM159.2 230.0h1.4v1.4h-1.4zM152.0 233.2h1.4v1.4h-1.4zM146.2 235.0h1.4v1.4h-1.4zM153.7 240.1h1.4v1.4h-1.4zM145.2 244.4h1.4v1.4h-1.4zM148.6 229.3h1.4v1.4h-1.4zM160.6 239.0h1.4v1.4h-1.4zM137.9 241.3h1.4v1.4h-1.4zM149.7 233.5h1.4v1.4h-1.4zM154.6 237.6h1.4v1.4h-1.4zM145.5 235.5h1.4v1.4h-1.4zM144.4 241.0h1.4v1.4h-1.4zM151.0 245.1h1.4v1.4h-1.4zM149.3 230.0h1.4v1.4h-1.4zM158.0 246.0h1.4v1.4h-1.4zM156.0 235.6h1.4v1.4h-1.4zM149.2 236.9h1.4v1.4h-1.4zM159.4 239.8h1.4v1.4h-1.4zM145.8 237.3h1.4v1.4h-1.4zM145.9 236.8h1.4v1.4h-1.4zM152.6 230.2h1.4v1.4h-1.4zM149.3 232.4h1.4v1.4h-1.4zM146.4 234.7h1.4v1.4h-1.4zM145.6 241.3h1.4v1.4h-1.4zM151.5 229.9h1.4v1.4h-1.4zM148.0 243.5h1.4v1.4h-1.4zM145.9 233.2h1.4v1.4h-1.4zM150.8 242.5h1.4v1.4h-1.4zM161.0 238.1h1.4v1.4h-1.4zM148.5 240.1h1.4v1.4h-1.4zM153.5 235.7h1.4v1.4h-1.4zM148.8 232.0h1.4v1.4h-1.4zM148.3 232.0h1.4v1.4h-1.4zM157.6 238.0h1.4v1.4h-1.4zM158.0 239.9h1.4v1.4h-1.4zM148.3 241.2h1.4v1.4h-1.4zM154.4 234.2h1.4v1.4h-1.4zM152.5 242.5h1.4v1.4h-1.4zM153.9 242.8h1.4v1.4h-1.4zM147.1 241.4h1.4v1.4h-1.4zM148.7 242.3h1.4v1.4h-1.4zM143.9 236.9h1.4v1.4h-1.4zM144.4 237.1h1.4v1.4h-1.4zM149.7 243.1h1.4v1.4h-1.4zM151.1 240.8h1.4v1.4h-1.4zM148.4 240.7h1.4v1.4h-1.4zM155.0 242.2h1.4v1.4h-1.4zM145.8 245.7h1.4v1.4h-1.4zM148.3 240.4h1.4v1.4h-1.4zM142.8 245.4h1.4v1.4h-1.4zM164.1 236.7h1.4v1.4h-1.4zM141.2 242.5h1.4v1.4h-1.4zM144.3 244.8h1.4v1.4h-1.4zM142.9 242.6h1.4v1.4h-1.4zM145.0 240.8h1.4v1.4h-1.4zM140.0 240.3h1.4v1.4h-1.4zM140.6 241.4h1.4v1.4h-1.4zM154.4 238.2h1.4v1.4h-1.4zM141.7 243.5h1.4v1.4h-1.4zM145.8 242.1h1.4v1.4h-1.4zM154.9 244.9h1.4v1.4h-1.4zM144.0 242.1h1.4v1.4h-1.4zM147.8 233.5h1.4v1.4h-1.4zM162.5 240.2h1.4v1.4h-1.4zM159.9 240.8h1.4v1.4h-1.4zM147.8 236.7h1.4v1.4h-1.4zM152.4 237.7h1.4v1.4h-1.4zM143.0 240.2h1.4v1.4h-1.4zM150.2 235.5h1.4v1.4h-1.4zM145.3 242.9h1.4v1.4h-1.4zM151.5 241.7h1.4v1.4h-1.4zM156.4 244.4h1.4v1.4h-1.4zM138.5 238.5h1.4v1.4h-1.4zM156.2 227.3h1.4v1.4h-1.4zM152.1 234.7h1.4v1.4h-1.4zM149.2 239.9h1.4v1.4h-1.4zM146.1 234.1h1.4v1.4h-1.4zM150.9 229.7h1.4v1.4h-1.4zM144.0 247.3h1.4v1.4h-1.4zM151.2 240.2h1.4v1.4h-1.4zM147.6 238.9h1.4v1.4h-1.4zM151.7 241.2h1.4v1.4h-1.4zM152.1 243.0h1.4v1.4h-1.4zM146.7 248.2h1.4v1.4h-1.4zM147.1 234.5h1.4v1.4h-1.4zM151.2 234.2h1.4v1.4h-1.4zM152.3 238.7h1.4v1.4h-1.4zM148.0 241.0h1.4v1.4h-1.4zM152.9 240.2h1.4v1.4h-1.4zM152.4 239.2h1.4v1.4h-1.4zM142.5 243.4h1.4v1.4h-1.4zM144.3 240.0h1.4v1.4h-1.4zM157.6 240.4h1.4v1.4h-1.4zM153.5 236.6h1.4v1.4h-1.4zM153.4 241.9h1.4v1.4h-1.4zM141.5 234.5h1.4v1.4h-1.4zM156.7 236.5h1.4v1.4h-1.4zM146.1 236.7h1.4v1.4h-1.4zM152.0 238.2h1.4v1.4h-1.4zM147.3 244.2h1.4v1.4h-1.4zM149.6 243.4h1.4v1.4h-1.4zM149.5 239.3h1.4v1.4h-1.4zM115.8 250.2h1.4v1.4h-1.4zM113.2 249.2h1.4v1.4h-1.4zM118.7 255.3h1.4v1.4h-1.4zM108.7 252.9h1.4v1.4h-1.4zM105.8 251.5h1.4v1.4h-1.4zM114.1 253.8h1.4v1.4h-1.4zM109.4 252.6h1.4v1.4h-1.4zM113.8 248.1h1.4v1.4h-1.4zM113.2 247.7h1.4v1.4h-1.4zM107.3 246.9h1.4v1.4h-1.4zM105.3 253.9h1.4v1.4h-1.4zM111.1 248.6h1.4v1.4h-1.4zM106.0 255.2h1.4v1.4h-1.4zM110.8 241.6h1.4v1.4h-1.4zM109.4 249.3h1.4v1.4h-1.4zM119.3 252.2h1.4v1.4h-1.4zM114.4 248.4h1.4v1.4h-1.4zM114.8 250.3h1.4v1.4h-1.4zM122.3 250.7h1.4v1.4h-1.4zM116.7 252.6h1.4v1.4h-1.4zM112.6 252.8h1.4v1.4h-1.4zM119.3 252.1h1.4v1.4h-1.4zM107.7 253.1h1.4v1.4h-1.4zM112.7 245.3h1.4v1.4h-1.4zM117.3 250.4h1.4v1.4h-1.4zM129.4 247.5h1.4v1.4h-1.4zM112.5 251.4h1.4v1.4h-1.4zM117.1 245.7h1.4v1.4h-1.4zM118.4 248.2h1.4v1.4h-1.4zM113.0 248.7h1.4v1.4h-1.4zM113.4 257.1h1.4v1.4h-1.4zM118.2 246.2h1.4v1.4h-1.4zM115.4 245.4h1.4v1.4h-1.4zM100.3 248.9h1.4v1.4h-1.4zM115.9 248.4h1.4v1.4h-1.4zM106.4 254.7h1.4v1.4h-1.4zM105.5 252.9h1.4v1.4h-1.4zM106.3 245.9h1.4v1.4h-1.4zM113.1 250.1h1.4v1.4h-1.4zM111.1 251.6h1.4v1.4h-1.4zM118.9 243.0h1.4v1.4h-1.4zM121.3 249.3h1.4v1.4h-1.4zM100.6 256.8h1.4v1.4h-1.4zM112.7 251.5h1.4v1.4h-1.4zM113.6 253.6h1.4v1.4h-1.4zM117.9 251.2h1.4v1.4h-1.4zM119.2 250.8h1.4v1.4h-1.4zM111.7 250.5h1.4v1.4h-1.4zM111.9 250.4h1.4v1.4h-1.4zM118.1 252.0h1.4v1.4h-1.4zM112.8 251.0h1.4v1.4h-1.4zM120.0 248.9h1.4v1.4h-1.4zM113.1 248.1h1.4v1.4h-1.4zM117.5 244.4h1.4v1.4h-1.4zM108.1 252.3h1.4v1.4h-1.4zM117.8 252.7h1.4v1.4h-1.4zM113.5 251.5h1.4v1.4h-1.4zM115.4 245.4h1.4v1.4h-1.4zM114.0 252.3h1.4v1.4h-1.4zM103.1 249.5h1.4v1.4h-1.4zM106.9 246.7h1.4v1.4h-1.4zM124.9 244.5h1.4v1.4h-1.4zM115.2 251.1h1.4v1.4h-1.4zM111.4 245.3h1.4v1.4h-1.4zM115.1 252.0h1.4v1.4h-1.4zM112.9 251.3h1.4v1.4h-1.4zM112.4 246.3h1.4v1.4h-1.4zM110.0 253.5h1.4v1.4h-1.4zM119.2 244.9h1.4v1.4h-1.4zM107.9 247.5h1.4v1.4h-1.4zM114.6 253.5h1.4v1.4h-1.4zM121.5 247.4h1.4v1.4h-1.4zM111.7 251.6h1.4v1.4h-1.4zM119.2 252.5h1.4v1.4h-1.4zM114.5 247.2h1.4v1.4h-1.4zM115.0 255.1h1.4v1.4h-1.4zM116.3 252.0h1.4v1.4h-1.4zM114.8 250.2h1.4v1.4h-1.4zM113.1 250.7h1.4v1.4h-1.4zM123.7 248.3h1.4v1.4h-1.4zM120.2 242.3h1.4v1.4h-1.4zM112.0 245.2h1.4v1.4h-1.4zM111.5 245.1h1.4v1.4h-1.4zM116.8 241.5h1.4v1.4h-1.4zM105.5 253.6h1.4v1.4h-1.4zM108.3 247.8h1.4v1.4h-1.4zM112.8 242.3h1.4v1.4h-1.4zM117.3 247.6h1.4v1.4h-1.4zM120.6 243.1h1.4v1.4h-1.4zM116.7 244.5h1.4v1.4h-1.4zM115.2 245.1h1.4v1.4h-1.4zM115.4 250.0h1.4v1.4h-1.4zM115.6 254.6h1.4v1.4h-1.4zM114.7 251.5h1.4v1.4h-1.4zM116.4 249.1h1.4v1.4h-1.4zM113.6 254.3h1.4v1.4h-1.4zM111.8 247.6h1.4v1.4h-1.4zM111.2 253.9h1.4v1.4h-1.4zM120.0 246.6h1.4v1.4h-1.4zM113.6 248.6h1.4v1.4h-1.4zM111.2 248.7h1.4v1.4h-1.4zM112.1 252.4h1.4v1.4h-1.4zM113.1 250.9h1.4v1.4h-1.4zM116.7 248.7h1.4v1.4h-1.4zM113.9 257.4h1.4v1.4h-1.4zM115.1 243.4h1.4v1.4h-1.4zM111.6 249.1h1.4v1.4h-1.4zM119.6 250.3h1.4v1.4h-1.4zM116.9 247.8h1.4v1.4h-1.4zM111.8 247.4h1.4v1.4h-1.4zM122.1 246.7h1.4v1.4h-1.4zM113.4 249.2h1.4v1.4h-1.4zM117.9 253.2h1.4v1.4h-1.4zM120.9 249.6h1.4v1.4h-1.4zM121.6 248.8h1.4v1.4h-1.4zM118.4 245.6h1.4v1.4h-1.4zM117.2 248.8h1.4v1.4h-1.4zM117.2 249.5h1.4v1.4h-1.4zM111.5 249.4h1.4v1.4h-1.4zM105.4 249.7h1.4v1.4h-1.4zM117.2 249.6h1.4v1.4h-1.4zM114.5 246.4h1.4v1.4h-1.4zM111.1 253.7h1.4v1.4h-1.4zM113.7 252.1h1.4v1.4h-1.4zM113.4 254.9h1.4v1.4h-1.4zM115.1 247.3h1.4v1.4h-1.4zM109.3 245.2h1.4v1.4h-1.4zM115.2 252.7h1.4v1.4h-1.4zM110.6 253.5h1.4v1.4h-1.4zM115.3 251.4h1.4v1.4h-1.4zM112.1 247.8h1.4v1.4h-1.4zM112.8 250.7h1.4v1.4h-1.4zM107.5 245.2h1.4v1.4h-1.4zM117.8 244.6h1.4v1.4h-1.4zM116.5 244.8h1.4v1.4h-1.4zM116.2 251.1h1.4v1.4h-1.4zM118.1 250.8h1.4v1.4h-1.4zM105.9 253.6h1.4v1.4h-1.4zM121.9 251.3h1.4v1.4h-1.4zM111.4 251.4h1.4v1.4h-1.4zM115.0 251.5h1.4v1.4h-1.4zM122.5 247.0h1.4v1.4h-1.4zM115.4 250.5h1.4v1.4h-1.4zM117.4 251.2h1.4v1.4h-1.4zM112.8 253.3h1.4v1.4h-1.4zM115.1 248.1h1.4v1.4h-1.4zM115.2 250.1h1.4v1.4h-1.4zM110.3 251.1h1.4v1.4h-1.4zM110.2 250.8h1.4v1.4h-1.4zM106.7 253.8h1.4v1.4h-1.4zM105.0 250.2h1.4v1.4h-1.4zM106.0 244.0h1.4v1.4h-1.4zM118.1 249.2h1.4v1.4h-1.4zM104.6 249.6h1.4v1.4h-1.4zM108.1 249.7h1.4v1.4h-1.4zM112.7 251.4h1.4v1.4h-1.4zM113.7 248.2h1.4v1.4h-1.4zM106.1 253.2h1.4v1.4h-1.4zM110.5 250.4h1.4v1.4h-1.4zM109.2 249.0h1.4v1.4h-1.4zM126.8 253.8h1.4v1.4h-1.4zM106.3 253.8h1.4v1.4h-1.4zM116.2 252.3h1.4v1.4h-1.4zM114.5 254.3h1.4v1.4h-1.4zM111.4 252.1h1.4v1.4h-1.4zM114.2 243.0h1.4v1.4h-1.4zM111.3 249.0h1.4v1.4h-1.4zM117.0 243.2h1.4v1.4h-1.4zM112.2 251.5h1.4v1.4h-1.4zM114.6 250.3h1.4v1.4h-1.4zM107.1 247.7h1.4v1.4h-1.4zM122.4 252.6h1.4v1.4h-1.4zM114.3 251.2h1.4v1.4h-1.4zM122.7 241.9h1.4v1.4h-1.4zM112.3 250.3h1.4v1.4h-1.4zM115.2 254.1h1.4v1.4h-1.4zM113.2 248.0h1.4v1.4h-1.4zM111.6 245.3h1.4v1.4h-1.4zM114.0 247.9h1.4v1.4h-1.4zM110.0 252.5h1.4v1.4h-1.4zM114.9 248.0h1.4v1.4h-1.4zM108.1 246.6h1.4v1.4h-1.4zM110.7 250.5h1.4v1.4h-1.4zM108.8 251.7h1.4v1.4h-1.4zM105.2 256.9h1.4v1.4h-1.4zM114.4 247.9h1.4v1.4h-1.4zM113.9 251.9h1.4v1.4h-1.4zM108.9 253.3h1.4v1.4h-1.4zM115.5 247.9h1.4v1.4h-1.4zM106.4 253.4h1.4v1.4h-1.4zM111.8 241.8h1.4v1.4h-1.4zM112.0 245.5h1.4v1.4h-1.4zM121.4 246.6h1.4v1.4h-1.4zM111.0 247.8h1.4v1.4h-1.4zM120.1 253.3h1.4v1.4h-1.4zM104.5 255.2h1.4v1.4h-1.4zM115.8 251.0h1.4v1.4h-1.4zM110.1 252.1h1.4v1.4h-1.4zM118.2 248.3h1.4v1.4h-1.4zM119.0 247.4h1.4v1.4h-1.4zM105.6 243.7h1.4v1.4h-1.4zM113.0 250.2h1.4v1.4h-1.4zM106.1 253.9h1.4v1.4h-1.4zM118.6 244.0h1.4v1.4h-1.4zM111.4 250.1h1.4v1.4h-1.4zM106.5 248.7h1.4v1.4h-1.4zM122.6 250.4h1.4v1.4h-1.4zM109.7 249.0h1.4v1.4h-1.4zM112.3 250.7h1.4v1.4h-1.4zM114.6 250.2h1.4v1.4h-1.4zM110.5 252.7h1.4v1.4h-1.4zM119.5 242.2h1.4v1.4h-1.4zM119.9 248.1h1.4v1.4h-1.4zM112.7 252.6h1.4v1.4h-1.4zM118.0 243.3h1.4v1.4h-1.4zM112.7 247.9h1.4v1.4h-1.4zM117.1 248.0h1.4v1.4h-1.4zM110.8 251.0h1.4v1.4h-1.4zM112.5 256.0h1.4v1.4h-1.4zM114.5 251.3h1.4v1.4h-1.4zM115.3 252.3h1.4v1.4h-1.4zM112.4 251.9h1.4v1.4h-1.4zM111.6 251.3h1.4v1.4h-1.4zM114.4 249.7h1.4v1.4h-1.4zM119.0 247.5h1.4v1.4h-1.4zM111.1 252.0h1.4v1.4h-1.4zM110.3 251.8h1.4v1.4h-1.4zM115.7 250.8h1.4v1.4h-1.4zM112.6 248.6h1.4v1.4h-1.4zM114.9 245.2h1.4v1.4h-1.4zM105.9 251.6h1.4v1.4h-1.4zM110.9 251.2h1.4v1.4h-1.4zM112.8 252.5h1.4v1.4h-1.4zM116.4 248.2h1.4v1.4h-1.4zM104.4 250.7h1.4v1.4h-1.4zM113.4 247.2h1.4v1.4h-1.4zM113.4 244.6h1.4v1.4h-1.4zM108.8 250.2h1.4v1.4h-1.4zM119.9 241.7h1.4v1.4h-1.4zM114.4 250.7h1.4v1.4h-1.4zM118.9 246.6h1.4v1.4h-1.4zM117.3 248.5h1.4v1.4h-1.4zM113.9 251.6h1.4v1.4h-1.4zM125.6 247.7h1.4v1.4h-1.4zM104.8 251.1h1.4v1.4h-1.4zM118.0 250.6h1.4v1.4h-1.4zM102.5 251.7h1.4v1.4h-1.4zM115.8 247.7h1.4v1.4h-1.4zM119.0 246.3h1.4v1.4h-1.4zM115.0 245.6h1.4v1.4h-1.4zM111.3 246.5h1.4v1.4h-1.4zM116.1 241.7h1.4v1.4h-1.4zM108.1 246.7h1.4v1.4h-1.4zM116.5 251.0h1.4v1.4h-1.4zM112.2 243.0h1.4v1.4h-1.4zM116.4 249.5h1.4v1.4h-1.4zM107.4 253.8h1.4v1.4h-1.4zM119.2 246.3h1.4v1.4h-1.4zM110.7 251.6h1.4v1.4h-1.4zM115.9 254.2h1.4v1.4h-1.4zM113.2 253.3h1.4v1.4h-1.4zM111.4 244.6h1.4v1.4h-1.4zM116.6 250.2h1.4v1.4h-1.4zM116.8 250.4h1.4v1.4h-1.4zM110.0 241.9h1.4v1.4h-1.4zM117.3 251.3h1.4v1.4h-1.4zM111.8 245.2h1.4v1.4h-1.4zM115.3 246.8h1.4v1.4h-1.4zM110.0 253.4h1.4v1.4h-1.4zM112.3 254.5h1.4v1.4h-1.4zM105.3 243.4h1.4v1.4h-1.4zM115.2 249.4h1.4v1.4h-1.4zM115.2 245.8h1.4v1.4h-1.4zM111.6 247.5h1.4v1.4h-1.4zM119.0 250.4h1.4v1.4h-1.4zM108.5 243.5h1.4v1.4h-1.4zM121.0 245.4h1.4v1.4h-1.4zM114.8 253.7h1.4v1.4h-1.4zM116.8 246.9h1.4v1.4h-1.4zM112.2 247.0h1.4v1.4h-1.4zM122.3 248.7h1.4v1.4h-1.4zM115.0 250.6h1.4v1.4h-1.4zM118.3 250.0h1.4v1.4h-1.4zM116.7 246.0h1.4v1.4h-1.4zM109.3 251.2h1.4v1.4h-1.4zM118.9 247.6h1.4v1.4h-1.4zM125.4 248.6h1.4v1.4h-1.4zM105.7 253.5h1.4v1.4h-1.4zM117.2 250.0h1.4v1.4h-1.4zM112.2 243.9h1.4v1.4h-1.4zM120.8 246.6h1.4v1.4h-1.4zM114.6 248.4h1.4v1.4h-1.4zM114.7 250.8h1.4v1.4h-1.4zM112.6 251.6h1.4v1.4h-1.4zM115.4 250.6h1.4v1.4h-1.4zM105.1 253.2h1.4v1.4h-1.4zM112.6 249.0h1.4v1.4h-1.4zM115.6 246.5h1.4v1.4h-1.4zM108.7 246.2h1.4v1.4h-1.4zM115.0 243.9h1.4v1.4h-1.4zM122.4 250.8h1.4v1.4h-1.4zM115.0 244.1h1.4v1.4h-1.4zM115.1 247.4h1.4v1.4h-1.4zM114.7 245.2h1.4v1.4h-1.4zM119.2 249.3h1.4v1.4h-1.4zM116.3 244.8h1.4v1.4h-1.4zM107.7 250.4h1.4v1.4h-1.4zM123.1 253.2h1.4v1.4h-1.4zM117.1 241.2h1.4v1.4h-1.4zM115.7 248.1h1.4v1.4h-1.4zM116.1 250.5h1.4v1.4h-1.4zM110.1 247.6h1.4v1.4h-1.4zM118.5 247.4h1.4v1.4h-1.4zM110.2 252.1h1.4v1.4h-1.4zM117.7 249.1h1.4v1.4h-1.4zM117.0 253.1h1.4v1.4h-1.4zM111.5 251.4h1.4v1.4h-1.4zM120.5 248.7h1.4v1.4h-1.4zM108.6 251.8h1.4v1.4h-1.4zM109.1 248.9h1.4v1.4h-1.4zM117.4 250.6h1.4v1.4h-1.4zM117.4 255.5h1.4v1.4h-1.4zM113.3 250.2h1.4v1.4h-1.4zM113.2 250.3h1.4v1.4h-1.4zM108.5 251.2h1.4v1.4h-1.4zM118.2 249.9h1.4v1.4h-1.4zM119.7 250.9h1.4v1.4h-1.4zM106.6 252.4h1.4v1.4h-1.4zM107.0 251.4h1.4v1.4h-1.4zM109.1 243.8h1.4v1.4h-1.4zM113.9 242.6h1.4v1.4h-1.4zM103.0 252.8h1.4v1.4h-1.4zM117.4 247.2h1.4v1.4h-1.4zM115.2 251.2h1.4v1.4h-1.4zM115.3 249.6h1.4v1.4h-1.4zM115.5 252.3h1.4v1.4h-1.4zM118.9 246.9h1.4v1.4h-1.4zM113.8 252.9h1.4v1.4h-1.4zM106.8 248.1h1.4v1.4h-1.4zM110.0 249.1h1.4v1.4h-1.4zM116.9 249.1h1.4v1.4h-1.4zM123.5 248.8h1.4v1.4h-1.4zM118.7 247.4h1.4v1.4h-1.4zM109.0 246.5h1.4v1.4h-1.4zM117.0 247.2h1.4v1.4h-1.4zM111.7 254.0h1.4v1.4h-1.4zM110.8 248.1h1.4v1.4h-1.4zM110.8 247.2h1.4v1.4h-1.4zM119.1 244.4h1.4v1.4h-1.4zM119.5 249.1h1.4v1.4h-1.4zM116.2 249.5h1.4v1.4h-1.4zM111.4 250.0h1.4v1.4h-1.4zM108.3 252.8h1.4v1.4h-1.4zM116.8 251.3h1.4v1.4h-1.4zM116.3 252.4h1.4v1.4h-1.4zM114.5 251.3h1.4v1.4h-1.4zM106.7 252.1h1.4v1.4h-1.4zM114.9 251.1h1.4v1.4h-1.4zM108.3 254.4h1.4v1.4h-1.4zM110.4 254.3h1.4v1.4h-1.4zM126.2 244.8h1.4v1.4h-1.4zM112.8 252.2h1.4v1.4h-1.4zM114.7 242.9h1.4v1.4h-1.4zM112.0 246.4h1.4v1.4h-1.4zM116.7 248.4h1.4v1.4h-1.4zM118.5 238.5h1.4v1.4h-1.4zM107.7 253.6h1.4v1.4h-1.4zM119.7 250.0h1.4v1.4h-1.4zM104.3 249.9h1.4v1.4h-1.4zM113.1 247.4h1.4v1.4h-1.4zM103.5 252.6h1.4v1.4h-1.4zM108.9 251.7h1.4v1.4h-1.4zM115.1 246.1h1.4v1.4h-1.4zM114.8 246.5h1.4v1.4h-1.4zM119.4 249.9h1.4v1.4h-1.4zM119.9 249.4h1.4v1.4h-1.4zM117.5 246.2h1.4v1.4h-1.4zM108.2 245.9h1.4v1.4h-1.4zM115.3 249.2h1.4v1.4h-1.4zM109.5 253.0h1.4v1.4h-1.4zM110.3 254.1h1.4v1.4h-1.4zM110.4 250.2h1.4v1.4h-1.4zM113.6 250.0h1.4v1.4h-1.4zM116.4 238.1h1.4v1.4h-1.4zM112.9 253.0h1.4v1.4h-1.4zM113.1 252.8h1.4v1.4h-1.4zM118.2 245.4h1.4v1.4h-1.4zM114.6 251.3h1.4v1.4h-1.4zM112.0 248.8h1.4v1.4h-1.4zM120.5 250.2h1.4v1.4h-1.4zM106.6 253.2h1.4v1.4h-1.4zM109.2 246.5h1.4v1.4h-1.4zM114.0 244.0h1.4v1.4h-1.4zM118.4 245.5h1.4v1.4h-1.4zM112.8 248.5h1.4v1.4h-1.4zM117.6 255.9h1.4v1.4h-1.4zM117.8 250.6h1.4v1.4h-1.4zM109.8 249.2h1.4v1.4h-1.4zM112.5 251.1h1.4v1.4h-1.4zM117.7 246.1h1.4v1.4h-1.4zM160.9 237.9h1.4v1.4h-1.4zM178.4 231.6h1.4v1.4h-1.4zM169.9 231.0h1.4v1.4h-1.4zM201.2 216.1h1.4v1.4h-1.4zM193.9 229.7h1.4v1.4h-1.4zM170.1 229.5h1.4v1.4h-1.4zM169.8 224.3h1.4v1.4h-1.4zM170.9 233.7h1.4v1.4h-1.4zM170.3 228.0h1.4v1.4h-1.4zM158.8 233.7h1.4v1.4h-1.4zM177.7 224.9h1.4v1.4h-1.4zM179.0 230.2h1.4v1.4h-1.4zM174.2 225.8h1.4v1.4h-1.4zM201.1 223.0h1.4v1.4h-1.4zM165.1 229.9h1.4v1.4h-1.4zM166.9 232.2h1.4v1.4h-1.4zM177.1 224.1h1.4v1.4h-1.4zM169.3 225.0h1.4v1.4h-1.4zM185.7 224.8h1.4v1.4h-1.4zM194.0 215.0h1.4v1.4h-1.4zM188.1 223.4h1.4v1.4h-1.4zM177.5 222.3h1.4v1.4h-1.4zM149.8 239.3h1.4v1.4h-1.4zM166.8 231.8h1.4v1.4h-1.4zM170.8 231.3h1.4v1.4h-1.4zM162.9 211.9h1.4v1.4h-1.4zM171.5 225.9h1.4v1.4h-1.4zM149.1 242.1h1.4v1.4h-1.4zM164.0 236.2h1.4v1.4h-1.4zM163.5 222.4h1.4v1.4h-1.4zM188.6 224.0h1.4v1.4h-1.4zM149.1 236.2h1.4v1.4h-1.4zM182.5 221.6h1.4v1.4h-1.4zM153.0 236.9h1.4v1.4h-1.4zM161.8 236.5h1.4v1.4h-1.4zM161.7 233.9h1.4v1.4h-1.4zM192.9 226.7h1.4v1.4h-1.4zM154.8 237.7h1.4v1.4h-1.4zM164.1 236.2h1.4v1.4h-1.4zM163.0 231.8h1.4v1.4h-1.4zM160.2 231.2h1.4v1.4h-1.4zM193.4 216.3h1.4v1.4h-1.4zM145.0 240.1h1.4v1.4h-1.4zM162.4 227.1h1.4v1.4h-1.4zM163.4 224.3h1.4v1.4h-1.4zM157.0 231.1h1.4v1.4h-1.4zM154.0 237.2h1.4v1.4h-1.4zM160.2 225.2h1.4v1.4h-1.4zM172.1 220.8h1.4v1.4h-1.4zM155.6 239.1h1.4v1.4h-1.4zM181.2 225.8h1.4v1.4h-1.4zM142.5 229.7h1.4v1.4h-1.4zM159.0 229.4h1.4v1.4h-1.4zM189.7 227.9h1.4v1.4h-1.4zM146.4 236.0h1.4v1.4h-1.4zM175.2 228.4h1.4v1.4h-1.4zM160.1 235.2h1.4v1.4h-1.4zM185.3 224.7h1.4v1.4h-1.4zM161.9 234.9h1.4v1.4h-1.4zM189.3 210.1h1.4v1.4h-1.4zM162.9 230.5h1.4v1.4h-1.4zM172.3 227.6h1.4v1.4h-1.4zM130.2 247.7h1.4v1.4h-1.4zM166.2 231.3h1.4v1.4h-1.4zM172.2 236.1h1.4v1.4h-1.4zM176.2 224.2h1.4v1.4h-1.4zM156.0 220.9h1.4v1.4h-1.4zM161.6 235.3h1.4v1.4h-1.4zM178.0 229.0h1.4v1.4h-1.4zM168.5 230.1h1.4v1.4h-1.4zM159.7 233.8h1.4v1.4h-1.4zM175.8 233.2h1.4v1.4h-1.4zM177.4 229.5h1.4v1.4h-1.4zM174.1 230.5h1.4v1.4h-1.4zM155.9 243.2h1.4v1.4h-1.4zM150.5 240.7h1.4v1.4h-1.4zM193.4 225.1h1.4v1.4h-1.4zM170.9 226.3h1.4v1.4h-1.4zM181.8 225.1h1.4v1.4h-1.4zM158.9 234.8h1.4v1.4h-1.4zM161.0 229.4h1.4v1.4h-1.4zM178.6 223.7h1.4v1.4h-1.4zM202.4 215.1h1.4v1.4h-1.4zM163.2 234.4h1.4v1.4h-1.4zM191.5 229.7h1.4v1.4h-1.4zM172.5 231.3h1.4v1.4h-1.4zM162.3 231.4h1.4v1.4h-1.4zM175.2 230.6h1.4v1.4h-1.4zM144.8 239.9h1.4v1.4h-1.4zM166.5 233.1h1.4v1.4h-1.4zM170.2 227.9h1.4v1.4h-1.4zM154.2 222.6h1.4v1.4h-1.4zM163.1 225.2h1.4v1.4h-1.4zM158.1 228.4h1.4v1.4h-1.4zM153.5 233.0h1.4v1.4h-1.4zM190.7 222.0h1.4v1.4h-1.4zM166.5 232.7h1.4v1.4h-1.4zM144.0 239.7h1.4v1.4h-1.4zM190.0 225.8h1.4v1.4h-1.4zM183.6 226.6h1.4v1.4h-1.4zM185.7 214.4h1.4v1.4h-1.4zM168.1 220.8h1.4v1.4h-1.4zM133.6 237.9h1.4v1.4h-1.4zM131.9 248.2h1.4v1.4h-1.4zM171.4 233.8h1.4v1.4h-1.4zM179.1 220.9h1.4v1.4h-1.4zM177.6 215.3h1.4v1.4h-1.4zM175.4 232.1h1.4v1.4h-1.4zM164.8 233.5h1.4v1.4h-1.4zM191.8 218.0h1.4v1.4h-1.4zM151.4 237.1h1.4v1.4h-1.4zM150.1 233.8h1.4v1.4h-1.4zM187.5 225.7h1.4v1.4h-1.4zM177.1 226.9h1.4v1.4h-1.4zM162.2 234.7h1.4v1.4h-1.4zM160.5 234.7h1.4v1.4h-1.4zM187.1 220.2h1.4v1.4h-1.4zM153.7 234.5h1.4v1.4h-1.4zM179.6 218.5h1.4v1.4h-1.4zM179.5 228.7h1.4v1.4h-1.4zM166.9 230.3h1.4v1.4h-1.4zM193.4 224.2h1.4v1.4h-1.4zM145.6 237.3h1.4v1.4h-1.4zM172.9 226.6h1.4v1.4h-1.4zM160.5 234.5h1.4v1.4h-1.4zM170.4 229.6h1.4v1.4h-1.4zM140.4 242.8h1.4v1.4h-1.4zM170.2 236.4h1.4v1.4h-1.4zM164.4 234.8h1.4v1.4h-1.4zM183.3 230.8h1.4v1.4h-1.4zM174.4 226.9h1.4v1.4h-1.4zM186.6 221.2h1.4v1.4h-1.4zM143.0 244.3h1.4v1.4h-1.4zM186.2 224.0h1.4v1.4h-1.4zM160.8 211.7h1.4v1.4h-1.4zM158.0 233.8h1.4v1.4h-1.4zM126.2 239.1h1.4v1.4h-1.4zM169.5 235.6h1.4v1.4h-1.4zM180.2 231.0h1.4v1.4h-1.4zM174.1 229.4h1.4v1.4h-1.4zM166.7 220.6h1.4v1.4h-1.4zM147.2 244.1h1.4v1.4h-1.4zM171.2 233.2h1.4v1.4h-1.4zM161.8 221.2h1.4v1.4h-1.4zM160.9 237.3h1.4v1.4h-1.4zM151.8 238.1h1.4v1.4h-1.4zM179.4 217.2h1.4v1.4h-1.4zM175.8 225.6h1.4v1.4h-1.4zM172.3 221.2h1.4v1.4h-1.4zM159.3 235.2h1.4v1.4h-1.4zM161.7 227.4h1.4v1.4h-1.4zM155.2 226.6h1.4v1.4h-1.4zM184.4 224.0h1.4v1.4h-1.4zM148.3 228.2h1.4v1.4h-1.4zM172.0 229.6h1.4v1.4h-1.4zM177.3 232.7h1.4v1.4h-1.4zM158.8 238.4h1.4v1.4h-1.4zM159.1 236.1h1.4v1.4h-1.4zM157.0 238.6h1.4v1.4h-1.4zM167.0 232.6h1.4v1.4h-1.4zM189.6 213.6h1.4v1.4h-1.4zM191.0 222.3h1.4v1.4h-1.4zM150.4 236.0h1.4v1.4h-1.4zM183.0 226.3h1.4v1.4h-1.4zM153.1 234.8h1.4v1.4h-1.4zM186.0 226.5h1.4v1.4h-1.4zM160.5 233.0h1.4v1.4h-1.4zM178.2 231.6h1.4v1.4h-1.4zM181.8 213.6h1.4v1.4h-1.4zM163.3 232.5h1.4v1.4h-1.4zM157.1 236.8h1.4v1.4h-1.4zM165.7 228.4h1.4v1.4h-1.4zM152.9 235.7h1.4v1.4h-1.4zM159.6 234.1h1.4v1.4h-1.4zM147.4 235.1h1.4v1.4h-1.4zM165.7 225.8h1.4v1.4h-1.4zM159.0 235.5h1.4v1.4h-1.4zM146.0 230.2h1.4v1.4h-1.4zM175.2 217.5h1.4v1.4h-1.4zM166.6 226.2h1.4v1.4h-1.4zM163.3 225.4h1.4v1.4h-1.4zM174.9 228.7h1.4v1.4h-1.4zM176.8 233.2h1.4v1.4h-1.4zM192.2 230.2h1.4v1.4h-1.4zM171.2 221.8h1.4v1.4h-1.4zM166.6 228.6h1.4v1.4h-1.4zM166.5 229.7h1.4v1.4h-1.4zM161.6 226.4h1.4v1.4h-1.4zM151.2 238.5h1.4v1.4h-1.4zM179.4 230.0h1.4v1.4h-1.4zM158.9 234.4h1.4v1.4h-1.4zM165.1 237.3h1.4v1.4h-1.4zM154.1 219.8h1.4v1.4h-1.4zM176.9 231.8h1.4v1.4h-1.4zM187.1 226.1h1.4v1.4h-1.4zM179.1 219.5h1.4v1.4h-1.4zM190.0 225.2h1.4v1.4h-1.4zM170.5 230.3h1.4v1.4h-1.4zM166.5 238.4h1.4v1.4h-1.4zM170.8 230.8h1.4v1.4h-1.4zM162.8 229.2h1.4v1.4h-1.4zM184.7 227.7h1.4v1.4h-1.4zM164.2 233.8h1.4v1.4h-1.4zM179.1 227.1h1.4v1.4h-1.4zM133.7 223.4h1.4v1.4h-1.4zM181.6 219.7h1.4v1.4h-1.4zM155.0 232.6h1.4v1.4h-1.4zM183.3 222.3h1.4v1.4h-1.4zM190.2 225.7h1.4v1.4h-1.4zM154.8 238.7h1.4v1.4h-1.4zM173.6 230.4h1.4v1.4h-1.4zM174.0 227.0h1.4v1.4h-1.4zM189.5 219.5h1.4v1.4h-1.4zM160.4 224.4h1.4v1.4h-1.4zM171.4 232.0h1.4v1.4h-1.4zM141.4 232.9h1.4v1.4h-1.4zM167.2 236.4h1.4v1.4h-1.4zM169.3 230.0h1.4v1.4h-1.4zM153.0 233.1h1.4v1.4h-1.4zM170.4 226.1h1.4v1.4h-1.4zM153.0 232.2h1.4v1.4h-1.4zM145.6 240.2h1.4v1.4h-1.4zM163.3 232.8h1.4v1.4h-1.4zM174.2 231.7h1.4v1.4h-1.4zM179.3 228.0h1.4v1.4h-1.4zM179.4 224.2h1.4v1.4h-1.4zM138.2 238.0h1.4v1.4h-1.4zM157.1 229.7h1.4v1.4h-1.4zM160.8 234.2h1.4v1.4h-1.4zM169.8 231.4h1.4v1.4h-1.4zM154.2 239.5h1.4v1.4h-1.4zM157.8 229.3h1.4v1.4h-1.4zM181.6 224.5h1.4v1.4h-1.4zM155.7 232.8h1.4v1.4h-1.4zM183.8 225.8h1.4v1.4h-1.4zM181.8 231.6h1.4v1.4h-1.4zM162.9 235.2h1.4v1.4h-1.4zM170.5 224.4h1.4v1.4h-1.4zM140.0 241.8h1.4v1.4h-1.4zM164.6 231.3h1.4v1.4h-1.4zM181.3 228.5h1.4v1.4h-1.4zM181.9 226.5h1.4v1.4h-1.4zM185.0 213.9h1.4v1.4h-1.4zM145.0 237.6h1.4v1.4h-1.4zM163.8 229.8h1.4v1.4h-1.4zM179.9 229.3h1.4v1.4h-1.4zM162.9 234.5h1.4v1.4h-1.4zM152.0 246.0h1.4v1.4h-1.4zM160.5 237.0h1.4v1.4h-1.4zM172.9 224.6h1.4v1.4h-1.4zM175.7 223.6h1.4v1.4h-1.4zM162.6 211.9h1.4v1.4h-1.4zM172.1 221.9h1.4v1.4h-1.4zM150.5 238.8h1.4v1.4h-1.4zM166.5 222.1h1.4v1.4h-1.4zM156.7 226.6h1.4v1.4h-1.4zM164.9 223.8h1.4v1.4h-1.4zM167.5 230.9h1.4v1.4h-1.4zM172.5 231.3h1.4v1.4h-1.4zM183.2 224.7h1.4v1.4h-1.4zM146.7 242.3h1.4v1.4h-1.4zM186.7 227.2h1.4v1.4h-1.4zM159.6 235.8h1.4v1.4h-1.4zM163.7 232.6h1.4v1.4h-1.4zM191.0 229.7h1.4v1.4h-1.4zM175.5 230.9h1.4v1.4h-1.4zM185.5 229.1h1.4v1.4h-1.4zM156.7 233.9h1.4v1.4h-1.4zM178.7 222.1h1.4v1.4h-1.4zM177.3 227.9h1.4v1.4h-1.4zM180.1 230.7h1.4v1.4h-1.4zM175.4 229.5h1.4v1.4h-1.4zM167.0 235.7h1.4v1.4h-1.4zM176.2 226.8h1.4v1.4h-1.4zM178.1 228.9h1.4v1.4h-1.4zM160.8 230.5h1.4v1.4h-1.4zM187.7 218.4h1.4v1.4h-1.4zM174.7 234.5h1.4v1.4h-1.4zM167.3 230.3h1.4v1.4h-1.4zM127.8 239.4h1.4v1.4h-1.4zM145.9 236.1h1.4v1.4h-1.4zM166.8 231.7h1.4v1.4h-1.4zM163.8 222.6h1.4v1.4h-1.4zM149.1 230.1h1.4v1.4h-1.4zM173.3 225.2h1.4v1.4h-1.4zM166.2 225.0h1.4v1.4h-1.4zM162.6 235.4h1.4v1.4h-1.4zM152.8 238.7h1.4v1.4h-1.4zM169.5 230.1h1.4v1.4h-1.4zM151.0 243.4h1.4v1.4h-1.4zM189.6 223.9h1.4v1.4h-1.4zM178.1 231.6h1.4v1.4h-1.4zM158.0 238.7h1.4v1.4h-1.4zM172.2 220.7h1.4v1.4h-1.4zM176.2 228.6h1.4v1.4h-1.4zM183.2 227.6h1.4v1.4h-1.4zM158.1 224.4h1.4v1.4h-1.4zM184.2 221.6h1.4v1.4h-1.4zM137.8 247.7h1.4v1.4h-1.4zM171.2 232.6h1.4v1.4h-1.4zM172.5 225.2h1.4v1.4h-1.4zM178.8 232.2h1.4v1.4h-1.4zM171.5 234.2h1.4v1.4h-1.4zM196.0 221.1h1.4v1.4h-1.4zM166.0 226.3h1.4v1.4h-1.4zM196.0 216.0h1.4v1.4h-1.4zM177.9 230.4h1.4v1.4h-1.4zM169.3 232.3h1.4v1.4h-1.4zM176.9 229.9h1.4v1.4h-1.4zM162.2 239.2h1.4v1.4h-1.4zM140.7 241.3h1.4v1.4h-1.4zM166.7 235.4h1.4v1.4h-1.4zM188.6 227.1h1.4v1.4h-1.4zM185.3 222.7h1.4v1.4h-1.4zM168.3 229.3h1.4v1.4h-1.4zM166.6 233.5h1.4v1.4h-1.4zM157.6 236.0h1.4v1.4h-1.4zM181.3 229.2h1.4v1.4h-1.4zM157.8 225.0h1.4v1.4h-1.4zM182.7 223.6h1.4v1.4h-1.4zM179.5 227.7h1.4v1.4h-1.4zM153.3 238.0h1.4v1.4h-1.4zM166.6 232.5h1.4v1.4h-1.4zM165.4 232.3h1.4v1.4h-1.4zM177.9 232.2h1.4v1.4h-1.4zM176.7 218.6h1.4v1.4h-1.4zM179.8 223.5h1.4v1.4h-1.4zM163.4 228.6h1.4v1.4h-1.4zM146.1 231.7h1.4v1.4h-1.4zM160.9 237.9h1.4v1.4h-1.4zM164.1 226.3h1.4v1.4h-1.4zM157.7 231.8h1.4v1.4h-1.4zM128.5 243.5h1.4v1.4h-1.4zM164.9 226.3h1.4v1.4h-1.4zM147.3 239.2h1.4v1.4h-1.4zM159.4 234.4h1.4v1.4h-1.4zM149.0 240.6h1.4v1.4h-1.4zM175.9 232.5h1.4v1.4h-1.4zM170.2 230.6h1.4v1.4h-1.4zM181.1 230.9h1.4v1.4h-1.4zM154.0 236.4h1.4v1.4h-1.4zM176.1 225.8h1.4v1.4h-1.4zM170.5 225.2h1.4v1.4h-1.4zM162.8 237.3h1.4v1.4h-1.4zM166.5 230.7h1.4v1.4h-1.4zM160.2 235.7h1.4v1.4h-1.4zM160.0 234.0h1.4v1.4h-1.4zM174.4 226.1h1.4v1.4h-1.4zM164.0 229.8h1.4v1.4h-1.4zM181.9 227.1h1.4v1.4h-1.4zM179.3 227.8h1.4v1.4h-1.4zM164.7 234.5h1.4v1.4h-1.4zM185.1 227.4h1.4v1.4h-1.4zM170.3 219.3h1.4v1.4h-1.4zM171.8 235.8h1.4v1.4h-1.4zM164.8 232.2h1.4v1.4h-1.4zM167.2 227.0h1.4v1.4h-1.4zM179.2 225.2h1.4v1.4h-1.4zM163.4 236.7h1.4v1.4h-1.4zM180.9 222.1h1.4v1.4h-1.4zM173.9 232.6h1.4v1.4h-1.4zM161.9 226.2h1.4v1.4h-1.4zM166.1 233.4h1.4v1.4h-1.4zM186.8 224.9h1.4v1.4h-1.4zM172.6 221.5h1.4v1.4h-1.4zM198.5 220.4h1.4v1.4h-1.4zM176.4 210.8h1.4v1.4h-1.4zM180.6 224.6h1.4v1.4h-1.4zM154.6 225.4h1.4v1.4h-1.4zM171.8 224.4h1.4v1.4h-1.4zM140.0 245.8h1.4v1.4h-1.4zM144.8 230.8h1.4v1.4h-1.4zM166.0 233.4h1.4v1.4h-1.4zM160.9 237.8h1.4v1.4h-1.4zM164.6 233.6h1.4v1.4h-1.4zM162.4 225.1h1.4v1.4h-1.4zM177.8 228.2h1.4v1.4h-1.4zM177.6 220.8h1.4v1.4h-1.4zM166.9 233.0h1.4v1.4h-1.4zM172.1 232.9h1.4v1.4h-1.4zM189.0 228.5h1.4v1.4h-1.4zM204.1 217.9h1.4v1.4h-1.4zM188.4 212.6h1.4v1.4h-1.4zM152.9 229.7h1.4v1.4h-1.4zM160.4 236.8h1.4v1.4h-1.4zM183.5 230.1h1.4v1.4h-1.4zM161.5 226.9h1.4v1.4h-1.4zM165.8 229.1h1.4v1.4h-1.4zM168.3 233.1h1.4v1.4h-1.4zM138.3 241.5h1.4v1.4h-1.4zM153.2 233.7h1.4v1.4h-1.4zM174.9 224.6h1.4v1.4h-1.4zM186.3 226.0h1.4v1.4h-1.4zM193.0 223.1h1.4v1.4h-1.4zM165.1 230.8h1.4v1.4h-1.4zM169.5 218.7h1.4v1.4h-1.4zM172.3 233.5h1.4v1.4h-1.4zM186.8 225.1h1.4v1.4h-1.4zM144.1 240.4h1.4v1.4h-1.4zM152.3 238.3h1.4v1.4h-1.4zM175.1 232.6h1.4v1.4h-1.4zM172.6 225.7h1.4v1.4h-1.4zM172.9 227.4h1.4v1.4h-1.4zM165.1 232.5h1.4v1.4h-1.4zM166.0 230.7h1.4v1.4h-1.4zM163.3 227.0h1.4v1.4h-1.4zM173.2 230.4h1.4v1.4h-1.4zM161.6 228.2h1.4v1.4h-1.4zM182.2 226.8h1.4v1.4h-1.4zM150.2 242.0h1.4v1.4h-1.4zM178.2 228.2h1.4v1.4h-1.4zM159.3 229.7h1.4v1.4h-1.4zM167.5 232.1h1.4v1.4h-1.4zM176.8 216.1h1.4v1.4h-1.4zM179.0 231.4h1.4v1.4h-1.4zM162.2 229.1h1.4v1.4h-1.4zM174.8 222.5h1.4v1.4h-1.4zM194.5 216.7h1.4v1.4h-1.4zM156.8 231.1h1.4v1.4h-1.4zM178.8 229.8h1.4v1.4h-1.4zM186.4 226.9h1.4v1.4h-1.4zM179.5 234.3h1.4v1.4h-1.4zM152.4 237.6h1.4v1.4h-1.4zM191.6 222.0h1.4v1.4h-1.4zM154.2 222.7h1.4v1.4h-1.4zM176.5 228.6h1.4v1.4h-1.4zM172.9 227.8h1.4v1.4h-1.4zM183.3 226.5h1.4v1.4h-1.4zM166.8 229.5h1.4v1.4h-1.4zM179.6 227.5h1.4v1.4h-1.4zM165.6 226.4h1.4v1.4h-1.4zM178.0 227.4h1.4v1.4h-1.4zM180.0 229.9h1.4v1.4h-1.4zM189.8 221.3h1.4v1.4h-1.4zM179.5 232.3h1.4v1.4h-1.4zM164.9 233.5h1.4v1.4h-1.4zM204.0 222.1h1.4v1.4h-1.4zM153.6 236.0h1.4v1.4h-1.4zM158.0 231.9h1.4v1.4h-1.4zM143.7 236.4h1.4v1.4h-1.4zM184.5 224.0h1.4v1.4h-1.4zM170.1 232.5h1.4v1.4h-1.4zM173.5 219.9h1.4v1.4h-1.4zM169.6 226.3h1.4v1.4h-1.4zM142.6 228.4h1.4v1.4h-1.4zM171.5 230.6h1.4v1.4h-1.4zM148.7 239.6h1.4v1.4h-1.4zM195.4 224.0h1.4v1.4h-1.4zM174.9 225.5h1.4v1.4h-1.4zM182.8 223.6h1.4v1.4h-1.4zM187.6 229.2h1.4v1.4h-1.4zM181.4 225.7h1.4v1.4h-1.4zM181.4 225.3h1.4v1.4h-1.4zM203.9 226.7h1.4v1.4h-1.4zM193.0 239.6h1.4v1.4h-1.4zM184.1 228.9h1.4v1.4h-1.4zM181.3 212.4h1.4v1.4h-1.4zM180.7 235.1h1.4v1.4h-1.4zM179.2 246.6h1.4v1.4h-1.4zM189.6 225.9h1.4v1.4h-1.4zM203.1 219.9h1.4v1.4h-1.4zM182.7 222.4h1.4v1.4h-1.4zM181.9 230.2h1.4v1.4h-1.4zM186.6 228.5h1.4v1.4h-1.4zM174.3 226.3h1.4v1.4h-1.4zM191.6 231.2h1.4v1.4h-1.4zM196.1 232.0h1.4v1.4h-1.4zM180.0 232.3h1.4v1.4h-1.4zM180.9 231.4h1.4v1.4h-1.4zM182.4 229.2h1.4v1.4h-1.4zM193.6 218.1h1.4v1.4h-1.4zM190.8 216.8h1.4v1.4h-1.4zM201.9 226.1h1.4v1.4h-1.4zM190.0 228.5h1.4v1.4h-1.4zM172.0 232.1h1.4v1.4h-1.4zM184.2 220.8h1.4v1.4h-1.4zM201.4 226.8h1.4v1.4h-1.4zM199.5 231.6h1.4v1.4h-1.4zM183.1 223.5h1.4v1.4h-1.4zM189.4 206.5h1.4v1.4h-1.4zM163.2 235.0h1.4v1.4h-1.4zM188.2 225.0h1.4v1.4h-1.4zM181.0 228.4h1.4v1.4h-1.4zM199.8 216.7h1.4v1.4h-1.4zM195.8 221.1h1.4v1.4h-1.4zM188.9 225.1h1.4v1.4h-1.4zM206.6 222.0h1.4v1.4h-1.4zM197.6 222.5h1.4v1.4h-1.4zM170.2 236.6h1.4v1.4h-1.4zM190.3 224.6h1.4v1.4h-1.4zM182.2 216.5h1.4v1.4h-1.4zM209.0 229.8h1.4v1.4h-1.4zM202.7 207.9h1.4v1.4h-1.4zM193.6 215.1h1.4v1.4h-1.4zM187.4 221.5h1.4v1.4h-1.4zM182.5 221.4h1.4v1.4h-1.4zM186.8 230.1h1.4v1.4h-1.4zM208.4 224.1h1.4v1.4h-1.4zM189.9 223.1h1.4v1.4h-1.4zM187.7 224.6h1.4v1.4h-1.4zM183.6 224.9h1.4v1.4h-1.4zM198.5 219.8h1.4v1.4h-1.4zM181.7 225.9h1.4v1.4h-1.4zM191.0 223.2h1.4v1.4h-1.4zM188.9 229.0h1.4v1.4h-1.4zM187.8 218.1h1.4v1.4h-1.4zM194.7 217.8h1.4v1.4h-1.4zM199.7 226.2h1.4v1.4h-1.4zM195.7 224.2h1.4v1.4h-1.4zM176.1 227.2h1.4v1.4h-1.4zM192.7 227.3h1.4v1.4h-1.4zM178.5 226.8h1.4v1.4h-1.4zM174.9 230.1h1.4v1.4h-1.4zM191.3 224.4h1.4v1.4h-1.4zM208.5 222.8h1.4v1.4h-1.4zM187.1 221.2h1.4v1.4h-1.4zM187.2 230.1h1.4v1.4h-1.4zM198.6 217.9h1.4v1.4h-1.4zM188.2 221.8h1.4v1.4h-1.4zM197.6 222.8h1.4v1.4h-1.4zM181.1 221.1h1.4v1.4h-1.4zM200.8 211.3h1.4v1.4h-1.4zM165.7 211.8h1.4v1.4h-1.4zM210.0 214.0h1.4v1.4h-1.4zM200.0 224.4h1.4v1.4h-1.4zM201.0 227.9h1.4v1.4h-1.4zM185.4 225.4h1.4v1.4h-1.4zM201.3 224.0h1.4v1.4h-1.4zM181.0 222.0h1.4v1.4h-1.4zM175.9 230.3h1.4v1.4h-1.4zM181.7 216.5h1.4v1.4h-1.4zM185.1 227.7h1.4v1.4h-1.4zM191.6 222.0h1.4v1.4h-1.4zM193.1 227.3h1.4v1.4h-1.4zM176.3 223.1h1.4v1.4h-1.4zM201.6 225.1h1.4v1.4h-1.4zM174.4 224.4h1.4v1.4h-1.4zM206.5 223.6h1.4v1.4h-1.4zM190.7 230.5h1.4v1.4h-1.4zM207.0 227.7h1.4v1.4h-1.4zM173.4 220.9h1.4v1.4h-1.4zM184.9 225.4h1.4v1.4h-1.4zM187.0 226.6h1.4v1.4h-1.4zM207.5 225.5h1.4v1.4h-1.4zM200.4 220.6h1.4v1.4h-1.4zM208.1 221.1h1.4v1.4h-1.4zM192.7 223.0h1.4v1.4h-1.4zM175.4 242.8h1.4v1.4h-1.4zM191.7 229.3h1.4v1.4h-1.4zM180.2 233.9h1.4v1.4h-1.4zM190.9 217.6h1.4v1.4h-1.4zM200.2 220.8h1.4v1.4h-1.4zM175.6 212.2h1.4v1.4h-1.4zM180.7 229.5h1.4v1.4h-1.4zM181.4 233.2h1.4v1.4h-1.4zM192.4 222.7h1.4v1.4h-1.4zM199.1 221.3h1.4v1.4h-1.4zM203.6 228.9h1.4v1.4h-1.4zM197.2 215.4h1.4v1.4h-1.4zM196.6 220.2h1.4v1.4h-1.4zM195.3 228.6h1.4v1.4h-1.4zM183.8 227.4h1.4v1.4h-1.4zM203.7 214.1h1.4v1.4h-1.4zM189.6 228.9h1.4v1.4h-1.4zM189.8 230.8h1.4v1.4h-1.4zM176.9 218.5h1.4v1.4h-1.4zM193.8 221.9h1.4v1.4h-1.4zM195.3 228.6h1.4v1.4h-1.4zM200.4 218.4h1.4v1.4h-1.4zM182.5 213.8h1.4v1.4h-1.4zM180.6 228.7h1.4v1.4h-1.4zM189.6 214.5h1.4v1.4h-1.4zM198.2 221.1h1.4v1.4h-1.4zM200.9 218.2h1.4v1.4h-1.4zM198.1 214.2h1.4v1.4h-1.4zM169.5 225.4h1.4v1.4h-1.4zM198.2 224.0h1.4v1.4h-1.4zM171.0 231.2h1.4v1.4h-1.4zM200.3 231.6h1.4v1.4h-1.4zM199.2 224.3h1.4v1.4h-1.4zM174.6 231.5h1.4v1.4h-1.4zM169.3 228.8h1.4v1.4h-1.4zM184.5 219.5h1.4v1.4h-1.4zM179.4 226.5h1.4v1.4h-1.4zM195.0 218.2h1.4v1.4h-1.4zM194.7 227.1h1.4v1.4h-1.4zM193.6 235.3h1.4v1.4h-1.4zM185.6 220.7h1.4v1.4h-1.4zM172.6 236.6h1.4v1.4h-1.4zM196.9 220.6h1.4v1.4h-1.4zM193.2 222.2h1.4v1.4h-1.4zM199.2 221.0h1.4v1.4h-1.4zM192.4 222.7h1.4v1.4h-1.4zM176.8 213.9h1.4v1.4h-1.4zM193.4 214.8h1.4v1.4h-1.4zM195.5 226.4h1.4v1.4h-1.4zM208.3 213.3h1.4v1.4h-1.4zM193.5 229.0h1.4v1.4h-1.4zM182.1 222.8h1.4v1.4h-1.4zM198.8 234.6h1.4v1.4h-1.4zM203.2 225.9h1.4v1.4h-1.4zM181.5 231.1h1.4v1.4h-1.4zM199.6 212.7h1.4v1.4h-1.4zM189.9 222.8h1.4v1.4h-1.4zM193.5 211.6h1.4v1.4h-1.4zM197.5 221.6h1.4v1.4h-1.4zM183.4 212.5h1.4v1.4h-1.4zM167.7 227.7h1.4v1.4h-1.4zM197.7 224.3h1.4v1.4h-1.4zM194.7 211.5h1.4v1.4h-1.4zM194.8 231.2h1.4v1.4h-1.4zM175.4 233.0h1.4v1.4h-1.4zM183.7 229.6h1.4v1.4h-1.4zM188.1 214.1h1.4v1.4h-1.4zM181.7 234.9h1.4v1.4h-1.4zM191.4 231.6h1.4v1.4h-1.4zM195.4 228.1h1.4v1.4h-1.4zM186.5 226.6h1.4v1.4h-1.4zM188.0 230.5h1.4v1.4h-1.4zM186.3 232.4h1.4v1.4h-1.4zM204.1 211.6h1.4v1.4h-1.4zM189.4 227.7h1.4v1.4h-1.4zM187.8 213.5h1.4v1.4h-1.4zM197.8 217.7h1.4v1.4h-1.4zM192.9 225.7h1.4v1.4h-1.4zM177.6 234.9h1.4v1.4h-1.4zM200.8 224.2h1.4v1.4h-1.4zM197.0 224.0h1.4v1.4h-1.4zM174.7 225.7h1.4v1.4h-1.4zM198.0 219.3h1.4v1.4h-1.4zM191.1 226.1h1.4v1.4h-1.4zM191.6 225.2h1.4v1.4h-1.4zM195.2 222.3h1.4v1.4h-1.4zM178.2 226.1h1.4v1.4h-1.4zM198.8 216.8h1.4v1.4h-1.4zM195.6 224.2h1.4v1.4h-1.4zM175.7 210.4h1.4v1.4h-1.4zM188.5 219.5h1.4v1.4h-1.4zM185.4 231.5h1.4v1.4h-1.4zM182.9 228.6h1.4v1.4h-1.4zM191.7 224.7h1.4v1.4h-1.4zM207.0 205.8h1.4v1.4h-1.4zM199.9 219.9h1.4v1.4h-1.4zM82.2 218.9h1.4v1.4h-1.4zM81.6 223.2h1.4v1.4h-1.4zM57.6 254.4h1.4v1.4h-1.4zM75.7 238.8h1.4v1.4h-1.4zM67.7 238.7h1.4v1.4h-1.4zM84.6 224.6h1.4v1.4h-1.4zM54.4 258.0h1.4v1.4h-1.4zM86.3 220.8h1.4v1.4h-1.4zM74.7 240.9h1.4v1.4h-1.4zM69.4 242.1h1.4v1.4h-1.4zM59.1 244.9h1.4v1.4h-1.4zM55.9 252.1h1.4v1.4h-1.4zM68.2 244.1h1.4v1.4h-1.4zM62.9 244.3h1.4v1.4h-1.4zM53.2 249.0h1.4v1.4h-1.4zM77.4 229.3h1.4v1.4h-1.4zM78.1 232.8h1.4v1.4h-1.4zM65.8 246.1h1.4v1.4h-1.4zM53.1 254.5h1.4v1.4h-1.4zM69.5 240.5h1.4v1.4h-1.4zM74.1 236.3h1.4v1.4h-1.4zM65.0 244.8h1.4v1.4h-1.4zM64.4 231.7h1.4v1.4h-1.4zM88.4 218.4h1.4v1.4h-1.4zM65.6 236.3h1.4v1.4h-1.4zM52.6 257.9h1.4v1.4h-1.4zM69.6 241.1h1.4v1.4h-1.4zM87.8 221.0h1.4v1.4h-1.4zM61.8 245.4h1.4v1.4h-1.4zM62.9 249.6h1.4v1.4h-1.4zM70.0 237.1h1.4v1.4h-1.4zM78.6 226.0h1.4v1.4h-1.4zM57.6 242.1h1.4v1.4h-1.4zM80.4 224.3h1.4v1.4h-1.4zM60.0 244.6h1.4v1.4h-1.4zM76.0 219.7h1.4v1.4h-1.4zM57.0 247.9h1.4v1.4h-1.4zM61.9 243.5h1.4v1.4h-1.4zM72.0 236.6h1.4v1.4h-1.4zM61.7 237.5h1.4v1.4h-1.4zM52.8 253.7h1.4v1.4h-1.4zM59.2 240.4h1.4v1.4h-1.4zM82.8 226.0h1.4v1.4h-1.4zM78.6 231.5h1.4v1.4h-1.4zM71.7 229.1h1.4v1.4h-1.4zM87.9 215.8h1.4v1.4h-1.4zM75.4 230.3h1.4v1.4h-1.4zM58.5 246.6h1.4v1.4h-1.4zM67.7 240.3h1.4v1.4h-1.4zM90.3 224.4h1.4v1.4h-1.4zM91.6 211.4h1.4v1.4h-1.4zM65.8 246.4h1.4v1.4h-1.4zM84.4 212.3h1.4v1.4h-1.4zM94.8 207.9h1.4v1.4h-1.4zM77.2 236.1h1.4v1.4h-1.4zM68.5 245.1h1.4v1.4h-1.4zM74.4 236.2h1.4v1.4h-1.4zM65.3 242.2h1.4v1.4h-1.4zM54.8 253.5h1.4v1.4h-1.4zM85.0 215.0h1.4v1.4h-1.4zM67.3 243.2h1.4v1.4h-1.4zM78.0 233.4h1.4v1.4h-1.4zM67.4 240.3h1.4v1.4h-1.4zM61.1 240.7h1.4v1.4h-1.4zM67.4 235.6h1.4v1.4h-1.4zM79.4 232.2h1.4v1.4h-1.4zM80.8 233.4h1.4v1.4h-1.4zM53.3 254.5h1.4v1.4h-1.4zM57.2 253.5h1.4v1.4h-1.4zM74.8 232.6h1.4v1.4h-1.4zM64.0 242.6h1.4v1.4h-1.4zM67.1 244.4h1.4v1.4h-1.4zM88.3 224.1h1.4v1.4h-1.4zM60.5 245.1h1.4v1.4h-1.4zM68.7 224.8h1.4v1.4h-1.4zM66.8 243.2h1.4v1.4h-1.4zM78.0 231.8h1.4v1.4h-1.4zM72.3 236.9h1.4v1.4h-1.4zM72.6 243.6h1.4v1.4h-1.4zM78.6 234.7h1.4v1.4h-1.4zM66.4 236.7h1.4v1.4h-1.4zM57.9 250.1h1.4v1.4h-1.4zM98.6 213.0h1.4v1.4h-1.4zM84.5 222.5h1.4v1.4h-1.4zM64.2 246.4h1.4v1.4h-1.4zM53.1 252.1h1.4v1.4h-1.4zM54.3 256.7h1.4v1.4h-1.4zM89.3 215.1h1.4v1.4h-1.4zM61.9 246.1h1.4v1.4h-1.4zM92.6 219.7h1.4v1.4h-1.4zM86.0 217.6h1.4v1.4h-1.4zM86.3 221.4h1.4v1.4h-1.4zM69.5 233.2h1.4v1.4h-1.4zM93.3 209.6h1.4v1.4h-1.4zM74.4 231.4h1.4v1.4h-1.4zM82.8 225.4h1.4v1.4h-1.4zM58.7 240.5h1.4v1.4h-1.4zM81.3 217.0h1.4v1.4h-1.4zM88.8 229.1h1.4v1.4h-1.4zM86.0 222.3h1.4v1.4h-1.4zM74.3 218.5h1.4v1.4h-1.4zM65.6 239.3h1.4v1.4h-1.4zM85.1 217.3h1.4v1.4h-1.4zM80.7 221.7h1.4v1.4h-1.4zM50.6 257.5h1.4v1.4h-1.4zM59.7 253.3h1.4v1.4h-1.4zM66.3 242.2h1.4v1.4h-1.4zM72.1 242.0h1.4v1.4h-1.4zM76.3 231.8h1.4v1.4h-1.4zM74.5 231.9h1.4v1.4h-1.4zM76.3 219.9h1.4v1.4h-1.4zM78.5 223.5h1.4v1.4h-1.4zM65.1 241.7h1.4v1.4h-1.4zM79.6 226.6h1.4v1.4h-1.4zM95.4 212.2h1.4v1.4h-1.4zM98.4 201.3h1.4v1.4h-1.4zM60.7 244.9h1.4v1.4h-1.4zM66.7 242.2h1.4v1.4h-1.4zM64.4 240.9h1.4v1.4h-1.4zM61.1 241.0h1.4v1.4h-1.4zM64.3 252.5h1.4v1.4h-1.4zM55.7 247.8h1.4v1.4h-1.4zM70.6 233.1h1.4v1.4h-1.4zM55.7 249.8h1.4v1.4h-1.4zM85.3 226.5h1.4v1.4h-1.4zM89.5 217.8h1.4v1.4h-1.4zM66.0 244.5h1.4v1.4h-1.4zM98.3 201.8h1.4v1.4h-1.4zM69.2 227.5h1.4v1.4h-1.4zM59.6 242.4h1.4v1.4h-1.4zM61.9 242.4h1.4v1.4h-1.4zM78.1 231.2h1.4v1.4h-1.4zM67.3 235.3h1.4v1.4h-1.4zM91.1 209.9h1.4v1.4h-1.4zM54.6 256.9h1.4v1.4h-1.4zM83.9 221.5h1.4v1.4h-1.4zM80.8 220.6h1.4v1.4h-1.4zM88.2 219.1h1.4v1.4h-1.4zM59.1 255.8h1.4v1.4h-1.4zM83.3 226.5h1.4v1.4h-1.4zM51.6 248.9h1.4v1.4h-1.4zM97.5 200.4h1.4v1.4h-1.4zM85.9 228.8h1.4v1.4h-1.4zM91.6 215.8h1.4v1.4h-1.4zM53.5 257.7h1.4v1.4h-1.4zM91.0 212.5h1.4v1.4h-1.4zM74.0 236.4h1.4v1.4h-1.4zM68.6 246.5h1.4v1.4h-1.4zM80.5 219.2h1.4v1.4h-1.4zM77.2 214.6h1.4v1.4h-1.4zM84.1 223.4h1.4v1.4h-1.4zM65.3 236.8h1.4v1.4h-1.4zM75.5 225.2h1.4v1.4h-1.4zM74.1 225.9h1.4v1.4h-1.4zM70.6 236.1h1.4v1.4h-1.4zM83.9 231.0h1.4v1.4h-1.4zM79.9 230.8h1.4v1.4h-1.4zM65.1 235.6h1.4v1.4h-1.4zM64.4 240.8h1.4v1.4h-1.4zM54.9 250.9h1.4v1.4h-1.4zM50.6 248.1h1.4v1.4h-1.4zM69.4 243.2h1.4v1.4h-1.4zM63.5 242.4h1.4v1.4h-1.4zM66.4 235.9h1.4v1.4h-1.4zM51.8 252.0h1.4v1.4h-1.4zM58.4 248.9h1.4v1.4h-1.4zM85.3 216.4h1.4v1.4h-1.4zM83.9 219.2h1.4v1.4h-1.4zM58.8 257.5h1.4v1.4h-1.4zM75.5 227.2h1.4v1.4h-1.4zM56.3 243.1h1.4v1.4h-1.4zM64.0 243.7h1.4v1.4h-1.4zM84.3 223.5h1.4v1.4h-1.4zM94.9 199.7h1.4v1.4h-1.4zM59.9 254.0h1.4v1.4h-1.4zM83.7 224.1h1.4v1.4h-1.4zM60.3 238.1h1.4v1.4h-1.4zM71.1 228.9h1.4v1.4h-1.4zM55.5 252.7h1.4v1.4h-1.4zM59.3 239.6h1.4v1.4h-1.4zM67.2 247.1h1.4v1.4h-1.4zM51.2 255.3h1.4v1.4h-1.4zM70.4 236.6h1.4v1.4h-1.4zM100.8 204.3h1.4v1.4h-1.4zM84.4 221.0h1.4v1.4h-1.4zM63.3 245.5h1.4v1.4h-1.4zM63.4 243.9h1.4v1.4h-1.4zM63.7 242.5h1.4v1.4h-1.4zM82.4 223.9h1.4v1.4h-1.4zM85.1 223.8h1.4v1.4h-1.4zM61.9 243.2h1.4v1.4h-1.4zM75.8 225.5h1.4v1.4h-1.4zM91.9 219.9h1.4v1.4h-1.4zM75.8 240.8h1.4v1.4h-1.4zM80.7 225.7h1.4v1.4h-1.4zM76.5 225.2h1.4v1.4h-1.4zM67.0 235.7h1.4v1.4h-1.4zM73.3 237.6h1.4v1.4h-1.4zM55.4 246.6h1.4v1.4h-1.4zM52.3 247.3h1.4v1.4h-1.4zM67.4 245.7h1.4v1.4h-1.4zM84.7 225.6h1.4v1.4h-1.4zM63.7 238.7h1.4v1.4h-1.4zM85.9 221.2h1.4v1.4h-1.4zM78.7 226.9h1.4v1.4h-1.4zM83.1 217.4h1.4v1.4h-1.4zM61.3 247.8h1.4v1.4h-1.4zM65.7 246.4h1.4v1.4h-1.4zM63.3 244.4h1.4v1.4h-1.4zM56.6 252.0h1.4v1.4h-1.4zM63.2 251.6h1.4v1.4h-1.4zM65.1 245.1h1.4v1.4h-1.4zM60.4 249.3h1.4v1.4h-1.4zM56.8 250.7h1.4v1.4h-1.4zM58.9 242.8h1.4v1.4h-1.4zM80.4 229.1h1.4v1.4h-1.4zM84.3 218.0h1.4v1.4h-1.4zM75.2 233.6h1.4v1.4h-1.4zM68.8 243.6h1.4v1.4h-1.4zM80.7 223.3h1.4v1.4h-1.4zM61.0 241.3h1.4v1.4h-1.4zM69.5 236.6h1.4v1.4h-1.4zM67.0 246.8h1.4v1.4h-1.4zM69.6 234.1h1.4v1.4h-1.4zM54.2 245.1h1.4v1.4h-1.4zM93.2 220.3h1.4v1.4h-1.4zM68.9 244.9h1.4v1.4h-1.4zM64.8 251.7h1.4v1.4h-1.4zM74.7 243.3h1.4v1.4h-1.4zM63.8 245.3h1.4v1.4h-1.4zM51.4 239.8h1.4v1.4h-1.4zM87.2 220.9h1.4v1.4h-1.4zM66.7 234.1h1.4v1.4h-1.4zM71.8 239.6h1.4v1.4h-1.4zM74.3 239.6h1.4v1.4h-1.4zM54.9 249.7h1.4v1.4h-1.4zM60.8 257.9h1.4v1.4h-1.4zM58.6 248.8h1.4v1.4h-1.4zM96.2 209.6h1.4v1.4h-1.4zM82.6 219.7h1.4v1.4h-1.4zM92.7 211.1h1.4v1.4h-1.4zM94.3 209.7h1.4v1.4h-1.4zM95.3 214.9h1.4v1.4h-1.4zM97.4 212.6h1.4v1.4h-1.4zM67.0 241.4h1.4v1.4h-1.4zM59.4 248.4h1.4v1.4h-1.4zM52.7 251.8h1.4v1.4h-1.4zM52.4 243.9h1.4v1.4h-1.4zM71.0 234.5h1.4v1.4h-1.4zM69.0 237.9h1.4v1.4h-1.4zM65.4 231.0h1.4v1.4h-1.4zM59.2 250.7h1.4v1.4h-1.4zM62.7 243.0h1.4v1.4h-1.4zM67.1 245.7h1.4v1.4h-1.4zM77.3 228.3h1.4v1.4h-1.4zM59.3 248.5h1.4v1.4h-1.4zM72.3 235.9h1.4v1.4h-1.4zM80.8 225.6h1.4v1.4h-1.4zM74.2 222.5h1.4v1.4h-1.4zM73.2 236.6h1.4v1.4h-1.4zM83.3 217.5h1.4v1.4h-1.4zM55.5 253.2h1.4v1.4h-1.4zM65.5 235.6h1.4v1.4h-1.4zM59.2 250.9h1.4v1.4h-1.4zM83.3 216.2h1.4v1.4h-1.4zM84.3 217.0h1.4v1.4h-1.4zM72.6 238.8h1.4v1.4h-1.4zM69.6 231.8h1.4v1.4h-1.4zM68.3 227.8h1.4v1.4h-1.4zM79.2 224.9h1.4v1.4h-1.4zM70.0 247.1h1.4v1.4h-1.4zM90.8 210.4h1.4v1.4h-1.4zM69.4 237.5h1.4v1.4h-1.4zM72.8 232.3h1.4v1.4h-1.4zM53.2 243.9h1.4v1.4h-1.4zM75.1 222.9h1.4v1.4h-1.4zM54.1 249.5h1.4v1.4h-1.4zM74.3 230.8h1.4v1.4h-1.4zM85.0 219.7h1.4v1.4h-1.4zM69.7 238.2h1.4v1.4h-1.4zM55.9 251.2h1.4v1.4h-1.4zM65.5 241.3h1.4v1.4h-1.4zM53.4 246.3h1.4v1.4h-1.4zM99.1 202.7h1.4v1.4h-1.4zM76.0 236.4h1.4v1.4h-1.4zM89.8 212.4h1.4v1.4h-1.4zM78.5 230.2h1.4v1.4h-1.4zM102.4 207.9h1.4v1.4h-1.4zM68.1 239.3h1.4v1.4h-1.4zM85.9 214.2h1.4v1.4h-1.4zM52.7 251.3h1.4v1.4h-1.4zM70.3 236.6h1.4v1.4h-1.4zM66.4 252.6h1.4v1.4h-1.4zM77.9 234.7h1.4v1.4h-1.4zM54.2 248.1h1.4v1.4h-1.4zM54.7 247.8h1.4v1.4h-1.4zM71.4 234.3h1.4v1.4h-1.4zM82.4 224.6h1.4v1.4h-1.4zM85.3 232.2h1.4v1.4h-1.4zM69.3 235.5h1.4v1.4h-1.4zM76.5 229.0h1.4v1.4h-1.4zM90.1 220.5h1.4v1.4h-1.4zM66.3 240.2h1.4v1.4h-1.4zM59.2 248.3h1.4v1.4h-1.4zM64.1 237.6h1.4v1.4h-1.4zM70.5 234.1h1.4v1.4h-1.4zM55.6 248.1h1.4v1.4h-1.4zM84.7 213.7h1.4v1.4h-1.4zM56.3 254.0h1.4v1.4h-1.4zM72.7 229.6h1.4v1.4h-1.4zM63.1 242.1h1.4v1.4h-1.4zM58.3 254.9h1.4v1.4h-1.4zM55.1 245.0h1.4v1.4h-1.4zM72.0 242.7h1.4v1.4h-1.4zM84.3 217.1h1.4v1.4h-1.4zM74.6 225.3h1.4v1.4h-1.4zM71.0 245.3h1.4v1.4h-1.4zM99.1 203.6h1.4v1.4h-1.4zM65.5 251.1h1.4v1.4h-1.4zM74.1 245.6h1.4v1.4h-1.4zM63.8 246.9h1.4v1.4h-1.4zM86.9 216.9h1.4v1.4h-1.4zM99.1 213.6h1.4v1.4h-1.4zM78.1 232.8h1.4v1.4h-1.4zM95.8 211.4h1.4v1.4h-1.4zM64.4 242.4h1.4v1.4h-1.4zM66.1 233.6h1.4v1.4h-1.4zM90.3 213.7h1.4v1.4h-1.4zM72.2 233.1h1.4v1.4h-1.4zM69.4 232.5h1.4v1.4h-1.4zM67.1 235.4h1.4v1.4h-1.4zM72.2 229.9h1.4v1.4h-1.4zM65.8 241.2h1.4v1.4h-1.4zM82.7 222.7h1.4v1.4h-1.4zM60.3 251.1h1.4v1.4h-1.4zM68.8 244.2h1.4v1.4h-1.4zM83.5 221.7h1.4v1.4h-1.4zM87.3 218.1h1.4v1.4h-1.4zM87.1 229.5h1.4v1.4h-1.4zM78.1 224.3h1.4v1.4h-1.4zM66.5 241.0h1.4v1.4h-1.4zM52.3 247.9h1.4v1.4h-1.4zM57.4 245.4h1.4v1.4h-1.4zM59.9 259.7h1.4v1.4h-1.4zM72.1 240.8h1.4v1.4h-1.4zM51.6 250.8h1.4v1.4h-1.4zM96.8 212.0h1.4v1.4h-1.4zM91.0 206.8h1.4v1.4h-1.4zM62.8 254.2h1.4v1.4h-1.4zM76.2 220.2h1.4v1.4h-1.4zM77.5 216.5h1.4v1.4h-1.4zM71.6 234.8h1.4v1.4h-1.4zM83.2 225.2h1.4v1.4h-1.4zM53.3 245.7h1.4v1.4h-1.4zM80.4 216.4h1.4v1.4h-1.4zM83.6 226.6h1.4v1.4h-1.4zM60.0 254.8h1.4v1.4h-1.4zM70.6 232.7h1.4v1.4h-1.4zM50.9 254.0h1.4v1.4h-1.4zM80.9 209.8h1.4v1.4h-1.4zM74.9 236.7h1.4v1.4h-1.4zM53.8 249.7h1.4v1.4h-1.4zM58.3 244.9h1.4v1.4h-1.4zM57.8 241.0h1.4v1.4h-1.4zM67.9 247.7h1.4v1.4h-1.4zM78.3 219.1h1.4v1.4h-1.4zM95.1 202.7h1.4v1.4h-1.4zM68.4 229.1h1.4v1.4h-1.4zM67.5 236.1h1.4v1.4h-1.4zM65.8 248.0h1.4v1.4h-1.4zM59.1 245.2h1.4v1.4h-1.4zM80.0 229.6h1.4v1.4h-1.4zM54.7 247.1h1.4v1.4h-1.4zM82.1 230.1h1.4v1.4h-1.4zM85.0 221.5h1.4v1.4h-1.4zM66.2 232.4h1.4v1.4h-1.4zM70.7 231.4h1.4v1.4h-1.4zM88.4 222.7h1.4v1.4h-1.4zM61.1 250.4h1.4v1.4h-1.4zM89.2 214.3h1.4v1.4h-1.4zM68.8 240.0h1.4v1.4h-1.4zM94.6 203.4h1.4v1.4h-1.4zM92.2 213.9h1.4v1.4h-1.4zM95.8 214.4h1.4v1.4h-1.4zM71.0 241.2h1.4v1.4h-1.4zM79.3 225.6h1.4v1.4h-1.4zM84.8 217.5h1.4v1.4h-1.4zM67.6 239.4h1.4v1.4h-1.4zM82.8 227.2h1.4v1.4h-1.4zM55.1 255.6h1.4v1.4h-1.4zM71.5 237.8h1.4v1.4h-1.4zM91.2 209.4h1.4v1.4h-1.4zM70.8 227.4h1.4v1.4h-1.4zM79.8 224.6h1.4v1.4h-1.4zM58.2 245.5h1.4v1.4h-1.4zM87.6 215.7h1.4v1.4h-1.4zM75.6 229.8h1.4v1.4h-1.4zM61.6 248.8h1.4v1.4h-1.4zM71.9 236.5h1.4v1.4h-1.4zM61.0 246.9h1.4v1.4h-1.4zM61.1 247.2h1.4v1.4h-1.4zM59.8 250.3h1.4v1.4h-1.4zM63.7 243.4h1.4v1.4h-1.4zM61.4 239.4h1.4v1.4h-1.4zM71.2 230.1h1.4v1.4h-1.4zM60.8 254.1h1.4v1.4h-1.4zM57.0 244.0h1.4v1.4h-1.4zM66.3 244.0h1.4v1.4h-1.4zM87.3 234.5h1.4v1.4h-1.4zM65.4 241.5h1.4v1.4h-1.4zM93.7 214.6h1.4v1.4h-1.4zM57.0 251.0h1.4v1.4h-1.4zM65.0 238.9h1.4v1.4h-1.4zM84.1 216.5h1.4v1.4h-1.4zM58.4 248.4h1.4v1.4h-1.4zM66.3 245.4h1.4v1.4h-1.4zM76.7 227.1h1.4v1.4h-1.4zM65.0 238.8h1.4v1.4h-1.4zM63.5 237.0h1.4v1.4h-1.4zM64.6 240.4h1.4v1.4h-1.4zM87.5 208.9h1.4v1.4h-1.4zM52.2 252.9h1.4v1.4h-1.4zM79.3 229.0h1.4v1.4h-1.4zM95.0 203.2h1.4v1.4h-1.4zM86.0 225.0h1.4v1.4h-1.4zM68.7 233.6h1.4v1.4h-1.4zM56.3 254.8h1.4v1.4h-1.4zM60.0 246.7h1.4v1.4h-1.4zM59.1 235.6h1.4v1.4h-1.4zM68.0 239.4h1.4v1.4h-1.4zM80.3 234.8h1.4v1.4h-1.4zM68.4 243.3h1.4v1.4h-1.4zM74.1 241.5h1.4v1.4h-1.4zM69.0 240.1h1.4v1.4h-1.4zM77.0 232.1h1.4v1.4h-1.4zM71.6 232.9h1.4v1.4h-1.4zM76.8 231.1h1.4v1.4h-1.4zM77.6 229.6h1.4v1.4h-1.4zM69.6 238.4h1.4v1.4h-1.4zM95.7 221.9h1.4v1.4h-1.4zM80.2 230.7h1.4v1.4h-1.4zM68.6 240.4h1.4v1.4h-1.4zM70.8 233.7h1.4v1.4h-1.4zM62.2 258.3h1.4v1.4h-1.4zM81.4 223.0h1.4v1.4h-1.4zM63.3 250.5h1.4v1.4h-1.4zM52.9 253.6h1.4v1.4h-1.4zM61.1 248.7h1.4v1.4h-1.4zM74.5 239.2h1.4v1.4h-1.4zM79.5 228.3h1.4v1.4h-1.4zM65.7 241.1h1.4v1.4h-1.4zM55.8 242.8h1.4v1.4h-1.4zM66.8 232.2h1.4v1.4h-1.4zM67.5 249.0h1.4v1.4h-1.4zM63.9 246.1h1.4v1.4h-1.4zM82.2 213.8h1.4v1.4h-1.4zM78.0 223.0h1.4v1.4h-1.4zM81.4 225.8h1.4v1.4h-1.4zM63.2 237.2h1.4v1.4h-1.4zM59.6 233.4h1.4v1.4h-1.4zM55.2 258.2h1.4v1.4h-1.4zM81.0 215.9h1.4v1.4h-1.4zM86.2 209.3h1.4v1.4h-1.4zM58.3 254.2h1.4v1.4h-1.4zM89.4 214.0h1.4v1.4h-1.4zM97.7 214.8h1.4v1.4h-1.4zM89.2 217.6h1.4v1.4h-1.4zM58.9 234.0h1.4v1.4h-1.4zM68.8 232.8h1.4v1.4h-1.4zM90.3 218.6h1.4v1.4h-1.4zM55.3 247.6h1.4v1.4h-1.4zM73.2 234.6h1.4v1.4h-1.4zM66.7 238.3h1.4v1.4h-1.4zM85.5 220.7h1.4v1.4h-1.4zM64.9 239.9h1.4v1.4h-1.4zM82.6 229.2h1.4v1.4h-1.4zM69.7 235.6h1.4v1.4h-1.4zM59.4 245.0h1.4v1.4h-1.4zM69.1 240.9h1.4v1.4h-1.4zM76.0 228.3h1.4v1.4h-1.4zM79.4 220.9h1.4v1.4h-1.4zM82.1 221.8h1.4v1.4h-1.4zM71.6 237.9h1.4v1.4h-1.4zM72.5 238.2h1.4v1.4h-1.4zM71.1 222.0h1.4v1.4h-1.4zM65.6 243.9h1.4v1.4h-1.4zM87.8 214.7h1.4v1.4h-1.4zM80.6 226.2h1.4v1.4h-1.4zM54.1 254.2h1.4v1.4h-1.4zM60.2 259.0h1.4v1.4h-1.4zM54.9 241.0h1.4v1.4h-1.4zM69.5 243.8h1.4v1.4h-1.4zM62.2 251.3h1.4v1.4h-1.4zM67.4 238.8h1.4v1.4h-1.4zM72.0 235.8h1.4v1.4h-1.4zM63.9 238.9h1.4v1.4h-1.4zM78.1 229.9h1.4v1.4h-1.4zM84.7 227.2h1.4v1.4h-1.4zM59.6 253.2h1.4v1.4h-1.4zM54.2 253.9h1.4v1.4h-1.4zM69.4 241.0h1.4v1.4h-1.4zM68.5 231.8h1.4v1.4h-1.4zM93.1 217.0h1.4v1.4h-1.4zM67.4 250.5h1.4v1.4h-1.4zM62.4 241.2h1.4v1.4h-1.4zM74.9 236.5h1.4v1.4h-1.4zM90.7 214.4h1.4v1.4h-1.4zM72.6 226.6h1.4v1.4h-1.4zM63.3 246.4h1.4v1.4h-1.4zM100.8 212.6h1.4v1.4h-1.4zM51.4 256.2h1.4v1.4h-1.4zM70.4 228.6h1.4v1.4h-1.4zM54.8 252.9h1.4v1.4h-1.4zM70.0 238.4h1.4v1.4h-1.4zM59.0 241.6h1.4v1.4h-1.4zM90.5 211.1h1.4v1.4h-1.4zM58.0 247.8h1.4v1.4h-1.4zM78.4 231.8h1.4v1.4h-1.4zM51.9 255.5h1.4v1.4h-1.4zM67.7 237.6h1.4v1.4h-1.4zM90.2 209.3h1.4v1.4h-1.4zM86.2 208.3h1.4v1.4h-1.4zM76.9 220.1h1.4v1.4h-1.4zM71.2 233.9h1.4v1.4h-1.4zM84.9 231.5h1.4v1.4h-1.4zM74.6 233.4h1.4v1.4h-1.4zM64.8 245.1h1.4v1.4h-1.4zM68.3 236.2h1.4v1.4h-1.4zM55.1 250.6h1.4v1.4h-1.4zM72.7 244.1h1.4v1.4h-1.4zM80.4 233.4h1.4v1.4h-1.4zM88.7 215.8h1.4v1.4h-1.4zM58.7 245.9h1.4v1.4h-1.4zM81.0 232.4h1.4v1.4h-1.4zM85.7 220.9h1.4v1.4h-1.4zM82.6 222.5h1.4v1.4h-1.4zM78.8 226.9h1.4v1.4h-1.4zM70.4 232.8h1.4v1.4h-1.4zM62.8 242.7h1.4v1.4h-1.4zM70.4 239.3h1.4v1.4h-1.4zM74.7 235.8h1.4v1.4h-1.4zM71.0 239.0h1.4v1.4h-1.4zM79.2 223.5h1.4v1.4h-1.4zM63.8 243.3h1.4v1.4h-1.4zM85.3 217.3h1.4v1.4h-1.4zM75.0 237.3h1.4v1.4h-1.4zM90.5 210.7h1.4v1.4h-1.4zM70.9 227.0h1.4v1.4h-1.4zM56.3 251.1h1.4v1.4h-1.4zM53.8 255.8h1.4v1.4h-1.4zM64.0 249.1h1.4v1.4h-1.4zM58.9 249.4h1.4v1.4h-1.4zM63.7 253.9h1.4v1.4h-1.4zM52.6 259.1h1.4v1.4h-1.4zM54.0 258.4h1.4v1.4h-1.4zM64.0 251.3h1.4v1.4h-1.4zM51.3 253.0h1.4v1.4h-1.4zM59.4 257.9h1.4v1.4h-1.4zM65.3 250.7h1.4v1.4h-1.4zM54.2 257.7h1.4v1.4h-1.4zM52.0 259.4h1.4v1.4h-1.4zM57.5 258.5h1.4v1.4h-1.4zM58.2 257.6h1.4v1.4h-1.4zM58.4 256.0h1.4v1.4h-1.4zM60.9 255.2h1.4v1.4h-1.4zM61.5 250.5h1.4v1.4h-1.4zM64.7 252.9h1.4v1.4h-1.4zM58.6 259.1h1.4v1.4h-1.4zM56.6 256.1h1.4v1.4h-1.4zM55.5 255.6h1.4v1.4h-1.4zM62.7 255.9h1.4v1.4h-1.4zM67.1 251.8h1.4v1.4h-1.4zM60.7 257.0h1.4v1.4h-1.4zM59.7 256.4h1.4v1.4h-1.4zM55.2 257.5h1.4v1.4h-1.4zM60.1 254.3h1.4v1.4h-1.4zM57.5 254.8h1.4v1.4h-1.4zM57.0 259.7h1.4v1.4h-1.4zM53.4 259.0h1.4v1.4h-1.4zM60.1 258.0h1.4v1.4h-1.4zM52.6 259.1h1.4v1.4h-1.4zM57.2 255.8h1.4v1.4h-1.4zM56.0 256.6h1.4v1.4h-1.4zM58.4 254.9h1.4v1.4h-1.4zM52.3 256.4h1.4v1.4h-1.4zM50.7 257.0h1.4v1.4h-1.4zM56.4 259.7h1.4v1.4h-1.4zM54.2 257.8h1.4v1.4h-1.4zM51.1 259.8h1.4v1.4h-1.4zM53.5 257.1h1.4v1.4h-1.4zM63.4 254.4h1.4v1.4h-1.4zM55.6 258.5h1.4v1.4h-1.4zM67.9 252.2h1.4v1.4h-1.4zM53.4 259.0h1.4v1.4h-1.4zM62.1 255.1h1.4v1.4h-1.4zM54.8 258.5h1.4v1.4h-1.4zM53.8 258.3h1.4v1.4h-1.4zM62.7 253.7h1.4v1.4h-1.4zM61.7 254.2h1.4v1.4h-1.4zM53.3 258.8h1.4v1.4h-1.4zM62.9 256.9h1.4v1.4h-1.4zM58.1 259.4h1.4v1.4h-1.4zM54.3 260.1h1.4v1.4h-1.4zM53.9 260.3h1.4v1.4h-1.4zM63.7 252.5h1.4v1.4h-1.4zM55.3 255.6h1.4v1.4h-1.4zM53.6 255.5h1.4v1.4h-1.4zM59.5 255.4h1.4v1.4h-1.4zM61.7 254.2h1.4v1.4h-1.4zM54.0 256.7h1.4v1.4h-1.4zM59.0 255.5h1.4v1.4h-1.4zM60.6 254.6h1.4v1.4h-1.4zM55.1 256.7h1.4v1.4h-1.4zM53.4 259.0h1.4v1.4h-1.4zM55.7 254.8h1.4v1.4h-1.4zM69.1 252.2h1.4v1.4h-1.4zM60.9 253.2h1.4v1.4h-1.4zM53.0 259.3h1.4v1.4h-1.4zM64.1 252.9h1.4v1.4h-1.4zM61.7 252.4h1.4v1.4h-1.4zM54.8 259.8h1.4v1.4h-1.4zM56.1 252.7h1.4v1.4h-1.4zM51.8 258.4h1.4v1.4h-1.4zM54.6 258.7h1.4v1.4h-1.4zM53.6 255.4h1.4v1.4h-1.4zM59.3 257.8h1.4v1.4h-1.4zM58.3 256.3h1.4v1.4h-1.4zM60.6 258.6h1.4v1.4h-1.4zM60.3 257.4h1.4v1.4h-1.4zM52.9 260.1h1.4v1.4h-1.4zM58.9 253.7h1.4v1.4h-1.4zM51.5 255.0h1.4v1.4h-1.4zM53.0 256.1h1.4v1.4h-1.4zM55.8 256.5h1.4v1.4h-1.4zM52.3 258.8h1.4v1.4h-1.4zM54.0 258.7h1.4v1.4h-1.4zM55.9 260.3h1.4v1.4h-1.4zM58.6 250.1h1.4v1.4h-1.4zM62.3 253.3h1.4v1.4h-1.4zM56.8 254.9h1.4v1.4h-1.4zM59.6 256.8h1.4v1.4h-1.4zM52.1 257.1h1.4v1.4h-1.4zM59.0 256.8h1.4v1.4h-1.4zM61.2 252.2h1.4v1.4h-1.4zM52.1 257.2h1.4v1.4h-1.4zM56.9 255.1h1.4v1.4h-1.4zM64.8 253.8h1.4v1.4h-1.4zM54.6 257.3h1.4v1.4h-1.4zM60.5 253.9h1.4v1.4h-1.4zM54.2 258.8h1.4v1.4h-1.4zM62.6 257.0h1.4v1.4h-1.4zM53.1 256.3h1.4v1.4h-1.4zM51.4 259.7h1.4v1.4h-1.4zM56.5 251.0h1.4v1.4h-1.4zM59.6 256.4h1.4v1.4h-1.4zM55.5 254.3h1.4v1.4h-1.4zM56.0 256.3h1.4v1.4h-1.4zM62.3 254.3h1.4v1.4h-1.4zM59.9 257.6h1.4v1.4h-1.4zM55.8 256.6h1.4v1.4h-1.4zM62.7 252.2h1.4v1.4h-1.4zM55.0 258.9h1.4v1.4h-1.4zM53.1 256.9h1.4v1.4h-1.4zM61.3 254.4h1.4v1.4h-1.4zM52.1 258.4h1.4v1.4h-1.4zM59.8 257.2h1.4v1.4h-1.4zM58.2 258.9h1.4v1.4h-1.4zM57.6 260.3h1.4v1.4h-1.4zM59.3 252.9h1.4v1.4h-1.4zM56.0 258.3h1.4v1.4h-1.4zM55.0 255.7h1.4v1.4h-1.4zM58.3 256.0h1.4v1.4h-1.4zM55.2 260.1h1.4v1.4h-1.4zM56.1 257.8h1.4v1.4h-1.4zM60.4 254.4h1.4v1.4h-1.4zM56.1 257.2h1.4v1.4h-1.4zM59.8 253.7h1.4v1.4h-1.4zM57.2 255.1h1.4v1.4h-1.4zM57.7 259.1h1.4v1.4h-1.4zM56.7 257.6h1.4v1.4h-1.4zM58.7 256.1h1.4v1.4h-1.4zM60.3 259.2h1.4v1.4h-1.4zM51.8 257.4h1.4v1.4h-1.4zM60.1 256.0h1.4v1.4h-1.4zM65.0 250.8h1.4v1.4h-1.4zM59.0 254.4h1.4v1.4h-1.4zM53.3 257.7h1.4v1.4h-1.4zM51.4 258.0h1.4v1.4h-1.4zM54.5 258.0h1.4v1.4h-1.4zM57.2 258.6h1.4v1.4h-1.4zM51.8 259.7h1.4v1.4h-1.4zM51.5 259.3h1.4v1.4h-1.4zM54.0 257.8h1.4v1.4h-1.4zM51.5 255.2h1.4v1.4h-1.4zM53.9 255.6h1.4v1.4h-1.4zM52.6 258.3h1.4v1.4h-1.4zM51.5 259.1h1.4v1.4h-1.4zM54.9 259.5h1.4v1.4h-1.4zM67.3 249.3h1.4v1.4h-1.4zM64.9 254.1h1.4v1.4h-1.4zM57.8 259.2h1.4v1.4h-1.4zM52.4 256.7h1.4v1.4h-1.4zM61.5 252.2h1.4v1.4h-1.4zM56.3 256.8h1.4v1.4h-1.4zM63.8 255.6h1.4v1.4h-1.4zM58.4 260.1h1.4v1.4h-1.4zM58.0 254.8h1.4v1.4h-1.4zM61.3 253.3h1.4v1.4h-1.4zM62.6 250.7h1.4v1.4h-1.4zM59.0 255.5h1.4v1.4h-1.4zM54.0 258.0h1.4v1.4h-1.4zM52.9 258.9h1.4v1.4h-1.4zM54.5 258.9h1.4v1.4h-1.4zM59.8 257.6h1.4v1.4h-1.4zM56.1 258.9h1.4v1.4h-1.4zM53.2 259.4h1.4v1.4h-1.4zM51.2 259.4h1.4v1.4h-1.4zM57.3 255.6h1.4v1.4h-1.4zM52.1 259.4h1.4v1.4h-1.4zM58.1 257.3h1.4v1.4h-1.4zM68.4 253.1h1.4v1.4h-1.4zM59.1 255.0h1.4v1.4h-1.4zM61.7 257.8h1.4v1.4h-1.4zM62.6 255.4h1.4v1.4h-1.4zM60.5 256.9h1.4v1.4h-1.4zM58.1 257.1h1.4v1.4h-1.4zM52.5 255.5h1.4v1.4h-1.4zM67.0 257.2h1.4v1.4h-1.4zM59.0 257.3h1.4v1.4h-1.4zM56.8 258.8h1.4v1.4h-1.4zM55.3 257.7h1.4v1.4h-1.4zM57.3 252.8h1.4v1.4h-1.4zM62.2 253.0h1.4v1.4h-1.4zM59.3 257.0h1.4v1.4h-1.4zM65.2 256.1h1.4v1.4h-1.4zM55.2 254.1h1.4v1.4h-1.4zM58.8 255.6h1.4v1.4h-1.4zM50.9 258.7h1.4v1.4h-1.4zM56.9 259.0h1.4v1.4h-1.4zM54.8 257.4h1.4v1.4h-1.4zM56.6 256.3h1.4v1.4h-1.4zM59.4 258.1h1.4v1.4h-1.4zM57.1 258.0h1.4v1.4h-1.4zM57.6 255.5h1.4v1.4h-1.4zM54.7 256.4h1.4v1.4h-1.4zM54.2 259.3h1.4v1.4h-1.4zM58.6 254.8h1.4v1.4h-1.4zM64.8 252.7h1.4v1.4h-1.4zM57.5 257.5h1.4v1.4h-1.4zM55.6 255.4h1.4v1.4h-1.4zM53.0 258.3h1.4v1.4h-1.4zM61.9 254.9h1.4v1.4h-1.4zM53.1 258.3h1.4v1.4h-1.4zM59.1 254.4h1.4v1.4h-1.4zM51.8 259.2h1.4v1.4h-1.4zM56.8 259.4h1.4v1.4h-1.4zM58.2 255.7h1.4v1.4h-1.4zM55.2 253.1h1.4v1.4h-1.4zM56.0 254.1h1.4v1.4h-1.4zM58.6 255.5h1.4v1.4h-1.4zM62.9 254.1h1.4v1.4h-1.4zM66.2 253.6h1.4v1.4h-1.4zM62.9 247.3h1.4v1.4h-1.4zM60.2 256.9h1.4v1.4h-1.4zM63.4 254.6h1.4v1.4h-1.4zM58.0 257.1h1.4v1.4h-1.4zM57.4 258.0h1.4v1.4h-1.4zM61.8 250.4h1.4v1.4h-1.4zM52.3 256.2h1.4v1.4h-1.4zM53.4 259.7h1.4v1.4h-1.4zM57.1 257.8h1.4v1.4h-1.4zM59.7 256.4h1.4v1.4h-1.4zM54.2 258.3h1.4v1.4h-1.4zM55.7 258.5h1.4v1.4h-1.4zM53.9 255.1h1.4v1.4h-1.4zM55.6 259.0h1.4v1.4h-1.4zM55.8 256.6h1.4v1.4h-1.4zM56.9 257.7h1.4v1.4h-1.4zM82.3 248.6h1.4v1.4h-1.4zM72.9 238.6h1.4v1.4h-1.4zM98.3 238.9h1.4v1.4h-1.4zM93.5 240.3h1.4v1.4h-1.4zM97.9 242.8h1.4v1.4h-1.4zM92.2 242.8h1.4v1.4h-1.4zM86.1 226.9h1.4v1.4h-1.4zM96.2 225.7h1.4v1.4h-1.4zM82.7 241.1h1.4v1.4h-1.4zM95.4 228.7h1.4v1.4h-1.4zM92.1 226.8h1.4v1.4h-1.4zM84.9 226.8h1.4v1.4h-1.4zM98.0 244.2h1.4v1.4h-1.4zM90.6 240.7h1.4v1.4h-1.4zM91.3 256.2h1.4v1.4h-1.4zM93.8 239.9h1.4v1.4h-1.4zM84.9 234.3h1.4v1.4h-1.4zM88.9 237.3h1.4v1.4h-1.4zM85.9 242.7h1.4v1.4h-1.4zM84.4 240.8h1.4v1.4h-1.4zM71.3 251.2h1.4v1.4h-1.4zM95.6 235.3h1.4v1.4h-1.4zM93.5 239.9h1.4v1.4h-1.4zM104.3 226.4h1.4v1.4h-1.4zM92.8 235.2h1.4v1.4h-1.4zM98.0 237.0h1.4v1.4h-1.4zM100.6 232.1h1.4v1.4h-1.4zM88.6 240.0h1.4v1.4h-1.4zM95.4 247.6h1.4v1.4h-1.4zM80.0 233.8h1.4v1.4h-1.4zM86.8 234.1h1.4v1.4h-1.4zM94.4 235.8h1.4v1.4h-1.4zM79.5 235.3h1.4v1.4h-1.4zM83.7 232.9h1.4v1.4h-1.4zM92.4 238.6h1.4v1.4h-1.4zM91.2 239.9h1.4v1.4h-1.4zM99.0 246.6h1.4v1.4h-1.4zM76.7 243.6h1.4v1.4h-1.4zM92.3 223.4h1.4v1.4h-1.4zM94.9 231.3h1.4v1.4h-1.4zM85.0 230.2h1.4v1.4h-1.4zM89.4 238.6h1.4v1.4h-1.4zM80.5 251.0h1.4v1.4h-1.4zM78.0 229.4h1.4v1.4h-1.4zM91.4 233.9h1.4v1.4h-1.4zM90.0 251.9h1.4v1.4h-1.4zM85.7 232.3h1.4v1.4h-1.4zM89.0 243.9h1.4v1.4h-1.4zM93.0 243.5h1.4v1.4h-1.4zM86.7 246.2h1.4v1.4h-1.4zM97.7 235.9h1.4v1.4h-1.4zM82.7 237.8h1.4v1.4h-1.4zM86.4 244.7h1.4v1.4h-1.4zM97.2 243.8h1.4v1.4h-1.4zM97.6 244.7h1.4v1.4h-1.4zM96.2 242.9h1.4v1.4h-1.4zM99.5 231.2h1.4v1.4h-1.4zM87.5 246.9h1.4v1.4h-1.4zM91.5 234.3h1.4v1.4h-1.4zM94.7 241.3h1.4v1.4h-1.4zM83.6 253.0h1.4v1.4h-1.4zM97.8 222.9h1.4v1.4h-1.4zM96.7 226.4h1.4v1.4h-1.4zM88.8 237.1h1.4v1.4h-1.4zM88.1 233.4h1.4v1.4h-1.4zM87.7 239.6h1.4v1.4h-1.4zM86.8 242.6h1.4v1.4h-1.4zM93.6 226.2h1.4v1.4h-1.4zM89.3 232.0h1.4v1.4h-1.4zM85.7 244.3h1.4v1.4h-1.4zM95.9 243.0h1.4v1.4h-1.4zM96.7 232.4h1.4v1.4h-1.4zM95.8 247.0h1.4v1.4h-1.4zM80.9 242.0h1.4v1.4h-1.4zM98.4 233.6h1.4v1.4h-1.4zM94.5 231.6h1.4v1.4h-1.4zM102.5 237.0h1.4v1.4h-1.4zM84.3 251.8h1.4v1.4h-1.4zM92.2 225.7h1.4v1.4h-1.4zM88.8 244.6h1.4v1.4h-1.4zM95.6 232.5h1.4v1.4h-1.4zM84.2 248.5h1.4v1.4h-1.4zM89.6 235.7h1.4v1.4h-1.4zM86.7 220.4h1.4v1.4h-1.4zM89.6 233.3h1.4v1.4h-1.4zM93.8 231.4h1.4v1.4h-1.4zM102.8 226.0h1.4v1.4h-1.4zM80.7 233.0h1.4v1.4h-1.4zM90.5 238.3h1.4v1.4h-1.4zM102.9 227.9h1.4v1.4h-1.4zM88.4 231.4h1.4v1.4h-1.4zM88.3 231.0h1.4v1.4h-1.4zM86.7 248.0h1.4v1.4h-1.4zM82.7 233.7h1.4v1.4h-1.4zM105.0 234.5h1.4v1.4h-1.4zM86.1 226.4h1.4v1.4h-1.4zM82.4 237.9h1.4v1.4h-1.4zM111.5 250.0h1.4v1.4h-1.4zM96.7 230.1h1.4v1.4h-1.4zM80.2 236.1h1.4v1.4h-1.4zM89.0 242.3h1.4v1.4h-1.4zM93.5 240.5h1.4v1.4h-1.4zM89.2 228.1h1.4v1.4h-1.4zM97.0 231.2h1.4v1.4h-1.4zM100.4 225.4h1.4v1.4h-1.4zM89.6 238.5h1.4v1.4h-1.4zM101.8 230.7h1.4v1.4h-1.4zM104.2 233.4h1.4v1.4h-1.4zM106.3 244.7h1.4v1.4h-1.4zM90.5 236.2h1.4v1.4h-1.4zM92.4 224.1h1.4v1.4h-1.4zM99.3 238.8h1.4v1.4h-1.4zM77.3 234.1h1.4v1.4h-1.4zM90.3 250.9h1.4v1.4h-1.4zM101.5 216.1h1.4v1.4h-1.4zM78.4 239.7h1.4v1.4h-1.4zM105.0 229.5h1.4v1.4h-1.4zM92.3 228.9h1.4v1.4h-1.4zM104.3 202.2h1.4v1.4h-1.4zM103.6 202.1h1.4v1.4h-1.4zM89.5 203.6h1.4v1.4h-1.4zM102.4 207.4h1.4v1.4h-1.4zM95.0 210.3h1.4v1.4h-1.4zM86.9 196.2h1.4v1.4h-1.4zM103.9 205.1h1.4v1.4h-1.4zM99.0 203.6h1.4v1.4h-1.4zM103.4 206.9h1.4v1.4h-1.4zM109.9 201.2h1.4v1.4h-1.4zM89.6 205.2h1.4v1.4h-1.4zM97.3 204.3h1.4v1.4h-1.4zM82.7 207.6h1.4v1.4h-1.4zM112.3 207.6h1.4v1.4h-1.4zM108.9 208.7h1.4v1.4h-1.4zM101.4 207.8h1.4v1.4h-1.4zM107.8 208.1h1.4v1.4h-1.4zM104.4 205.5h1.4v1.4h-1.4zM93.6 207.5h1.4v1.4h-1.4zM96.3 208.6h1.4v1.4h-1.4zM82.2 214.5h1.4v1.4h-1.4zM109.6 213.3h1.4v1.4h-1.4zM102.4 200.7h1.4v1.4h-1.4zM96.4 200.1h1.4v1.4h-1.4zM102.6 205.9h1.4v1.4h-1.4zM100.7 196.7h1.4v1.4h-1.4zM87.9 195.1h1.4v1.4h-1.4zM110.4 208.3h1.4v1.4h-1.4zM99.9 204.1h1.4v1.4h-1.4zM85.6 204.0h1.4v1.4h-1.4zM96.3 201.7h1.4v1.4h-1.4zM107.3 195.9h1.4v1.4h-1.4zM100.8 209.8h1.4v1.4h-1.4zM105.8 198.4h1.4v1.4h-1.4zM77.8 212.6h1.4v1.4h-1.4zM110.6 205.0h1.4v1.4h-1.4zM97.5 207.5h1.4v1.4h-1.4zM108.0 206.4h1.4v1.4h-1.4zM96.9 206.9h1.4v1.4h-1.4zM102.6 215.9h1.4v1.4h-1.4zM99.8 201.3h1.4v1.4h-1.4zM114.6 213.2h1.4v1.4h-1.4zM111.2 201.2h1.4v1.4h-1.4zM95.0 199.1h1.4v1.4h-1.4zM98.7 212.3h1.4v1.4h-1.4zM82.1 243.4h1.4v1.4h-1.4zM87.6 238.5h1.4v1.4h-1.4zM103.7 246.2h1.4v1.4h-1.4zM91.5 254.0h1.4v1.4h-1.4zM101.2 251.5h1.4v1.4h-1.4zM109.1 240.3h1.4v1.4h-1.4zM95.5 237.6h1.4v1.4h-1.4zM104.0 253.3h1.4v1.4h-1.4zM82.9 243.9h1.4v1.4h-1.4zM84.1 254.8h1.4v1.4h-1.4zM100.2 241.7h1.4v1.4h-1.4zM103.0 257.4h1.4v1.4h-1.4zM108.3 244.9h1.4v1.4h-1.4zM82.7 244.5h1.4v1.4h-1.4zM89.9 252.2h1.4v1.4h-1.4zM91.9 255.5h1.4v1.4h-1.4zM90.4 256.5h1.4v1.4h-1.4zM109.9 248.5h1.4v1.4h-1.4zM83.1 254.1h1.4v1.4h-1.4zM107.7 239.1h1.4v1.4h-1.4zM103.8 238.1h1.4v1.4h-1.4zM91.5 242.6h1.4v1.4h-1.4zM86.7 250.8h1.4v1.4h-1.4zM111.6 247.6h1.4v1.4h-1.4zM110.3 242.1h1.4v1.4h-1.4zM85.9 242.5h1.4v1.4h-1.4zM106.6 243.5h1.4v1.4h-1.4zM92.4 256.0h1.4v1.4h-1.4zM100.3 245.1h1.4v1.4h-1.4zM108.1 239.3h1.4v1.4h-1.4zM88.0 250.2h1.4v1.4h-1.4zM96.8 251.7h1.4v1.4h-1.4zM106.4 251.7h1.4v1.4h-1.4zM87.3 252.6h1.4v1.4h-1.4zM89.1 238.2h1.4v1.4h-1.4zM90.9 244.8h1.4v1.4h-1.4zM97.1 238.7h1.4v1.4h-1.4zM101.0 244.8h1.4v1.4h-1.4zM111.7 247.0h1.4v1.4h-1.4zM106.9 254.6h1.4v1.4h-1.4zM100.2 251.3h1.4v1.4h-1.4zM84.6 256.9h1.4v1.4h-1.4zM111.0 257.2h1.4v1.4h-1.4zM84.4 240.9h1.4v1.4h-1.4zM91.5 240.0h1.4v1.4h-1.4zM89.7 238.2h1.4v1.4h-1.4zM99.6 256.1h1.4v1.4h-1.4zM92.1 255.2h1.4v1.4h-1.4zM108.0 249.2h1.4v1.4h-1.4zM107.9 241.8h1.4v1.4h-1.4zM100.3 250.8h1.4v1.4h-1.4zM82.1 258.7h1.4v1.4h-1.4zM89.8 247.9h1.4v1.4h-1.4zM105.7 247.0h1.4v1.4h-1.4zM85.8 258.8h1.4v1.4h-1.4zM108.1 247.3h1.4v1.4h-1.4zM91.7 236.1h1.4v1.4h-1.4zM91.4 258.5h1.4v1.4h-1.4zM104.7 239.4h1.4v1.4h-1.4zM101.5 238.0h1.4v1.4h-1.4zM96.8 257.9h1.4v1.4h-1.4zM82.8 247.5h1.4v1.4h-1.4zM111.0 238.3h1.4v1.4h-1.4zM95.5 254.4h1.4v1.4h-1.4zM107.3 248.3h1.4v1.4h-1.4zM99.4 248.4h1.4v1.4h-1.4zM102.2 258.5h1.4v1.4h-1.4zM101.8 241.2h1.4v1.4h-1.4zM89.0 247.3h1.4v1.4h-1.4zM102.0 254.3h1.4v1.4h-1.4zM94.8 251.6h1.4v1.4h-1.4zM171.4 244.7h1.4v1.4h-1.4zM56.8 225.9h1.4v1.4h-1.4zM93.9 248.0h1.4v1.4h-1.4zM72.9 245.2h1.4v1.4h-1.4zM82.8 244.2h1.4v1.4h-1.4zM161.8 213.6h1.4v1.4h-1.4zM173.6 233.8h1.4v1.4h-1.4zM135.4 185.7h1.4v1.4h-1.4zM93.6 248.8h1.4v1.4h-1.4zM54.7 236.1h1.4v1.4h-1.4zM171.3 196.4h1.4v1.4h-1.4zM104.6 193.9h1.4v1.4h-1.4zM203.7 226.5h1.4v1.4h-1.4zM96.6 236.9h1.4v1.4h-1.4zM193.4 238.4h1.4v1.4h-1.4zM100.9 240.9h1.4v1.4h-1.4zM98.9 224.9h1.4v1.4h-1.4zM142.7 198.0h1.4v1.4h-1.4zM150.4 255.6h1.4v1.4h-1.4zM146.8 245.9h1.4v1.4h-1.4zM54.7 224.3h1.4v1.4h-1.4zM116.1 220.1h1.4v1.4h-1.4zM129.1 242.7h1.4v1.4h-1.4zM109.0 213.9h1.4v1.4h-1.4zM127.1 214.8h1.4v1.4h-1.4zM137.1 230.2h1.4v1.4h-1.4zM112.6 235.2h1.4v1.4h-1.4zM207.8 234.2h1.4v1.4h-1.4zM72.5 220.0h1.4v1.4h-1.4zM166.4 249.5h1.4v1.4h-1.4zM159.8 221.0h1.4v1.4h-1.4zM188.8 232.0h1.4v1.4h-1.4zM84.5 243.0h1.4v1.4h-1.4zM104.4 233.3h1.4v1.4h-1.4zM108.9 205.6h1.4v1.4h-1.4zM88.9 246.7h1.4v1.4h-1.4zM113.0 254.7h1.4v1.4h-1.4zM116.0 253.4h1.4v1.4h-1.4zM158.9 248.4h1.4v1.4h-1.4zM58.0 247.8h1.4v1.4h-1.4zM172.2 226.9h1.4v1.4h-1.4zM82.2 252.5h1.4v1.4h-1.4zM76.5 250.9h1.4v1.4h-1.4zM100.1 211.0h1.4v1.4h-1.4zM142.3 232.5h1.4v1.4h-1.4zM182.1 221.0h1.4v1.4h-1.4zM56.5 248.8h1.4v1.4h-1.4zM198.6 240.2h1.4v1.4h-1.4zM185.4 219.1h1.4v1.4h-1.4zM115.9 229.3h1.4v1.4h-1.4zM178.3 216.7h1.4v1.4h-1.4zM194.9 235.0h1.4v1.4h-1.4zM131.2 241.6h1.4v1.4h-1.4zM145.4 231.5h1.4v1.4h-1.4zM150.8 209.4h1.4v1.4h-1.4zM91.6 248.8h1.4v1.4h-1.4zM183.4 208.1h1.4v1.4h-1.4zM162.6 230.7h1.4v1.4h-1.4zM124.1 251.2h1.4v1.4h-1.4zM102.9 243.8h1.4v1.4h-1.4zM156.8 229.7h1.4v1.4h-1.4zM96.6 231.4h1.4v1.4h-1.4zM107.8 226.7h1.4v1.4h-1.4zM97.3 242.9h1.4v1.4h-1.4zM125.9 228.7h1.4v1.4h-1.4zM199.8 231.8h1.4v1.4h-1.4zM154.1 202.1h1.4v1.4h-1.4zM83.0 254.6h1.4v1.4h-1.4zM57.6 249.9h1.4v1.4h-1.4zM52.4 222.0h1.4v1.4h-1.4zM115.9 213.6h1.4v1.4h-1.4zM55.7 248.5h1.4v1.4h-1.4zM109.2 244.3h1.4v1.4h-1.4zM111.8 185.6h1.4v1.4h-1.4zM172.4 242.2h1.4v1.4h-1.4zM96.5 234.1h1.4v1.4h-1.4zM177.7 232.7h1.4v1.4h-1.4zM140.9 243.5h1.4v1.4h-1.4zM83.1 247.6h1.4v1.4h-1.4zM145.5 221.7h1.4v1.4h-1.4zM187.7 203.0h1.4v1.4h-1.4zM148.1 231.6h1.4v1.4h-1.4zM116.3 209.6h1.4v1.4h-1.4zM204.4 221.7h1.4v1.4h-1.4zM161.4 211.6h1.4v1.4h-1.4zM116.9 222.8h1.4v1.4h-1.4zM143.6 197.7h1.4v1.4h-1.4zM205.9 198.2h1.4v1.4h-1.4zM156.4 220.7h1.4v1.4h-1.4zM163.7 209.6h1.4v1.4h-1.4zM183.2 204.1h1.4v1.4h-1.4zM179.4 210.5h1.4v1.4h-1.4zM205.6 226.6h1.4v1.4h-1.4zM132.0 228.0h1.4v1.4h-1.4zM154.0 207.6h1.4v1.4h-1.4zM124.6 201.5h1.4v1.4h-1.4zM113.6 203.2h1.4v1.4h-1.4zM148.4 220.3h1.4v1.4h-1.4zM199.6 220.5h1.4v1.4h-1.4zM205.3 230.0h1.4v1.4h-1.4zM195.9 205.7h1.4v1.4h-1.4zM114.3 216.9h1.4v1.4h-1.4zM146.4 231.3h1.4v1.4h-1.4zM112.5 230.0h1.4v1.4h-1.4zM138.0 220.1h1.4v1.4h-1.4zM182.1 212.7h1.4v1.4h-1.4zM186.5 226.1h1.4v1.4h-1.4zM122.2 225.2h1.4v1.4h-1.4zM207.5 225.5h1.4v1.4h-1.4zM168.6 217.1h1.4v1.4h-1.4zM119.7 215.7h1.4v1.4h-1.4zM139.4 203.6h1.4v1.4h-1.4zM202.1 204.6h1.4v1.4h-1.4zM129.6 226.8h1.4v1.4h-1.4zM163.0 227.4h1.4v1.4h-1.4zM127.2 228.4h1.4v1.4h-1.4zM151.4 227.7h1.4v1.4h-1.4zM170.4 207.6h1.4v1.4h-1.4zM145.2 199.1h1.4v1.4h-1.4zM164.7 197.7h1.4v1.4h-1.4zM199.6 204.5h1.4v1.4h-1.4zM141.6 209.3h1.4v1.4h-1.4zM157.3 229.2h1.4v1.4h-1.4zM117.7 208.1h1.4v1.4h-1.4zM163.6 214.1h1.4v1.4h-1.4zM196.6 215.0h1.4v1.4h-1.4zM176.1 219.7h1.4v1.4h-1.4zM146.9 211.4h1.4v1.4h-1.4zM130.8 199.2h1.4v1.4h-1.4zM209.3 49.8h1.4v1.4h-1.4zM61.4 108.6h1.4v1.4h-1.4zM160.8 101.6h1.4v1.4h-1.4zM178.1 111.6h1.4v1.4h-1.4zM156.5 138.4h1.4v1.4h-1.4zM64.5 157.0h1.4v1.4h-1.4zM128.0 154.0h1.4v1.4h-1.4zM136.6 170.0h1.4v1.4h-1.4zM141.0 170.0h1.4v1.4h-1.4zM126.3 173.4h1.4v1.4h-1.4zM122.8 177.7h1.4v1.4h-1.4zM117.2 182.0h1.4v1.4h-1.4zM119.3 185.0h1.4v1.4h-1.4zM80.4 187.2h1.4v1.4h-1.4zM193.3 174.7h1.4v1.4h-1.4zM200.6 179.4h1.4v1.4h-1.4zM103.4 188.5h1.4v1.4h-1.4zM110.0 190.0h1.4v1.4h-1.4zM95.0 192.0h1.4v1.4h-1.4zM150.0 186.0h1.4v1.4h-1.4zM170.0 190.0h1.4v1.4h-1.4z"/>
<line x1="210" y1="159" x2="210" y2="238" stroke="#555" stroke-width="1.1" stroke-dasharray="1.3 0.7"/>
<ellipse cx="145.5" cy="236" rx="49" ry="25" fill="none" stroke="#ea3e40" stroke-width="1.4"/>
<text x="129.4" y="210.2" font-size="11.45" fill="#e83a3a" stroke="#e83a3a" stroke-width="0.3" textLength="24.2" lengthAdjust="spacingAndGlyphs" >Gate 1</text>
<text x="128.5" y="223.4" font-size="10.34" fill="#e83a3a" stroke="#e83a3a" stroke-width="0.3" textLength="27.8" lengthAdjust="spacingAndGlyphs" >45.72%</text>
<line x1="283.3" y1="17.6" x2="283.3" y2="264.8" stroke="#1c1c3c" stroke-width="1.7"/>
<line x1="282.5" y1="264.0" x2="444.5" y2="264.0" stroke="#1c1c3c" stroke-width="2"/>
<line x1="280.7" y1="18.5" x2="283.3" y2="18.5" stroke="#1c1c3c" stroke-width="1"/>
<line x1="282.0" y1="33.8" x2="283.3" y2="33.8" stroke="#1c1c3c" stroke-width="1"/>
<line x1="282.0" y1="49.2" x2="283.3" y2="49.2" stroke="#1c1c3c" stroke-width="1"/>
<line x1="282.0" y1="64.5" x2="283.3" y2="64.5" stroke="#1c1c3c" stroke-width="1"/>
<line x1="280.7" y1="79.9" x2="283.3" y2="79.9" stroke="#1c1c3c" stroke-width="1"/>
<line x1="282.0" y1="95.2" x2="283.3" y2="95.2" stroke="#1c1c3c" stroke-width="1"/>
<line x1="282.0" y1="110.6" x2="283.3" y2="110.6" stroke="#1c1c3c" stroke-width="1"/>
<line x1="282.0" y1="125.9" x2="283.3" y2="125.9" stroke="#1c1c3c" stroke-width="1"/>
<line x1="280.7" y1="141.2" x2="283.3" y2="141.2" stroke="#1c1c3c" stroke-width="1"/>
<line x1="282.0" y1="156.6" x2="283.3" y2="156.6" stroke="#1c1c3c" stroke-width="1"/>
<line x1="282.0" y1="171.9" x2="283.3" y2="171.9" stroke="#1c1c3c" stroke-width="1"/>
<line x1="282.0" y1="187.3" x2="283.3" y2="187.3" stroke="#1c1c3c" stroke-width="1"/>
<line x1="280.7" y1="202.6" x2="283.3" y2="202.6" stroke="#1c1c3c" stroke-width="1"/>
<line x1="282.0" y1="218.0" x2="283.3" y2="218.0" stroke="#1c1c3c" stroke-width="1"/>
<line x1="282.0" y1="233.3" x2="283.3" y2="233.3" stroke="#1c1c3c" stroke-width="1"/>
<line x1="282.0" y1="248.7" x2="283.3" y2="248.7" stroke="#1c1c3c" stroke-width="1"/>
<line x1="280.7" y1="264.0" x2="283.3" y2="264.0" stroke="#1c1c3c" stroke-width="1"/>
<line x1="284" y1="264.0" x2="284" y2="267.0" stroke="#1c1c3c" stroke-width="1"/>
<line x1="290.3" y1="264.0" x2="290.3" y2="265.8" stroke="#1c1c3c" stroke-width="0.8"/>
<line x1="294.0" y1="264.0" x2="294.0" y2="265.8" stroke="#1c1c3c" stroke-width="0.8"/>
<line x1="296.6" y1="264.0" x2="296.6" y2="265.8" stroke="#1c1c3c" stroke-width="0.8"/>
<line x1="298.7" y1="264.0" x2="298.7" y2="265.8" stroke="#1c1c3c" stroke-width="0.8"/>
<line x1="300.3" y1="264.0" x2="300.3" y2="265.8" stroke="#1c1c3c" stroke-width="0.8"/>
<line x1="301.7" y1="264.0" x2="301.7" y2="265.8" stroke="#1c1c3c" stroke-width="0.8"/>
<line x1="303.0" y1="264.0" x2="303.0" y2="265.8" stroke="#1c1c3c" stroke-width="0.8"/>
<line x1="304.0" y1="264.0" x2="304.0" y2="265.8" stroke="#1c1c3c" stroke-width="0.8"/>
<line x1="305" y1="264.0" x2="305" y2="267.0" stroke="#1c1c3c" stroke-width="1"/>
<line x1="312.9" y1="264.0" x2="312.9" y2="265.8" stroke="#1c1c3c" stroke-width="0.8"/>
<line x1="317.6" y1="264.0" x2="317.6" y2="265.8" stroke="#1c1c3c" stroke-width="0.8"/>
<line x1="320.9" y1="264.0" x2="320.9" y2="265.8" stroke="#1c1c3c" stroke-width="0.8"/>
<line x1="323.5" y1="264.0" x2="323.5" y2="265.8" stroke="#1c1c3c" stroke-width="0.8"/>
<line x1="325.5" y1="264.0" x2="325.5" y2="265.8" stroke="#1c1c3c" stroke-width="0.8"/>
<line x1="327.3" y1="264.0" x2="327.3" y2="265.8" stroke="#1c1c3c" stroke-width="0.8"/>
<line x1="328.8" y1="264.0" x2="328.8" y2="265.8" stroke="#1c1c3c" stroke-width="0.8"/>
<line x1="330.2" y1="264.0" x2="330.2" y2="265.8" stroke="#1c1c3c" stroke-width="0.8"/>
<line x1="331.4" y1="264.0" x2="331.4" y2="267.0" stroke="#1c1c3c" stroke-width="1"/>
<line x1="339.4" y1="264.0" x2="339.4" y2="265.8" stroke="#1c1c3c" stroke-width="0.8"/>
<line x1="344.1" y1="264.0" x2="344.1" y2="265.8" stroke="#1c1c3c" stroke-width="0.8"/>
<line x1="347.4" y1="264.0" x2="347.4" y2="265.8" stroke="#1c1c3c" stroke-width="0.8"/>
<line x1="350.0" y1="264.0" x2="350.0" y2="265.8" stroke="#1c1c3c" stroke-width="0.8"/>
<line x1="352.1" y1="264.0" x2="352.1" y2="265.8" stroke="#1c1c3c" stroke-width="0.8"/>
<line x1="353.9" y1="264.0" x2="353.9" y2="265.8" stroke="#1c1c3c" stroke-width="0.8"/>
<line x1="355.4" y1="264.0" x2="355.4" y2="265.8" stroke="#1c1c3c" stroke-width="0.8"/>
<line x1="356.8" y1="264.0" x2="356.8" y2="265.8" stroke="#1c1c3c" stroke-width="0.8"/>
<line x1="358" y1="264.0" x2="358" y2="267.0" stroke="#1c1c3c" stroke-width="1"/>
<line x1="366.0" y1="264.0" x2="366.0" y2="265.8" stroke="#1c1c3c" stroke-width="0.8"/>
<line x1="370.6" y1="264.0" x2="370.6" y2="265.8" stroke="#1c1c3c" stroke-width="0.8"/>
<line x1="374.0" y1="264.0" x2="374.0" y2="265.8" stroke="#1c1c3c" stroke-width="0.8"/>
<line x1="376.5" y1="264.0" x2="376.5" y2="265.8" stroke="#1c1c3c" stroke-width="0.8"/>
<line x1="378.6" y1="264.0" x2="378.6" y2="265.8" stroke="#1c1c3c" stroke-width="0.8"/>
<line x1="380.4" y1="264.0" x2="380.4" y2="265.8" stroke="#1c1c3c" stroke-width="0.8"/>
<line x1="381.9" y1="264.0" x2="381.9" y2="265.8" stroke="#1c1c3c" stroke-width="0.8"/>
<line x1="383.3" y1="264.0" x2="383.3" y2="265.8" stroke="#1c1c3c" stroke-width="0.8"/>
<line x1="384.5" y1="264.0" x2="384.5" y2="267.0" stroke="#1c1c3c" stroke-width="1"/>
<line x1="392.5" y1="264.0" x2="392.5" y2="265.8" stroke="#1c1c3c" stroke-width="0.8"/>
<line x1="397.1" y1="264.0" x2="397.1" y2="265.8" stroke="#1c1c3c" stroke-width="0.8"/>
<line x1="400.5" y1="264.0" x2="400.5" y2="265.8" stroke="#1c1c3c" stroke-width="0.8"/>
<line x1="403.0" y1="264.0" x2="403.0" y2="265.8" stroke="#1c1c3c" stroke-width="0.8"/>
<line x1="405.1" y1="264.0" x2="405.1" y2="265.8" stroke="#1c1c3c" stroke-width="0.8"/>
<line x1="406.9" y1="264.0" x2="406.9" y2="265.8" stroke="#1c1c3c" stroke-width="0.8"/>
<line x1="408.4" y1="264.0" x2="408.4" y2="265.8" stroke="#1c1c3c" stroke-width="0.8"/>
<line x1="409.8" y1="264.0" x2="409.8" y2="265.8" stroke="#1c1c3c" stroke-width="0.8"/>
<line x1="411" y1="264.0" x2="411" y2="267.0" stroke="#1c1c3c" stroke-width="1"/>
<line x1="419.0" y1="264.0" x2="419.0" y2="265.8" stroke="#1c1c3c" stroke-width="0.8"/>
<line x1="423.6" y1="264.0" x2="423.6" y2="265.8" stroke="#1c1c3c" stroke-width="0.8"/>
<line x1="427.0" y1="264.0" x2="427.0" y2="265.8" stroke="#1c1c3c" stroke-width="0.8"/>
<line x1="429.5" y1="264.0" x2="429.5" y2="265.8" stroke="#1c1c3c" stroke-width="0.8"/>
<line x1="431.6" y1="264.0" x2="431.6" y2="265.8" stroke="#1c1c3c" stroke-width="0.8"/>
<line x1="433.4" y1="264.0" x2="433.4" y2="265.8" stroke="#1c1c3c" stroke-width="0.8"/>
<line x1="434.9" y1="264.0" x2="434.9" y2="265.8" stroke="#1c1c3c" stroke-width="0.8"/>
<line x1="436.3" y1="264.0" x2="436.3" y2="265.8" stroke="#1c1c3c" stroke-width="0.8"/>
<line x1="437.5" y1="264.0" x2="437.5" y2="267.0" stroke="#1c1c3c" stroke-width="1"/>
<text x="264.5" y="21.3" font-size="7.68" fill="#34348a" stroke="#34348a" stroke-width="0.3" textLength="14.3" lengthAdjust="spacingAndGlyphs" >100</text>
<text x="270.6" y="83.2" font-size="8.38" fill="#34348a" stroke="#34348a" stroke-width="0.3" textLength="8.2" lengthAdjust="spacingAndGlyphs" >75</text>
<text x="269.8" y="206.4" font-size="7.68" fill="#34348a" stroke="#34348a" stroke-width="0.3" textLength="9.0" lengthAdjust="spacingAndGlyphs" >25</text>
<text x="274.3" y="267.4" font-size="7.54" fill="#34348a" stroke="#34348a" stroke-width="0.3" textLength="3.9" lengthAdjust="spacingAndGlyphs" >0</text>
<text transform="translate(277.3,145.4) rotate(-90)" x="0" y="0" font-size="9.4" fill="#34348a" stroke="#34348a" stroke-width="0.3" textLength="8.4" lengthAdjust="spacingAndGlyphs" font-family="Liberation Sans, Arial, sans-serif">50</text>
<text transform="translate(262.2,158.75) rotate(-90)" x="0" y="0" font-size="10.8" fill="#40409a" textLength="35.7" lengthAdjust="spacingAndGlyphs" font-family="Liberation Sans, Arial, sans-serif">Count</text>
<text x="278.6" y="287.4" font-size="9.4" fill="#34348a" stroke="#34348a" stroke-width="0.3" font-family="Liberation Sans, Arial, sans-serif"><tspan textLength="8.4" lengthAdjust="spacingAndGlyphs">10</tspan><tspan dx="0.5" dy="-7.4" font-size="5.6">1</tspan></text>
<text x="298.6" y="287.4" font-size="9.4" fill="#34348a" stroke="#34348a" stroke-width="0.3" font-family="Liberation Sans, Arial, sans-serif"><tspan textLength="8.4" lengthAdjust="spacingAndGlyphs">10</tspan><tspan dx="0.5" dy="-7.4" font-size="5.6">2</tspan></text>
<text x="325.0" y="287.4" font-size="9.4" fill="#34348a" stroke="#34348a" stroke-width="0.3" font-family="Liberation Sans, Arial, sans-serif"><tspan textLength="8.4" lengthAdjust="spacingAndGlyphs">10</tspan><tspan dx="0.5" dy="-7.4" font-size="5.6">3</tspan></text>
<text x="351.8" y="287.4" font-size="9.4" fill="#34348a" stroke="#34348a" stroke-width="0.3" font-family="Liberation Sans, Arial, sans-serif"><tspan textLength="8.4" lengthAdjust="spacingAndGlyphs">10</tspan><tspan dx="0.5" dy="-7.4" font-size="5.6">4</tspan></text>
<text x="378.7" y="287.4" font-size="9.4" fill="#34348a" stroke="#34348a" stroke-width="0.3" font-family="Liberation Sans, Arial, sans-serif"><tspan textLength="8.4" lengthAdjust="spacingAndGlyphs">10</tspan><tspan dx="0.5" dy="-7.4" font-size="5.6">5</tspan></text>
<text x="405.5" y="287.4" font-size="9.4" fill="#34348a" stroke="#34348a" stroke-width="0.3" font-family="Liberation Sans, Arial, sans-serif"><tspan textLength="8.4" lengthAdjust="spacingAndGlyphs">10</tspan><tspan dx="0.5" dy="-7.4" font-size="5.6">6</tspan></text>
<text x="431.8" y="287.4" font-size="9.4" fill="#34348a" stroke="#34348a" stroke-width="0.3" font-family="Liberation Sans, Arial, sans-serif"><tspan textLength="8.4" lengthAdjust="spacingAndGlyphs">10</tspan><tspan dx="0.5" dy="-7.4" font-size="5.6">7</tspan></text>
<path d="M360.0 264.0 L360.4 264.0 L360.9 263.8 L361.3 262.8 L361.8 262.3 L362.2 263.3 L362.7 262.0 L363.1 261.0 L363.6 261.6 L364.0 260.3 L364.5 259.7 L364.9 256.4 L365.4 256.5 L365.8 255.5 L366.3 252.2 L366.7 255.0 L367.2 253.9 L367.6 257.2 L368.1 252.2 L368.5 250.6 L369.0 252.6 L369.4 249.5 L369.9 250.3 L370.3 246.4 L370.8 246.9 L371.2 247.7 L371.7 245.5 L372.1 242.5 L372.6 237.6 L373.0 240.5 L373.5 237.9 L373.9 238.5 L374.4 233.9 L374.8 234.1 L375.3 226.7 L375.7 224.6 L376.2 223.2 L376.6 211.0 L377.1 210.1 L377.5 205.5 L378.0 214.0 L378.4 191.9 L378.9 186.8 L379.3 177.2 L379.8 160.6 L380.2 140.3 L380.7 151.5 L381.1 129.4 L381.6 128.8 L382.0 100.1 L382.5 96.5 L382.9 100.5 L383.4 91.9 L383.8 60.5 L384.3 45.2 L384.7 49.8 L385.2 69.8 L385.6 78.3 L386.1 86.1 L386.5 83.5 L387.0 104.8 L387.4 118.4 L387.9 113.9 L388.3 113.8 L388.8 128.4 L389.2 148.3 L389.7 133.8 L390.1 155.1 L390.6 155.4 L391.0 169.7 L391.5 174.9 L391.9 182.8 L392.4 198.6 L392.8 196.2 L393.3 206.0 L393.7 201.7 L394.2 204.4 L394.6 213.4 L395.1 202.5 L395.5 220.3 L396.0 225.7 L396.4 223.7 L396.9 233.4 L397.3 233.3 L397.8 231.0 L398.2 240.4 L398.7 240.2 L399.1 243.3 L399.6 246.0 L400.0 251.0 L400.5 249.4 L400.9 250.2 L401.4 252.1 L401.8 249.0 L402.3 255.8 L402.7 252.7 L403.2 256.4 L403.6 255.0 L404.1 256.4 L404.5 258.4 L405.0 262.5 L405.4 261.3 L405.9 260.1 L406.3 261.0 L406.8 260.4 L407.2 262.2 L407.7 262.1 L408.1 263.8 L408.6 261.7 L409.0 262.9 L409.5 262.5 L409.9 262.7 L410.4 264.0 L410.8 263.8 L411.3 264.0 L411.7 264.0" fill="none" stroke="#1f8a2c" stroke-width="1.7" stroke-linejoin="round"/>
<path d="M362.0 264.0 L362.4 263.0 L362.9 263.7 L363.3 263.1 L363.8 263.6 L364.2 260.7 L364.7 261.5 L365.1 260.7 L365.6 260.0 L366.0 259.8 L366.5 259.3 L366.9 258.7 L367.4 256.9 L367.8 257.9 L368.3 255.5 L368.7 250.0 L369.2 256.4 L369.6 252.5 L370.1 250.7 L370.5 251.6 L371.0 250.5 L371.4 248.6 L371.9 245.0 L372.3 246.0 L372.8 240.0 L373.2 246.4 L373.7 237.4 L374.1 238.5 L374.6 236.5 L375.0 234.4 L375.5 230.1 L375.9 230.1 L376.4 211.0 L376.8 220.5 L377.3 215.7 L377.7 209.7 L378.2 215.3 L378.6 196.3 L379.1 193.7 L379.5 173.7 L380.0 181.0 L380.4 158.8 L380.9 149.9 L381.3 168.8 L381.8 148.0 L382.2 134.1 L382.7 126.2 L383.1 109.1 L383.6 104.6 L384.0 103.5 L384.5 88.1 L384.9 92.3 L385.4 88.0 L385.8 89.4 L386.3 88.0 L386.7 101.5 L387.2 108.0 L387.6 109.8 L388.1 110.3 L388.5 125.1 L389.0 138.7 L389.4 138.1 L389.9 153.1 L390.3 164.2 L390.8 162.4 L391.2 165.4 L391.7 179.5 L392.1 177.8 L392.6 190.7 L393.0 187.7 L393.5 204.0 L393.9 197.1 L394.4 197.4 L394.8 208.3 L395.3 209.2 L395.7 212.5 L396.2 220.9 L396.6 228.6 L397.1 220.9 L397.5 232.3 L398.0 235.3 L398.4 238.8 L398.9 243.5 L399.3 239.6 L399.8 246.6 L400.2 246.2 L400.7 248.8 L401.1 249.7 L401.6 250.8 L402.0 251.7 L402.5 254.7 L402.9 258.9 L403.4 258.2 L403.8 258.8 L404.3 259.3 L404.7 258.7 L405.2 261.1 L405.6 263.7 L406.1 260.4 L406.5 263.1 L407.0 263.5 L407.4 262.9 L407.9 263.7 L408.3 264.0 L408.8 264.0 L409.2 264.0 L409.7 264.0" fill="none" stroke="#ffa200" stroke-width="1.7" stroke-linejoin="round"/>
<path d="M368.0 264.0 L368.4 264.0 L368.9 262.6 L369.3 264.0 L369.8 262.8 L370.2 262.6 L370.7 264.0 L371.1 262.6 L371.6 262.2 L372.0 262.8 L372.5 262.7 L372.9 260.7 L373.4 260.9 L373.8 258.2 L374.3 258.4 L374.7 257.7 L375.2 255.6 L375.6 254.3 L376.1 253.1 L376.5 254.5 L377.0 253.7 L377.4 252.5 L377.9 252.3 L378.3 248.6 L378.8 250.2 L379.2 250.0 L379.7 250.3 L380.1 245.7 L380.6 245.4 L381.0 240.2 L381.5 242.7 L381.9 236.9 L382.4 237.7 L382.8 243.5 L383.3 232.7 L383.7 240.4 L384.2 237.8 L384.6 234.6 L385.1 235.9 L385.5 235.0 L386.0 235.6 L386.4 229.9 L386.9 227.3 L387.3 226.0 L387.8 223.2 L388.2 225.5 L388.7 220.1 L389.1 223.8 L389.6 207.0 L390.0 206.2 L390.5 202.9 L390.9 193.5 L391.4 209.5 L391.8 184.1 L392.3 191.0 L392.7 186.0 L393.2 193.0 L393.6 171.4 L394.1 182.1 L394.5 169.8 L395.0 168.4 L395.4 162.5 L395.9 163.0 L396.3 154.5 L396.8 154.5 L397.2 152.5 L397.7 153.7 L398.1 147.0 L398.6 151.6 L399.0 152.2 L399.5 150.9 L399.9 158.7 L400.4 162.0 L400.8 179.1 L401.3 182.0 L401.7 188.9 L402.2 197.9 L402.6 205.7 L403.1 211.0 L403.5 213.0 L404.0 230.4 L404.4 217.4 L404.9 214.4 L405.3 230.3 L405.8 233.2 L406.2 237.0 L406.7 236.7 L407.1 238.4 L407.6 241.3 L408.0 244.5 L408.5 242.2 L408.9 243.9 L409.4 250.5 L409.8 247.8 L410.3 245.0 L410.7 253.3 L411.2 250.6 L411.6 248.4 L412.1 248.0 L412.5 251.8 L413.0 250.4 L413.4 250.4 L413.9 250.5 L414.3 252.4 L414.8 255.8 L415.2 253.5 L415.7 252.2 L416.1 256.3 L416.6 255.7 L417.0 257.4 L417.5 258.3 L417.9 256.4 L418.4 256.7 L418.8 257.2 L419.3 255.8 L419.7 258.8 L420.2 260.2 L420.6 258.9 L421.1 258.8 L421.5 259.2 L422.0 259.0 L422.4 259.4 L422.9 260.4 L423.3 260.3 L423.8 261.3 L424.2 260.3 L424.7 262.7 L425.1 262.6 L425.6 261.5 L426.0 260.5 L426.5 263.2 L426.9 264.0 L427.4 262.9 L427.8 263.4" fill="none" stroke="#1a1aff" stroke-width="1.7" stroke-linejoin="round"/>
<path d="M372.0 264.0 L372.4 264.0 L372.9 263.1 L373.3 263.7 L373.8 264.0 L374.2 263.3 L374.7 264.0 L375.1 261.4 L375.6 262.3 L376.0 261.1 L376.5 260.3 L376.9 260.3 L377.4 260.2 L377.8 259.8 L378.3 259.3 L378.7 261.2 L379.2 258.5 L379.6 254.0 L380.1 256.1 L380.5 253.8 L381.0 253.1 L381.4 255.5 L381.9 251.8 L382.3 247.4 L382.8 251.0 L383.2 248.9 L383.7 246.0 L384.1 245.4 L384.6 244.5 L385.0 244.4 L385.5 241.9 L385.9 241.7 L386.4 245.3 L386.8 236.1 L387.3 234.2 L387.7 233.9 L388.2 236.5 L388.6 228.4 L389.1 234.1 L389.5 222.1 L390.0 221.0 L390.4 221.0 L390.9 213.7 L391.3 210.9 L391.8 211.7 L392.2 209.0 L392.7 202.2 L393.1 196.4 L393.6 199.4 L394.0 191.2 L394.5 184.1 L394.9 184.8 L395.4 173.2 L395.8 171.9 L396.3 169.3 L396.7 164.7 L397.2 163.0 L397.6 165.9 L398.1 165.5 L398.5 167.1 L399.0 169.4 L399.4 179.5 L399.9 177.3 L400.3 187.9 L400.8 189.6 L401.2 191.4 L401.7 199.1 L402.1 199.8 L402.6 201.7 L403.0 197.4 L403.5 207.1 L403.9 214.8 L404.4 217.1 L404.8 223.2 L405.3 229.0 L405.7 227.8 L406.2 235.8 L406.6 225.7 L407.1 232.5 L407.5 227.7 L408.0 240.5 L408.4 239.5 L408.9 245.2 L409.3 240.6 L409.8 237.4 L410.2 247.3 L410.7 241.9 L411.1 243.2 L411.6 246.6 L412.0 249.2 L412.5 247.4 L412.9 249.7 L413.4 246.0 L413.8 254.3 L414.3 251.1 L414.7 251.8 L415.2 253.0 L415.6 252.6 L416.1 253.0 L416.5 251.2 L417.0 253.0 L417.4 254.4 L417.9 255.8 L418.3 254.4 L418.8 255.5 L419.2 256.6 L419.7 257.7 L420.1 257.9 L420.6 258.0 L421.0 258.3 L421.5 261.0 L421.9 260.3 L422.4 260.4 L422.8 264.0 L423.3 262.4 L423.7 262.8 L424.2 262.4 L424.6 261.5 L425.1 264.0 L425.5 263.1 L426.0 263.4 L426.4 264.0 L426.9 264.0 L427.3 264.0 L427.8 264.0" fill="none" stroke="#80108a" stroke-width="1.7" stroke-linejoin="round"/>
<path d="M398.0 262.8 L398.4 262.6 L398.9 264.0 L399.3 260.9 L399.8 262.9 L400.2 260.4 L400.7 263.9 L401.1 262.7 L401.6 263.8 L402.0 261.3 L402.5 261.2 L402.9 259.1 L403.4 257.2 L403.8 257.3 L404.3 253.8 L404.7 254.0 L405.2 254.5 L405.6 251.5 L406.1 248.7 L406.5 252.8 L407.0 246.1 L407.4 241.3 L407.9 240.2 L408.3 234.9 L408.8 232.1 L409.2 225.9 L409.7 227.7 L410.1 210.2 L410.6 202.4 L411.0 196.8 L411.5 198.9 L411.9 180.3 L412.4 172.8 L412.8 187.2 L413.3 158.4 L413.7 161.5 L414.2 164.2 L414.6 170.0 L415.1 147.1 L415.5 133.3 L416.0 142.0 L416.4 128.8 L416.9 120.9 L417.3 114.3 L417.8 117.3 L418.2 122.9 L418.7 122.7 L419.1 125.3 L419.6 123.6 L420.0 117.3 L420.5 113.7 L420.9 126.3 L421.4 135.0 L421.8 133.7 L422.3 141.1 L422.7 154.2 L423.2 153.6 L423.6 159.4 L424.1 169.9 L424.5 175.1 L425.0 178.6 L425.4 169.9 L425.9 195.7 L426.3 189.4 L426.8 188.5 L427.2 206.9 L427.7 211.2 L428.1 217.0 L428.6 226.9 L429.0 236.7 L429.5 235.6 L429.9 244.0 L430.4 248.6 L430.8 243.5 L431.3 248.0 L431.7 253.8 L432.2 251.7 L432.6 255.8 L433.1 259.8 L433.5 260.8 L434.0 261.7 L434.4 259.2 L434.9 264.0 L435.3 263.0 L435.8 263.6 L436.2 263.8 L436.7 261.9" fill="none" stroke="#222" stroke-width="1.15" stroke-linejoin="round"/>
<path d="M400.0 264.0 L400.4 262.0 L400.9 262.7 L401.3 263.4 L401.8 264.0 L402.2 262.9 L402.7 260.8 L403.1 262.8 L403.6 260.8 L404.0 263.3 L404.5 260.5 L404.9 262.1 L405.4 258.5 L405.8 256.1 L406.3 254.2 L406.7 254.9 L407.2 255.3 L407.6 254.9 L408.1 250.6 L408.5 245.8 L409.0 246.3 L409.4 237.1 L409.9 238.9 L410.3 231.0 L410.8 235.2 L411.2 228.5 L411.7 219.9 L412.1 207.2 L412.6 206.9 L413.0 197.1 L413.5 184.5 L413.9 178.7 L414.4 184.6 L414.8 169.4 L415.3 170.2 L415.7 172.0 L416.2 152.3 L416.6 166.5 L417.1 158.6 L417.5 146.1 L418.0 139.8 L418.4 134.1 L418.9 135.9 L419.3 122.9 L419.8 129.1 L420.2 124.1 L420.7 122.0 L421.1 122.6 L421.6 126.6 L422.0 138.4 L422.5 155.4 L422.9 152.3 L423.4 168.5 L423.8 173.8 L424.3 176.0 L424.7 192.3 L425.2 197.1 L425.6 206.8 L426.1 211.9 L426.5 223.0 L427.0 218.7 L427.4 223.3 L427.9 229.0 L428.3 232.0 L428.8 232.5 L429.2 244.9 L429.7 241.1 L430.1 243.9 L430.6 244.8 L431.0 249.3 L431.5 255.4 L431.9 256.4 L432.4 253.2 L432.8 253.0 L433.3 253.4 L433.7 253.3 L434.2 258.0 L434.6 258.5 L435.1 262.9 L435.5 260.8 L436.0 260.8 L436.4 260.9 L436.9 262.0" fill="none" stroke="#ff0a0a" stroke-width="2.0" stroke-linejoin="round"/>
<text x="379.1" y="24.8" font-size="13.13" font-weight="bold" fill="#000" stroke="#000" stroke-width="0.3" textLength="10.7" lengthAdjust="spacingAndGlyphs" >T3</text>
<text x="375.8" y="36.7" font-size="10.8" fill="#555" stroke="#555" stroke-width="0.2" textLength="17.9" lengthAdjust="spacingAndGlyphs" font-family="Liberation Sans, Arial, sans-serif">(72h)</text>
<text x="414.1" y="94.6" font-size="12.99" font-weight="bold" fill="#000" stroke="#000" stroke-width="0.3" textLength="10.7" lengthAdjust="spacingAndGlyphs" >T1</text>
<text x="410.8" y="106.8" font-size="10.8" fill="#555" stroke="#555" stroke-width="0.2" textLength="17.9" lengthAdjust="spacingAndGlyphs" font-family="Liberation Sans, Arial, sans-serif">(24h)</text>
<text x="397.6" y="131.7" font-size="12.85" font-weight="bold" fill="#000" stroke="#000" stroke-width="0.3" textLength="10.6" lengthAdjust="spacingAndGlyphs" >T2</text>
<text x="394.4" y="143.3" font-size="10.8" fill="#555" stroke="#555" stroke-width="0.2" textLength="17.8" lengthAdjust="spacingAndGlyphs" font-family="Liberation Sans, Arial, sans-serif">(48h)</text>
<text x="459.3" y="31.7" font-size="14.39" font-weight="bold" fill="#000" stroke="#000" stroke-width="0.5" textLength="73.7" lengthAdjust="spacingAndGlyphs" >CFSE staining</text>
<text x="451.5" y="160.2" font-size="12.85" font-weight="bold" fill="#000" stroke="#000" stroke-width="0.3" textLength="10.6" lengthAdjust="spacingAndGlyphs" >T1</text>
<line x1="464.2" y1="155.7" x2="466.6" y2="155.7" stroke="#333" stroke-width="1.2"/>
<path d="M469.0 144.29999999999998 Q467.0 144.29999999999998 467.0 146.79999999999998 L467.0 153.75 Q467.0 155.75 465.4 155.75 Q467.0 155.75 467.0 157.75 L467.0 164.7 Q467.0 167.2 469.0 167.2" fill="none" stroke="#333" stroke-width="0.9"/>
<line x1="471.6" y1="147.7" x2="482.5" y2="147.7" stroke="#000" stroke-width="2.1"/>
<line x1="471.6" y1="163.0" x2="482.6" y2="163.0" stroke="#ff0000" stroke-width="2.1"/>
<text x="484.2" y="150.0" font-size="10.06" font-weight="bold" fill="#000" stroke="#000" stroke-width="0.3" textLength="43.1" lengthAdjust="spacingAndGlyphs" >A2780 cells</text>
<text x="486.0" y="166.0" font-size="10.1" font-weight="bold" fill="#000" stroke="#000" stroke-width="0.3" font-family="Liberation Sans, Arial, sans-serif"><tspan textLength="25.6" lengthAdjust="spacingAndGlyphs">+ Ddx4</tspan><tspan dx="0.9" dy="-3.6" font-size="6">+</tspan><tspan dy="3.6" dx="1.6" textLength="17.5" lengthAdjust="spacingAndGlyphs">cells</tspan></text>
<text x="451.5" y="206.6" font-size="12.85" font-weight="bold" fill="#000" stroke="#000" stroke-width="0.3" textLength="10.6" lengthAdjust="spacingAndGlyphs" >T2</text>
<line x1="464.2" y1="202.1" x2="466.6" y2="202.1" stroke="#333" stroke-width="1.2"/>
<path d="M469.0 190.79999999999998 Q467.0 190.79999999999998 467.0 193.29999999999998 L467.0 200.2 Q467.0 202.2 465.4 202.2 Q467.0 202.2 467.0 204.2 L467.0 211.1 Q467.0 213.6 469.0 213.6" fill="none" stroke="#333" stroke-width="0.9"/>
<line x1="471.6" y1="194.2" x2="482.5" y2="194.2" stroke="#1b3cff" stroke-width="2.1"/>
<line x1="471.6" y1="209.4" x2="482.6" y2="209.4" stroke="#a23cf0" stroke-width="2.1"/>
<text x="484.2" y="196.5" font-size="10.06" font-weight="bold" fill="#000" stroke="#000" stroke-width="0.3" textLength="43.1" lengthAdjust="spacingAndGlyphs" >A2780 cells</text>
<text x="486.0" y="212.4" font-size="10.1" font-weight="bold" fill="#000" stroke="#000" stroke-width="0.3" font-family="Liberation Sans, Arial, sans-serif"><tspan textLength="25.6" lengthAdjust="spacingAndGlyphs">+ Ddx4</tspan><tspan dx="0.9" dy="-3.6" font-size="6">+</tspan><tspan dy="3.6" dx="1.6" textLength="17.5" lengthAdjust="spacingAndGlyphs">cells</tspan></text>
<text x="451.5" y="252.5" font-size="12.85" font-weight="bold" fill="#000" stroke="#000" stroke-width="0.3" textLength="10.6" lengthAdjust="spacingAndGlyphs" >T3</text>
<line x1="464.2" y1="248.0" x2="466.6" y2="248.0" stroke="#333" stroke-width="1.2"/>
<path d="M469.0 236.6 Q467.0 236.6 467.0 239.1 L467.0 246.10000000000002 Q467.0 248.10000000000002 465.4 248.10000000000002 Q467.0 248.10000000000002 467.0 250.10000000000002 L467.0 257.1 Q467.0 259.6 469.0 259.6" fill="none" stroke="#333" stroke-width="0.9"/>
<line x1="471.6" y1="240.0" x2="482.5" y2="240.0" stroke="#00a050" stroke-width="2.1"/>
<line x1="471.6" y1="255.4" x2="482.6" y2="255.4" stroke="#ffbf00" stroke-width="2.1"/>
<text x="484.2" y="242.3" font-size="10.06" font-weight="bold" fill="#000" stroke="#000" stroke-width="0.3" textLength="43.1" lengthAdjust="spacingAndGlyphs" >A2780 cells</text>
<text x="486.0" y="258.4" font-size="10.1" font-weight="bold" fill="#000" stroke="#000" stroke-width="0.3" font-family="Liberation Sans, Arial, sans-serif"><tspan textLength="25.6" lengthAdjust="spacingAndGlyphs">+ Ddx4</tspan><tspan dx="0.9" dy="-3.6" font-size="6">+</tspan><tspan dy="3.6" dx="1.6" textLength="17.5" lengthAdjust="spacingAndGlyphs">cells</tspan></text>
<rect x="108.9" y="355.6" width="312.8" height="75.4" fill="none" stroke="#2e2e2e" stroke-width="1.8"/>
<line x1="213.4" y1="355.6" x2="213.4" y2="431" stroke="#2e2e2e" stroke-width="1.6"/>
<line x1="317.8" y1="370.7" x2="317.8" y2="431" stroke="#2e2e2e" stroke-width="1.6"/>
<line x1="213.4" y1="370.7" x2="421.7" y2="370.7" stroke="#2e2e2e" stroke-width="1.6"/>
<line x1="108.9" y1="385.6" x2="421.7" y2="385.6" stroke="#2e2e2e" stroke-width="1.8"/>
<line x1="108.9" y1="400.9" x2="421.7" y2="400.9" stroke="#2e2e2e" stroke-width="1.8"/>
<line x1="108.9" y1="416.0" x2="421.7" y2="416.0" stroke="#2e2e2e" stroke-width="1.8"/>
<text x="130.9" y="368.1" font-size="12.29" font-weight="bold" fill="#111" stroke="#111" stroke-width="0.3" textLength="60.3" lengthAdjust="spacingAndGlyphs" >Time points of</text>
<text x="139.3" y="382.5" font-size="12.6" font-weight="bold" fill="#111" stroke="#111" stroke-width="0.3" textLength="43.6" lengthAdjust="spacingAndGlyphs" font-family="Liberation Sans, Arial, sans-serif">co-culture</text>
<text x="232.6" y="367.8" font-size="11.45" font-weight="bold" fill="#111" stroke="#111" stroke-width="0.3" textLength="169.5" lengthAdjust="spacingAndGlyphs" >CFSE Mean fluorescence intensity (MFI)</text>
<text x="251.4" y="382.3" font-size="11.31" font-weight="bold" fill="#111" stroke="#111" stroke-width="0.3" textLength="27.8" lengthAdjust="spacingAndGlyphs" >A2780</text>
<text x="326.5" y="382.4" font-size="11.4" font-weight="bold" fill="#111" stroke="#111" stroke-width="0.3" font-family="Liberation Sans, Arial, sans-serif"><tspan textLength="62" lengthAdjust="spacingAndGlyphs">A2780 + Ddx4</tspan><tspan dx="0.4" dy="-3.8" font-size="6.5">+</tspan><tspan dy="3.8" dx="2.8" textLength="17.8" lengthAdjust="spacingAndGlyphs">cells</tspan></text>
<text x="154.6" y="398.4" font-size="12.29" font-weight="bold" fill="#111" stroke="#111" stroke-width="0.3" textLength="10.8" lengthAdjust="spacingAndGlyphs" >T1</text>
<text x="245.9" y="398.4" font-size="12.29" fill="#333" stroke="#333" stroke-width="0.3" textLength="38.4" lengthAdjust="spacingAndGlyphs" >6126+347</text>
<text x="350.2" y="398.4" font-size="12.29" fill="#333" stroke="#333" stroke-width="0.3" textLength="38.7" lengthAdjust="spacingAndGlyphs" >6080+257</text>
<rect x="264.3" y="399.8" width="6.5" height="1.3" fill="#111"/>
<rect x="368.6" y="399.8" width="6.5" height="1.3" fill="#111"/>
<text x="154.6" y="413.8" font-size="12.57" font-weight="bold" fill="#111" stroke="#111" stroke-width="0.3" textLength="10.8" lengthAdjust="spacingAndGlyphs" >T2</text>
<text x="245.9" y="413.8" font-size="12.57" fill="#333" stroke="#333" stroke-width="0.3" textLength="38.4" lengthAdjust="spacingAndGlyphs" >4040+120</text>
<text x="350.2" y="413.8" font-size="12.57" fill="#333" stroke="#333" stroke-width="0.3" textLength="38.7" lengthAdjust="spacingAndGlyphs" >4350+179</text>
<rect x="264.3" y="415.2" width="6.5" height="1.3" fill="#111"/>
<rect x="368.6" y="415.2" width="6.5" height="1.3" fill="#111"/>
<text x="154.6" y="428.8" font-size="12.71" font-weight="bold" fill="#111" stroke="#111" stroke-width="0.3" textLength="10.8" lengthAdjust="spacingAndGlyphs" >T3</text>
<text x="245.9" y="428.8" font-size="12.71" fill="#333" stroke="#333" stroke-width="0.3" textLength="38.4" lengthAdjust="spacingAndGlyphs" >3148+352</text>
<text x="350.2" y="428.8" font-size="12.71" fill="#333" stroke="#333" stroke-width="0.3" textLength="38.7" lengthAdjust="spacingAndGlyphs" >3004+232</text>
<rect x="264.3" y="430.2" width="6.5" height="1.3" fill="#111"/>
<rect x="368.6" y="430.2" width="6.5" height="1.3" fill="#111"/>
</svg>
</body></html>
